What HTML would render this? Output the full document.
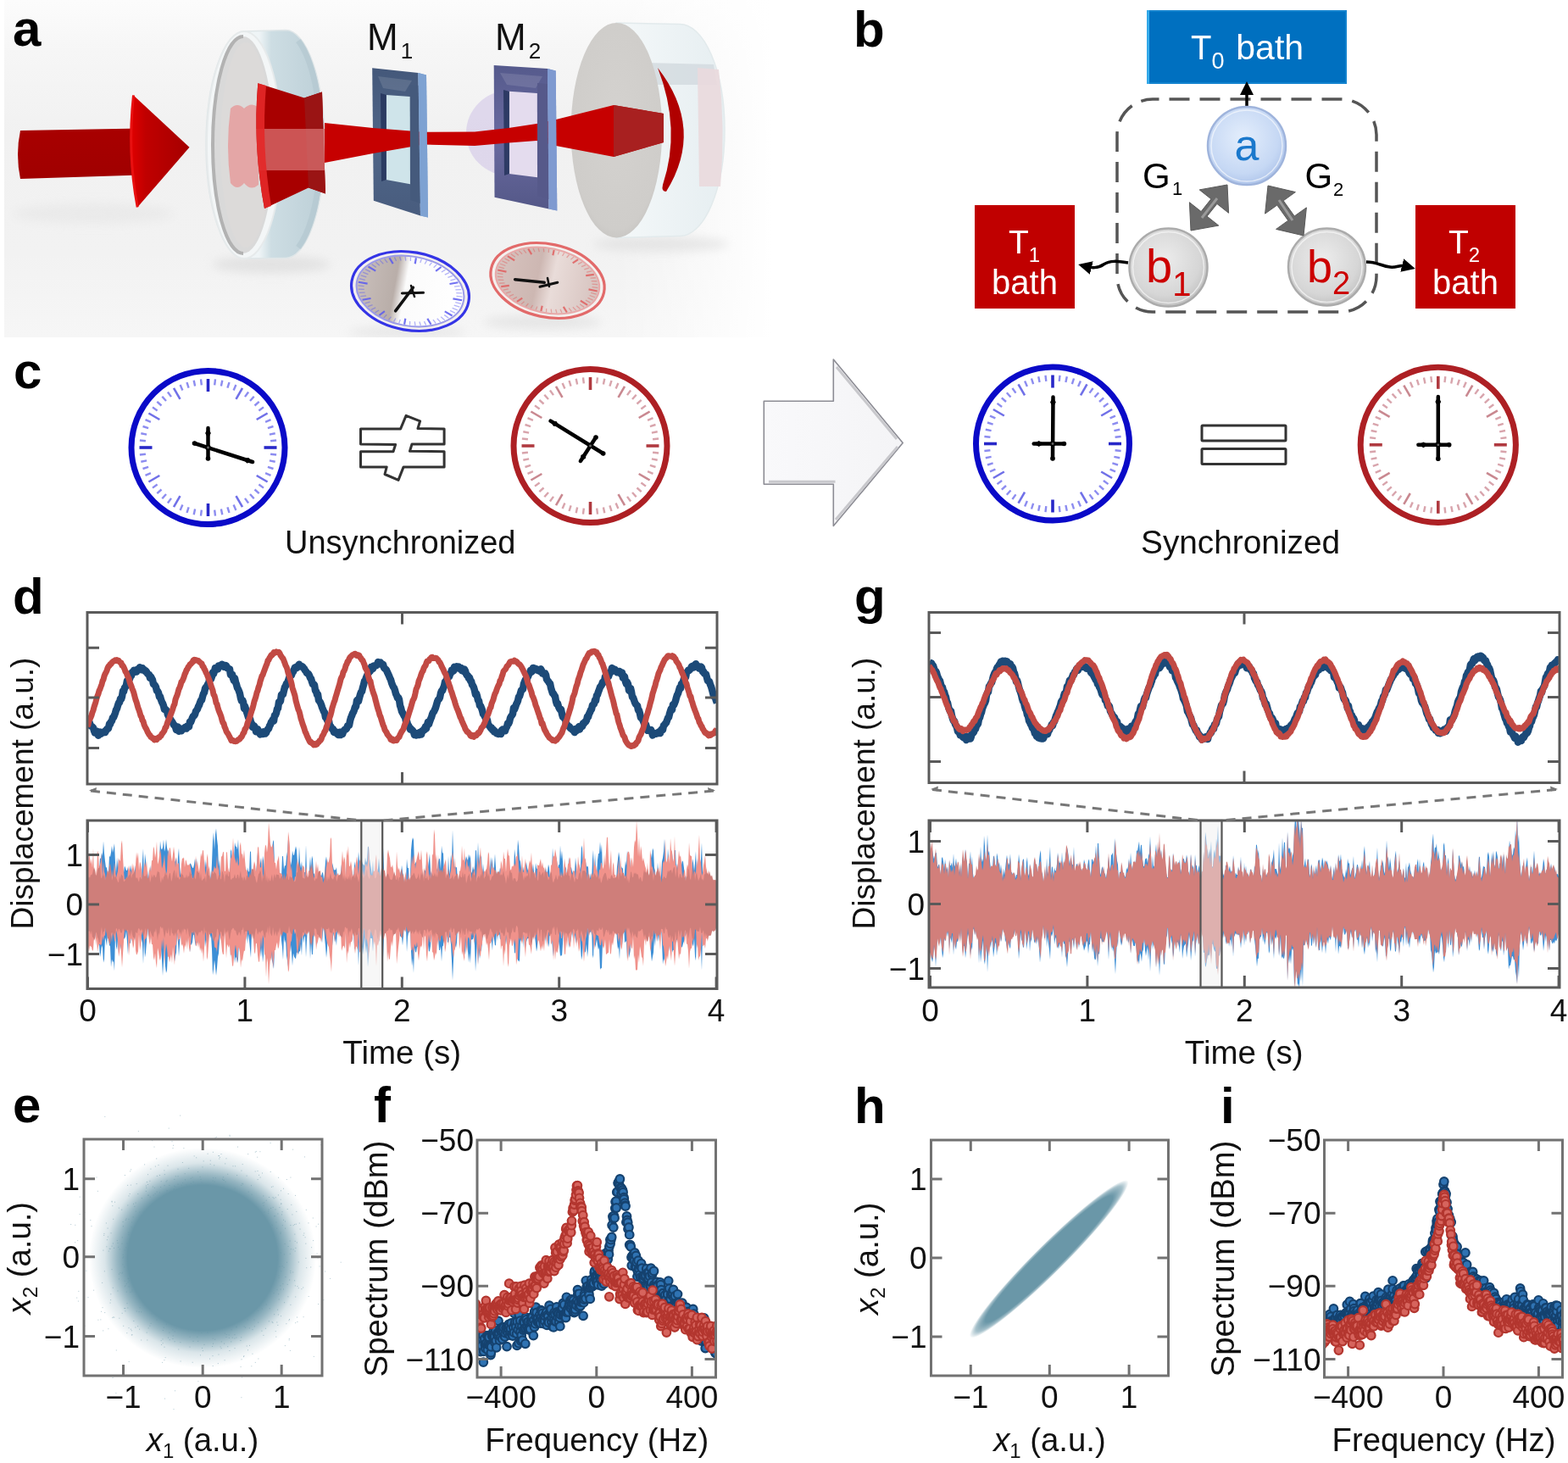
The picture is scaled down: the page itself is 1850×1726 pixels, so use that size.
<!DOCTYPE html>
<html><head><meta charset="utf-8"><title>Synchronization figure</title>
<style>
html,body{margin:0;padding:0;background:#fff;}
svg{display:block;}
</style></head><body>
<svg width="1850" height="1726" viewBox="0 0 1850 1726" font-family="'Liberation Sans', Arial, Helvetica, sans-serif">
<defs>
<linearGradient id="bgA" x1="0" y1="0" x2="0" y2="1">
<stop offset="0" stop-color="#fcfcfc"/><stop offset="0.15" stop-color="#f6f6f6"/><stop offset="0.4" stop-color="#f1f1f1"/><stop offset="0.75" stop-color="#f2f2f2"/><stop offset="1" stop-color="#f6f6f6"/></linearGradient>
<linearGradient id="bgAfade" x1="0" y1="0" x2="1" y2="0">
<stop offset="0" stop-color="#fff" stop-opacity="0"/><stop offset="0.8" stop-color="#fff" stop-opacity="0"/><stop offset="1" stop-color="#fff" stop-opacity="1"/></linearGradient>
<filter id="blur6" x="-50%" y="-50%" width="200%" height="200%"><feGaussianBlur stdDeviation="6"/></filter>
<filter id="blur2" x="-20%" y="-20%" width="140%" height="140%"><feGaussianBlur stdDeviation="1.2"/></filter>
<linearGradient id="arrHead" x1="0" y1="0" x2="1" y2="0">
<stop offset="0" stop-color="#e00000"/><stop offset="0.25" stop-color="#c00000"/><stop offset="1" stop-color="#a50000"/></linearGradient>
<linearGradient id="shaftG" x1="0" y1="0" x2="0" y2="1">
<stop offset="0" stop-color="#a80000"/><stop offset="1" stop-color="#a00000"/></linearGradient>
<linearGradient id="discBody" x1="0" y1="0" x2="1" y2="0">
<stop offset="0" stop-color="#f7fafb"/><stop offset="0.45" stop-color="#eef4f6"/><stop offset="0.55" stop-color="#cddde3"/><stop offset="1" stop-color="#bccfd7"/></linearGradient>
<linearGradient id="m1face" x1="0" y1="0" x2="0" y2="1">
<stop offset="0" stop-color="#44587a"/><stop offset="0.5" stop-color="#506688"/><stop offset="1" stop-color="#485c7e"/></linearGradient>
<linearGradient id="m2face" x1="0" y1="0" x2="0" y2="1">
<stop offset="0" stop-color="#555a8c"/><stop offset="0.5" stop-color="#6a6aa0"/><stop offset="1" stop-color="#545888"/></linearGradient>
<linearGradient id="mirBody" x1="0" y1="0" x2="1" y2="0">
<stop offset="0" stop-color="#f4f8f9"/><stop offset="1" stop-color="#e6eef1"/></linearGradient>
<radialGradient id="mirFace" cx="0.5" cy="0.45" r="0.6">
<stop offset="0" stop-color="#d4d2cf"/><stop offset="0.85" stop-color="#cfcdca"/><stop offset="1" stop-color="#c4c2bf"/></radialGradient>
<linearGradient id="clkB" x1="0" y1="0" x2="1" y2="0">
<stop offset="0" stop-color="#c9bfbb"/><stop offset="0.35" stop-color="#b9aea9"/><stop offset="0.45" stop-color="#fbfbfb"/><stop offset="1" stop-color="#ffffff"/></linearGradient>
<linearGradient id="clkR" x1="0" y1="0" x2="1" y2="0">
<stop offset="0" stop-color="#d7c3bf"/><stop offset="0.4" stop-color="#cdb7b2"/><stop offset="0.55" stop-color="#e9dcd9"/><stop offset="1" stop-color="#d6c2be"/></linearGradient>
<clipPath id="clipA"><rect x="5" y="0" width="905" height="398"/></clipPath><clipPath id="beamL"><rect x="380" y="0" width="105" height="400"/></clipPath><clipPath id="beamM"><rect x="485" y="0" width="150" height="400"/></clipPath><clipPath id="beamR"><rect x="635" y="0" width="160" height="400"/></clipPath><radialGradient id="gA" cx="0.45" cy="0.4" r="0.65">
<stop offset="0" stop-color="#e4eefc"/><stop offset="0.7" stop-color="#c6d8f4"/><stop offset="1" stop-color="#a9c0e8"/></radialGradient>
<radialGradient id="gB" cx="0.45" cy="0.4" r="0.65">
<stop offset="0" stop-color="#ececec"/><stop offset="0.7" stop-color="#d6d6d6"/><stop offset="1" stop-color="#bcbcbc"/></radialGradient>
<linearGradient id="gArr" x1="0" y1="0" x2="0" y2="1">
<stop offset="0" stop-color="#8a8a8a"/><stop offset="0.5" stop-color="#6e6e6e"/><stop offset="1" stop-color="#555"/></linearGradient>
<marker id="mk" viewBox="0 0 10 10" refX="5" refY="5" markerWidth="4.6" markerHeight="4.6" orient="auto-start-reverse"><path d="M0,0 L10,5 L0,10 z" fill="#000"/></marker><linearGradient id="gBig" x1="0" y1="0" x2="1" y2="0"><stop offset="0" stop-color="#f9f9fb"/><stop offset="1" stop-color="#f4f4f6"/></linearGradient><clipPath id="cu11"><rect x="103" y="722.5" width="743" height="202.5"/></clipPath><clipPath id="cl11"><rect x="103" y="968" width="743" height="198.5"/></clipPath><clipPath id="cu23"><rect x="1096" y="722.5" width="744" height="201.0"/></clipPath><clipPath id="cl23"><rect x="1096" y="968" width="744" height="197"/></clipPath><radialGradient id="gSc" cx="0.5" cy="0.5" r="0.5">
<stop offset="0" stop-color="#6a97a8"/><stop offset="0.66" stop-color="#6a97a8"/><stop offset="0.75" stop-color="#6a97a8" stop-opacity="0.7"/>
<stop offset="0.86" stop-color="#6a97a8" stop-opacity="0.25"/><stop offset="1" stop-color="#6a97a8" stop-opacity="0"/></radialGradient><radialGradient id="gSc2" cx="0.5" cy="0.5" r="0.5">
<stop offset="0" stop-color="#6a97a8"/><stop offset="0.8" stop-color="#6a97a8"/><stop offset="0.92" stop-color="#6a97a8" stop-opacity="0.6"/><stop offset="1" stop-color="#6a97a8" stop-opacity="0"/></radialGradient><circle id="mR" r="4.8" fill="#d6645d" stroke="#b3362f" stroke-width="2.2"/><circle id="mB" r="4.8" fill="#2f73b3" stroke="#15426f" stroke-width="2.2"/><clipPath id="cs31"><rect x="563" y="1345" width="281.5" height="280"/></clipPath><clipPath id="cs32"><rect x="1562.5" y="1345" width="281.0" height="280"/></clipPath></defs>
<rect width="1850" height="1726" fill="#fff"/>
<rect x="5" y="0" width="905" height="398" fill="url(#bgA)"/><rect x="5" y="0" width="905" height="398" fill="url(#bgAfade)"/><g clip-path="url(#clipA)"><g filter="url(#blur6)" opacity="0.55"><ellipse cx="110" cy="252" rx="95" ry="12" fill="#e4e4e4"/><ellipse cx="320" cy="312" rx="70" ry="10" fill="#d4d4d4"/><ellipse cx="480" cy="392" rx="70" ry="6" fill="#d8d8d8"/><ellipse cx="640" cy="380" rx="70" ry="8" fill="#d8d8d8"/><ellipse cx="780" cy="288" rx="80" ry="9" fill="#d8d8d8"/></g></g><path d="M24,154 L165,151.5 L165,206.5 L24,211 Q18,182 24,154 Z" fill="url(#shaftG)"/><path d="M157.5,112.4 L223.5,173.7 L162.2,244.4 Q150,180 157.5,112.4 Z" fill="url(#arrHead)"/><path d="M157.5,112.4 Q150,180 162.2,244.4" fill="none" stroke="#e81010" stroke-width="3"/><path d="M289,37 L337,35.5 A46,134.5 0 0 1 337,304.5 L289,305 A46,134 0 0 1 289,37 Z" fill="url(#discBody)" stroke="#dfe6e8" stroke-width="1.5"/><path d="M352,48 A46,134 0 0 1 352,292" fill="none" stroke="#b4c8d0" stroke-width="7" opacity="0.7"/><ellipse cx="288" cy="171" rx="44" ry="134" fill="#f3f6f7" stroke="#e6eaeb" stroke-width="2"/><ellipse cx="287" cy="171" rx="36" ry="128" fill="#d9d9d9"/><path d="M287,43 A36,128 0 0 0 287,299" fill="none" stroke="#b2b2b2" stroke-width="4"/><ellipse cx="290" cy="171" rx="30" ry="121" fill="#dcdad9"/><path d="M272,128 Q280,120 288,128 Q296,120 304,126 L305,218 Q296,226 288,216 Q280,226 272,216 Q266,172 272,128 Z" fill="#e4a0a0" opacity="0.9"/><path d="M304.3,98.2 L359,115.6 L380,108.6 L384,228.5 L364,221.6 L312,246 Q298,172 304.3,98.2 Z" fill="#a80000"/><path d="M359,115.6 L380,108.6 L384,228.5 L364,221.6 Z" fill="#9a1414"/><path d="M302,152 L383,152 L383,201 L305,201 Z" fill="#d87070" opacity="0.75"/><path d="M304.3,98.2 Q298,172 312,246 L320,243 Q308,172 314,101 Z" fill="#e42828" opacity="0.9"/><path d="M439.2,80.3 L493.5,86 L496,254.6 L440.8,236.8Z" fill="url(#m1face)"/><path d="M446,90 L486,95 L478,108 L452,104Z" fill="#ffffff" opacity="0.12"/><path d="M493.5,86 L503,88.5 L505,256.5 L496,254.6Z" fill="#7ea2d2"/><path d="M455.4,112 L483.8,114 L484,217.3 L455.4,212Z" fill="#cfe4ea"/><path d="M449,110 L456,112 L456,212 L450,214Z" fill="#24345c" opacity="0.85"/><path d="M600,107 A50,50 0 0 0 600,207 Z" fill="#c8b8e4" opacity="0.45"/><path d="M582.7,77 L646,81 L647.6,246.5 L583.5,232.7Z" fill="url(#m2face)"/><path d="M590,86 L640,90 L632,104 L598,100Z" fill="#ffffff" opacity="0.12"/><path d="M646,81 L655.7,83.5 L657.3,248.5 L647.6,246.5Z" fill="#7f9ad0"/><path d="M600.5,107.8 L633.8,110 L634,209.2 L600.5,205Z" fill="#e4dcee"/><path d="M594,106 L601,108 L601,205 L595,207Z" fill="#24345c" opacity="0.85"/><path d="M727,27 L802,28.5 A53,125 0 0 1 802,278.5 L727,280.5 Z" fill="url(#mirBody)" stroke="#e2eaec" stroke-width="1.5"/><path d="M760,74 L842,76 L846,100 L760,100 Z" fill="#d2dade" opacity="0.8"/><path d="M823,80 L848,82 Q856,150 850,220 L825,220 Z" fill="#ead9dd" opacity="0.9"/><ellipse cx="727.4" cy="153.7" rx="53.8" ry="126.8" fill="url(#mirFace)"/><path d="M383,145 L440,151 L500,155.7 L560,155.5 L600,151 L633,146 L656,141 L724,124 L783,134 L783,168 L724,185 L656,172 L633,166 L600,168.5 L560,172 L500,170.5 L440,181 L383,192Z" fill="#c60000"/><path d="M483.8,100 L493.5,101 L496,240 L484,236 Z" fill="#455a7c"/><path d="M493.5,86 L503,88.5 L505,256.5 L496,254.6 Z" fill="#7ea2d2"/><path d="M634,98 L646,99 L647.6,235 L634,231 Z" fill="#56598a"/><path d="M646,81 L655.7,83.5 L657.3,248.5 L647.6,246.5 Z" fill="#7f9ad0"/><path d="M724,124 L783,134 L783,168 L724,185 Z" fill="#a82020"/><path d="M776,80 Q832,152 786,226 Q780,226 782,218 Q804,152 776,80 Z" fill="#b00000"/><g transform="rotate(10 484 343.5)"><ellipse cx="484" cy="343.5" rx="70" ry="46" fill="#f4f0ee" stroke="#3434e6" stroke-width="3.2"/><ellipse cx="484" cy="343.5" rx="64" ry="41" fill="url(#clkB)" stroke="#9a9ae8" stroke-width="2"/><line x1="484" y1="310.7" x2="484" y2="303.7" stroke="#5a5af0" stroke-width="2.2" opacity="0.85"/><line x1="489.8" y1="308.4" x2="490.5" y2="303.9" stroke="#5a5af0" stroke-width="1.3" opacity="0.45"/><line x1="495.4" y1="309" x2="496.9" y2="304.6" stroke="#5a5af0" stroke-width="1.3" opacity="0.45"/><line x1="501" y1="310" x2="503.2" y2="305.7" stroke="#5a5af0" stroke-width="1.3" opacity="0.45"/><line x1="506.4" y1="311.3" x2="509.3" y2="307.2" stroke="#5a5af0" stroke-width="1.3" opacity="0.45"/><line x1="509.6" y1="315.1" x2="515" y2="309.1" stroke="#5a5af0" stroke-width="2.2" opacity="0.85"/><line x1="516.4" y1="315" x2="520.5" y2="311.3" stroke="#5a5af0" stroke-width="1.3" opacity="0.45"/><line x1="520.8" y1="317.3" x2="525.5" y2="313.9" stroke="#5a5af0" stroke-width="1.3" opacity="0.45"/><line x1="524.9" y1="319.9" x2="530.1" y2="316.9" stroke="#5a5af0" stroke-width="1.3" opacity="0.45"/><line x1="528.5" y1="322.8" x2="534.2" y2="320.1" stroke="#5a5af0" stroke-width="1.3" opacity="0.45"/><line x1="528.3" y1="327.1" x2="537.8" y2="323.6" stroke="#5a5af0" stroke-width="2.2" opacity="0.85"/><line x1="534.3" y1="329.2" x2="540.7" y2="327.3" stroke="#5a5af0" stroke-width="1.3" opacity="0.45"/><line x1="536.3" y1="332.6" x2="543" y2="331.2" stroke="#5a5af0" stroke-width="1.3" opacity="0.45"/><line x1="537.8" y1="336.2" x2="544.7" y2="335.2" stroke="#5a5af0" stroke-width="1.3" opacity="0.45"/><line x1="538.7" y1="339.8" x2="545.7" y2="339.3" stroke="#5a5af0" stroke-width="1.3" opacity="0.45"/><line x1="535.2" y1="343.5" x2="546.1" y2="343.5" stroke="#5a5af0" stroke-width="2.2" opacity="0.85"/><line x1="538.7" y1="347.2" x2="545.7" y2="347.7" stroke="#5a5af0" stroke-width="1.3" opacity="0.45"/><line x1="537.8" y1="350.8" x2="544.7" y2="351.8" stroke="#5a5af0" stroke-width="1.3" opacity="0.45"/><line x1="536.3" y1="354.4" x2="543" y2="355.8" stroke="#5a5af0" stroke-width="1.3" opacity="0.45"/><line x1="534.3" y1="357.8" x2="540.7" y2="359.7" stroke="#5a5af0" stroke-width="1.3" opacity="0.45"/><line x1="528.3" y1="359.9" x2="537.8" y2="363.4" stroke="#5a5af0" stroke-width="2.2" opacity="0.85"/><line x1="528.5" y1="364.2" x2="534.2" y2="366.9" stroke="#5a5af0" stroke-width="1.3" opacity="0.45"/><line x1="524.9" y1="367.1" x2="530.1" y2="370.1" stroke="#5a5af0" stroke-width="1.3" opacity="0.45"/><line x1="520.8" y1="369.7" x2="525.5" y2="373.1" stroke="#5a5af0" stroke-width="1.3" opacity="0.45"/><line x1="516.4" y1="372" x2="520.5" y2="375.7" stroke="#5a5af0" stroke-width="1.3" opacity="0.45"/><line x1="509.6" y1="371.9" x2="515" y2="377.9" stroke="#5a5af0" stroke-width="2.2" opacity="0.85"/><line x1="506.4" y1="375.7" x2="509.3" y2="379.8" stroke="#5a5af0" stroke-width="1.3" opacity="0.45"/><line x1="501" y1="377" x2="503.2" y2="381.3" stroke="#5a5af0" stroke-width="1.3" opacity="0.45"/><line x1="495.4" y1="378" x2="496.9" y2="382.4" stroke="#5a5af0" stroke-width="1.3" opacity="0.45"/><line x1="489.8" y1="378.6" x2="490.5" y2="383.1" stroke="#5a5af0" stroke-width="1.3" opacity="0.45"/><line x1="484" y1="376.3" x2="484" y2="383.3" stroke="#5a5af0" stroke-width="2.2" opacity="0.85"/><line x1="478.2" y1="378.6" x2="477.5" y2="383.1" stroke="#5a5af0" stroke-width="1.3" opacity="0.45"/><line x1="472.6" y1="378" x2="471.1" y2="382.4" stroke="#5a5af0" stroke-width="1.3" opacity="0.45"/><line x1="467" y1="377" x2="464.8" y2="381.3" stroke="#5a5af0" stroke-width="1.3" opacity="0.45"/><line x1="461.6" y1="375.7" x2="458.7" y2="379.8" stroke="#5a5af0" stroke-width="1.3" opacity="0.45"/><line x1="458.4" y1="371.9" x2="453" y2="377.9" stroke="#5a5af0" stroke-width="2.2" opacity="0.85"/><line x1="451.6" y1="372" x2="447.5" y2="375.7" stroke="#5a5af0" stroke-width="1.3" opacity="0.45"/><line x1="447.2" y1="369.7" x2="442.5" y2="373.1" stroke="#5a5af0" stroke-width="1.3" opacity="0.45"/><line x1="443.1" y1="367.1" x2="437.9" y2="370.1" stroke="#5a5af0" stroke-width="1.3" opacity="0.45"/><line x1="439.5" y1="364.2" x2="433.8" y2="366.9" stroke="#5a5af0" stroke-width="1.3" opacity="0.45"/><line x1="439.7" y1="359.9" x2="430.2" y2="363.4" stroke="#5a5af0" stroke-width="2.2" opacity="0.85"/><line x1="433.7" y1="357.8" x2="427.3" y2="359.7" stroke="#5a5af0" stroke-width="1.3" opacity="0.45"/><line x1="431.7" y1="354.4" x2="425" y2="355.8" stroke="#5a5af0" stroke-width="1.3" opacity="0.45"/><line x1="430.2" y1="350.8" x2="423.3" y2="351.8" stroke="#5a5af0" stroke-width="1.3" opacity="0.45"/><line x1="429.3" y1="347.2" x2="422.3" y2="347.7" stroke="#5a5af0" stroke-width="1.3" opacity="0.45"/><line x1="432.8" y1="343.5" x2="421.9" y2="343.5" stroke="#5a5af0" stroke-width="2.2" opacity="0.85"/><line x1="429.3" y1="339.8" x2="422.3" y2="339.3" stroke="#5a5af0" stroke-width="1.3" opacity="0.45"/><line x1="430.2" y1="336.2" x2="423.3" y2="335.2" stroke="#5a5af0" stroke-width="1.3" opacity="0.45"/><line x1="431.7" y1="332.6" x2="425" y2="331.2" stroke="#5a5af0" stroke-width="1.3" opacity="0.45"/><line x1="433.7" y1="329.2" x2="427.3" y2="327.3" stroke="#5a5af0" stroke-width="1.3" opacity="0.45"/><line x1="439.7" y1="327.1" x2="430.2" y2="323.6" stroke="#5a5af0" stroke-width="2.2" opacity="0.85"/><line x1="439.5" y1="322.8" x2="433.8" y2="320.1" stroke="#5a5af0" stroke-width="1.3" opacity="0.45"/><line x1="443.1" y1="319.9" x2="437.9" y2="316.9" stroke="#5a5af0" stroke-width="1.3" opacity="0.45"/><line x1="447.2" y1="317.3" x2="442.5" y2="313.9" stroke="#5a5af0" stroke-width="1.3" opacity="0.45"/><line x1="451.6" y1="315" x2="447.5" y2="311.3" stroke="#5a5af0" stroke-width="1.3" opacity="0.45"/><line x1="458.4" y1="315.1" x2="453" y2="309.1" stroke="#5a5af0" stroke-width="2.2" opacity="0.85"/><line x1="461.6" y1="311.3" x2="458.7" y2="307.2" stroke="#5a5af0" stroke-width="1.3" opacity="0.45"/><line x1="467" y1="310" x2="464.8" y2="305.7" stroke="#5a5af0" stroke-width="1.3" opacity="0.45"/><line x1="472.6" y1="309" x2="471.1" y2="304.6" stroke="#5a5af0" stroke-width="1.3" opacity="0.45"/><line x1="478.2" y1="308.4" x2="477.5" y2="303.9" stroke="#5a5af0" stroke-width="1.3" opacity="0.45"/></g><line x1="487.4" y1="339.2" x2="466.6" y2="366.9" stroke="#111" stroke-width="3.5" stroke-linecap="round"/><line x1="474.4" y1="346" x2="499.5" y2="345.3" stroke="#111" stroke-width="3" stroke-linecap="round"/><line x1="485" y1="337" x2="489" y2="350" stroke="#111" stroke-width="2.5" stroke-linecap="round"/><g transform="rotate(12 646 331)"><ellipse cx="646" cy="331" rx="68" ry="43" fill="#f4f0ee" stroke="#e26a6a" stroke-width="3.2"/><ellipse cx="646" cy="331" rx="62" ry="38" fill="url(#clkR)" stroke="#e8a8a8" stroke-width="2"/><line x1="646" y1="300.6" x2="646" y2="294.1" stroke="#e06060" stroke-width="2.2" opacity="0.85"/><line x1="651.6" y1="298.5" x2="652.3" y2="294.3" stroke="#e06060" stroke-width="1.3" opacity="0.45"/><line x1="657.1" y1="299" x2="658.5" y2="294.9" stroke="#e06060" stroke-width="1.3" opacity="0.45"/><line x1="662.5" y1="299.9" x2="664.6" y2="295.9" stroke="#e06060" stroke-width="1.3" opacity="0.45"/><line x1="667.7" y1="301.1" x2="670.5" y2="297.3" stroke="#e06060" stroke-width="1.3" opacity="0.45"/><line x1="670.8" y1="304.7" x2="676.1" y2="299.1" stroke="#e06060" stroke-width="2.2" opacity="0.85"/><line x1="677.3" y1="304.6" x2="681.3" y2="301.2" stroke="#e06060" stroke-width="1.3" opacity="0.45"/><line x1="681.7" y1="306.7" x2="686.2" y2="303.6" stroke="#e06060" stroke-width="1.3" opacity="0.45"/><line x1="685.6" y1="309.1" x2="690.7" y2="306.3" stroke="#e06060" stroke-width="1.3" opacity="0.45"/><line x1="689.1" y1="311.8" x2="694.7" y2="309.3" stroke="#e06060" stroke-width="1.3" opacity="0.45"/><line x1="689" y1="315.8" x2="698.1" y2="312.6" stroke="#e06060" stroke-width="2.2" opacity="0.85"/><line x1="694.7" y1="317.7" x2="700.9" y2="316" stroke="#e06060" stroke-width="1.3" opacity="0.45"/><line x1="696.7" y1="320.9" x2="703.2" y2="319.6" stroke="#e06060" stroke-width="1.3" opacity="0.45"/><line x1="698.2" y1="324.2" x2="704.8" y2="323.3" stroke="#e06060" stroke-width="1.3" opacity="0.45"/><line x1="699" y1="327.6" x2="705.8" y2="327.1" stroke="#e06060" stroke-width="1.3" opacity="0.45"/><line x1="695.6" y1="331" x2="706.1" y2="331" stroke="#e06060" stroke-width="2.2" opacity="0.85"/><line x1="699" y1="334.4" x2="705.8" y2="334.9" stroke="#e06060" stroke-width="1.3" opacity="0.45"/><line x1="698.2" y1="337.8" x2="704.8" y2="338.7" stroke="#e06060" stroke-width="1.3" opacity="0.45"/><line x1="696.7" y1="341.1" x2="703.2" y2="342.4" stroke="#e06060" stroke-width="1.3" opacity="0.45"/><line x1="694.7" y1="344.3" x2="700.9" y2="346" stroke="#e06060" stroke-width="1.3" opacity="0.45"/><line x1="689" y1="346.2" x2="698.1" y2="349.4" stroke="#e06060" stroke-width="2.2" opacity="0.85"/><line x1="689.1" y1="350.2" x2="694.7" y2="352.7" stroke="#e06060" stroke-width="1.3" opacity="0.45"/><line x1="685.6" y1="352.9" x2="690.7" y2="355.7" stroke="#e06060" stroke-width="1.3" opacity="0.45"/><line x1="681.7" y1="355.3" x2="686.2" y2="358.4" stroke="#e06060" stroke-width="1.3" opacity="0.45"/><line x1="677.3" y1="357.4" x2="681.3" y2="360.8" stroke="#e06060" stroke-width="1.3" opacity="0.45"/><line x1="670.8" y1="357.3" x2="676.1" y2="362.9" stroke="#e06060" stroke-width="2.2" opacity="0.85"/><line x1="667.7" y1="360.9" x2="670.5" y2="364.7" stroke="#e06060" stroke-width="1.3" opacity="0.45"/><line x1="662.5" y1="362.1" x2="664.6" y2="366.1" stroke="#e06060" stroke-width="1.3" opacity="0.45"/><line x1="657.1" y1="363" x2="658.5" y2="367.1" stroke="#e06060" stroke-width="1.3" opacity="0.45"/><line x1="651.6" y1="363.5" x2="652.3" y2="367.7" stroke="#e06060" stroke-width="1.3" opacity="0.45"/><line x1="646" y1="361.4" x2="646" y2="367.9" stroke="#e06060" stroke-width="2.2" opacity="0.85"/><line x1="640.4" y1="363.5" x2="639.7" y2="367.7" stroke="#e06060" stroke-width="1.3" opacity="0.45"/><line x1="634.9" y1="363" x2="633.5" y2="367.1" stroke="#e06060" stroke-width="1.3" opacity="0.45"/><line x1="629.5" y1="362.1" x2="627.4" y2="366.1" stroke="#e06060" stroke-width="1.3" opacity="0.45"/><line x1="624.3" y1="360.9" x2="621.5" y2="364.7" stroke="#e06060" stroke-width="1.3" opacity="0.45"/><line x1="621.2" y1="357.3" x2="615.9" y2="362.9" stroke="#e06060" stroke-width="2.2" opacity="0.85"/><line x1="614.7" y1="357.4" x2="610.7" y2="360.8" stroke="#e06060" stroke-width="1.3" opacity="0.45"/><line x1="610.3" y1="355.3" x2="605.8" y2="358.4" stroke="#e06060" stroke-width="1.3" opacity="0.45"/><line x1="606.4" y1="352.9" x2="601.3" y2="355.7" stroke="#e06060" stroke-width="1.3" opacity="0.45"/><line x1="602.9" y1="350.2" x2="597.3" y2="352.7" stroke="#e06060" stroke-width="1.3" opacity="0.45"/><line x1="603" y1="346.2" x2="593.9" y2="349.4" stroke="#e06060" stroke-width="2.2" opacity="0.85"/><line x1="597.3" y1="344.3" x2="591.1" y2="346" stroke="#e06060" stroke-width="1.3" opacity="0.45"/><line x1="595.3" y1="341.1" x2="588.8" y2="342.4" stroke="#e06060" stroke-width="1.3" opacity="0.45"/><line x1="593.8" y1="337.8" x2="587.2" y2="338.7" stroke="#e06060" stroke-width="1.3" opacity="0.45"/><line x1="593" y1="334.4" x2="586.2" y2="334.9" stroke="#e06060" stroke-width="1.3" opacity="0.45"/><line x1="596.4" y1="331" x2="585.9" y2="331" stroke="#e06060" stroke-width="2.2" opacity="0.85"/><line x1="593" y1="327.6" x2="586.2" y2="327.1" stroke="#e06060" stroke-width="1.3" opacity="0.45"/><line x1="593.8" y1="324.2" x2="587.2" y2="323.3" stroke="#e06060" stroke-width="1.3" opacity="0.45"/><line x1="595.3" y1="320.9" x2="588.8" y2="319.6" stroke="#e06060" stroke-width="1.3" opacity="0.45"/><line x1="597.3" y1="317.7" x2="591.1" y2="316" stroke="#e06060" stroke-width="1.3" opacity="0.45"/><line x1="603" y1="315.8" x2="593.9" y2="312.6" stroke="#e06060" stroke-width="2.2" opacity="0.85"/><line x1="602.9" y1="311.8" x2="597.3" y2="309.3" stroke="#e06060" stroke-width="1.3" opacity="0.45"/><line x1="606.4" y1="309.1" x2="601.3" y2="306.3" stroke="#e06060" stroke-width="1.3" opacity="0.45"/><line x1="610.3" y1="306.7" x2="605.8" y2="303.6" stroke="#e06060" stroke-width="1.3" opacity="0.45"/><line x1="614.7" y1="304.6" x2="610.7" y2="301.2" stroke="#e06060" stroke-width="1.3" opacity="0.45"/><line x1="621.2" y1="304.7" x2="615.9" y2="299.1" stroke="#e06060" stroke-width="2.2" opacity="0.85"/><line x1="624.3" y1="301.1" x2="621.5" y2="297.3" stroke="#e06060" stroke-width="1.3" opacity="0.45"/><line x1="629.5" y1="299.9" x2="627.4" y2="295.9" stroke="#e06060" stroke-width="1.3" opacity="0.45"/><line x1="634.9" y1="299" x2="633.5" y2="294.9" stroke="#e06060" stroke-width="1.3" opacity="0.45"/><line x1="640.4" y1="298.5" x2="639.7" y2="294.3" stroke="#e06060" stroke-width="1.3" opacity="0.45"/></g><line x1="607.6" y1="329.7" x2="642.2" y2="333.2" stroke="#111" stroke-width="3.5" stroke-linecap="round"/><line x1="637" y1="338.3" x2="657.8" y2="333.2" stroke="#111" stroke-width="3" stroke-linecap="round"/><line x1="646" y1="328" x2="648" y2="338" stroke="#111" stroke-width="2.5" stroke-linecap="round"/><text x="433" y="58.7" font-size="44" fill="#111">M<tspan font-size="26" dy="10" dx="3">1</tspan></text><text x="584" y="58.7" font-size="44" fill="#111">M<tspan font-size="26" dy="10" dx="3">2</tspan></text><rect x="1353" y="12" width="236" height="87" fill="#0070c0"/><rect x="1353" y="12" width="3" height="87" fill="#3cb4f0"/><rect x="1354" y="13" width="234" height="85" fill="none" stroke="#2a9ae0" stroke-width="1.5" opacity="0.6"/><text x="1405" y="70" font-size="40" fill="#fff">T<tspan x="1429.5" font-size="27" dy="10.5">0</tspan><tspan x="1458.3" dy="-10.5" font-size="41">bath</tspan></text><rect x="1318" y="117" width="306" height="251" rx="42" ry="42" fill="none" stroke="#555" stroke-width="3.5" stroke-dasharray="24 12" stroke-dashoffset="16.5"/><line x1="1471" y1="127" x2="1471" y2="104" stroke="#000" stroke-width="3.5" marker-end="url(#mk)"/><circle cx="1471" cy="172" r="46" fill="url(#gA)" stroke="#9fb4dc" stroke-width="2.5"/><circle cx="1471" cy="172" r="42" fill="none" stroke="#fff" stroke-width="1.5" opacity="0.6"/><text x="1471" y="189" font-size="52" fill="#1a78cc" text-anchor="middle">a</text><circle cx="1378.5" cy="315.5" r="46" fill="url(#gB)" stroke="#ababab" stroke-width="2.5"/><circle cx="1378.5" cy="315.5" r="42" fill="none" stroke="#fff" stroke-width="1.5" opacity="0.6"/><text x="1352" y="333" font-size="56" fill="#cc0000">b<tspan font-size="40" dy="16">1</tspan></text><circle cx="1565.5" cy="315" r="45.5" fill="url(#gB)" stroke="#ababab" stroke-width="2.5"/><circle cx="1565.5" cy="315" r="41.5" fill="none" stroke="#fff" stroke-width="1.5" opacity="0.6"/><text x="1542" y="333" font-size="54" fill="#cc0000">b<tspan font-size="38" dy="14">2</tspan></text><text x="1348" y="222" font-size="42" fill="#000">G<tspan x="1383" font-size="22" dy="8.4">1</tspan></text><text x="1539.5" y="222" font-size="42" fill="#000">G<tspan x="1573" font-size="22" dy="9">2</tspan></text><path d="M1405,272 L1437.8,266.1 L1424.1,255.2 L1435.9,240.4 L1449.6,251.3 L1448,218 L1415.2,223.9 L1428.9,234.8 L1417.1,249.6 L1403.4,238.7Z" fill="#6a6a6a" stroke="#5a5a5a" stroke-width="1"/><path d="M1496,219 L1492.6,252.1 L1506.8,242 L1519.8,260.2 L1505.6,270.4 L1538,278 L1541.4,244.9 L1527.2,255 L1514.2,236.8 L1528.4,226.6Z" fill="#6a6a6a" stroke="#5a5a5a" stroke-width="1"/><path d="M1418,257 L1436,234 M1509,236 L1525,260" stroke="#9a9a9a" stroke-width="3"/><rect x="1150" y="242" width="118" height="122" fill="#c00000"/><text x="1190" y="299" font-size="39" fill="#fff">T<tspan font-size="24" dy="10">1</tspan></text><text x="1209" y="347" font-size="40" fill="#fff" text-anchor="middle">bath</text><rect x="1670" y="242" width="118" height="122" fill="#c00000"/><text x="1709" y="299" font-size="39" fill="#fff">T<tspan font-size="24" dy="10">2</tspan></text><text x="1729" y="347" font-size="40" fill="#fff" text-anchor="middle">bath</text><path d="M1331,310 C1318,308 1310,307 1302,312 C1295,317 1288,316 1280,314" fill="none" stroke="#000" stroke-width="3.5" marker-end="url(#mk)"/><path d="M1612,309 C1625,309 1630,314 1640,315 C1648,316 1652,312 1658,314 L1662,315" fill="none" stroke="#000" stroke-width="3.5" marker-end="url(#mk)"/><circle cx="245.5" cy="528" r="90.5" fill="#fff" stroke="#0a0ac8" stroke-width="7"/><line x1="245.5" y1="462" x2="245.5" y2="447" stroke="#2828c8" stroke-width="3.6"/><line x1="253.2" y1="454.4" x2="254" y2="447.4" stroke="#8c8cf0" stroke-width="2.4"/><line x1="260.9" y1="455.6" x2="262.3" y2="448.8" stroke="#8c8cf0" stroke-width="2.4"/><line x1="268.4" y1="457.6" x2="270.5" y2="451" stroke="#8c8cf0" stroke-width="2.4"/><line x1="275.6" y1="460.4" x2="278.4" y2="454" stroke="#8c8cf0" stroke-width="2.4"/><line x1="278.5" y1="470.8" x2="286" y2="457.9" stroke="#7070e8" stroke-width="2.6"/><line x1="289" y1="468.1" x2="293.1" y2="462.5" stroke="#8c8cf0" stroke-width="2.4"/><line x1="295" y1="473" x2="299.7" y2="467.8" stroke="#8c8cf0" stroke-width="2.4"/><line x1="300.5" y1="478.5" x2="305.7" y2="473.8" stroke="#8c8cf0" stroke-width="2.4"/><line x1="305.4" y1="484.5" x2="311" y2="480.4" stroke="#8c8cf0" stroke-width="2.4"/><line x1="302.7" y1="495" x2="315.6" y2="487.5" stroke="#7070e8" stroke-width="2.6"/><line x1="313.1" y1="497.9" x2="319.5" y2="495.1" stroke="#8c8cf0" stroke-width="2.4"/><line x1="315.9" y1="505.1" x2="322.5" y2="503" stroke="#8c8cf0" stroke-width="2.4"/><line x1="317.9" y1="512.6" x2="324.7" y2="511.2" stroke="#8c8cf0" stroke-width="2.4"/><line x1="319.1" y1="520.3" x2="326.1" y2="519.5" stroke="#8c8cf0" stroke-width="2.4"/><line x1="311.5" y1="528" x2="326.5" y2="528" stroke="#2828c8" stroke-width="3.6"/><line x1="319.1" y1="535.7" x2="326.1" y2="536.5" stroke="#8c8cf0" stroke-width="2.4"/><line x1="317.9" y1="543.4" x2="324.7" y2="544.8" stroke="#8c8cf0" stroke-width="2.4"/><line x1="315.9" y1="550.9" x2="322.5" y2="553" stroke="#8c8cf0" stroke-width="2.4"/><line x1="313.1" y1="558.1" x2="319.5" y2="560.9" stroke="#8c8cf0" stroke-width="2.4"/><line x1="302.7" y1="561" x2="315.6" y2="568.5" stroke="#7070e8" stroke-width="2.6"/><line x1="305.4" y1="571.5" x2="311" y2="575.6" stroke="#8c8cf0" stroke-width="2.4"/><line x1="300.5" y1="577.5" x2="305.7" y2="582.2" stroke="#8c8cf0" stroke-width="2.4"/><line x1="295" y1="583" x2="299.7" y2="588.2" stroke="#8c8cf0" stroke-width="2.4"/><line x1="289" y1="587.9" x2="293.1" y2="593.5" stroke="#8c8cf0" stroke-width="2.4"/><line x1="278.5" y1="585.2" x2="286" y2="598.1" stroke="#7070e8" stroke-width="2.6"/><line x1="275.6" y1="595.6" x2="278.4" y2="602" stroke="#8c8cf0" stroke-width="2.4"/><line x1="268.4" y1="598.4" x2="270.5" y2="605" stroke="#8c8cf0" stroke-width="2.4"/><line x1="260.9" y1="600.4" x2="262.3" y2="607.2" stroke="#8c8cf0" stroke-width="2.4"/><line x1="253.2" y1="601.6" x2="254" y2="608.6" stroke="#8c8cf0" stroke-width="2.4"/><line x1="245.5" y1="594" x2="245.5" y2="609" stroke="#2828c8" stroke-width="3.6"/><line x1="237.8" y1="601.6" x2="237" y2="608.6" stroke="#8c8cf0" stroke-width="2.4"/><line x1="230.1" y1="600.4" x2="228.7" y2="607.2" stroke="#8c8cf0" stroke-width="2.4"/><line x1="222.6" y1="598.4" x2="220.5" y2="605" stroke="#8c8cf0" stroke-width="2.4"/><line x1="215.4" y1="595.6" x2="212.6" y2="602" stroke="#8c8cf0" stroke-width="2.4"/><line x1="212.5" y1="585.2" x2="205" y2="598.1" stroke="#7070e8" stroke-width="2.6"/><line x1="202" y1="587.9" x2="197.9" y2="593.5" stroke="#8c8cf0" stroke-width="2.4"/><line x1="196" y1="583" x2="191.3" y2="588.2" stroke="#8c8cf0" stroke-width="2.4"/><line x1="190.5" y1="577.5" x2="185.3" y2="582.2" stroke="#8c8cf0" stroke-width="2.4"/><line x1="185.6" y1="571.5" x2="180" y2="575.6" stroke="#8c8cf0" stroke-width="2.4"/><line x1="188.3" y1="561" x2="175.4" y2="568.5" stroke="#7070e8" stroke-width="2.6"/><line x1="177.9" y1="558.1" x2="171.5" y2="560.9" stroke="#8c8cf0" stroke-width="2.4"/><line x1="175.1" y1="550.9" x2="168.5" y2="553" stroke="#8c8cf0" stroke-width="2.4"/><line x1="173.1" y1="543.4" x2="166.3" y2="544.8" stroke="#8c8cf0" stroke-width="2.4"/><line x1="171.9" y1="535.7" x2="164.9" y2="536.5" stroke="#8c8cf0" stroke-width="2.4"/><line x1="179.5" y1="528" x2="164.5" y2="528" stroke="#2828c8" stroke-width="3.6"/><line x1="171.9" y1="520.3" x2="164.9" y2="519.5" stroke="#8c8cf0" stroke-width="2.4"/><line x1="173.1" y1="512.6" x2="166.3" y2="511.2" stroke="#8c8cf0" stroke-width="2.4"/><line x1="175.1" y1="505.1" x2="168.5" y2="503" stroke="#8c8cf0" stroke-width="2.4"/><line x1="177.9" y1="497.9" x2="171.5" y2="495.1" stroke="#8c8cf0" stroke-width="2.4"/><line x1="188.3" y1="495" x2="175.4" y2="487.5" stroke="#7070e8" stroke-width="2.6"/><line x1="185.6" y1="484.5" x2="180" y2="480.4" stroke="#8c8cf0" stroke-width="2.4"/><line x1="190.5" y1="478.5" x2="185.3" y2="473.8" stroke="#8c8cf0" stroke-width="2.4"/><line x1="196" y1="473" x2="191.3" y2="467.8" stroke="#8c8cf0" stroke-width="2.4"/><line x1="202" y1="468.1" x2="197.9" y2="462.5" stroke="#8c8cf0" stroke-width="2.4"/><line x1="212.5" y1="470.8" x2="205" y2="457.9" stroke="#7070e8" stroke-width="2.6"/><line x1="215.4" y1="460.4" x2="212.6" y2="454" stroke="#8c8cf0" stroke-width="2.4"/><line x1="222.6" y1="457.6" x2="220.5" y2="451" stroke="#8c8cf0" stroke-width="2.4"/><line x1="230.1" y1="455.6" x2="228.7" y2="448.8" stroke="#8c8cf0" stroke-width="2.4"/><line x1="237.8" y1="454.4" x2="237" y2="447.4" stroke="#8c8cf0" stroke-width="2.4"/><line x1="229.5" y1="523" x2="298" y2="545" stroke="#000" stroke-width="4.5" stroke-linecap="round"/><path d="M298,545 L291.2,546.4 L286.6,541.3 L293.3,539.9Z" fill="#000"/><circle cx="229.5" cy="523" r="2.8" fill="#000"/><line x1="245.5" y1="541" x2="245.5" y2="505" stroke="#000" stroke-width="4.5" stroke-linecap="round"/><path d="M245.5,505 L248.9,511 L245.5,517 L242.1,511Z" fill="#000"/><circle cx="245.5" cy="541" r="2.8" fill="#000"/><circle cx="245.5" cy="528" r="3.2" fill="#000"/><circle cx="245.5" cy="528" r="1.4" fill="#666"/><circle cx="696.5" cy="526" r="90.5" fill="#fff" stroke="#ad2024" stroke-width="7"/><line x1="696.5" y1="460" x2="696.5" y2="445" stroke="#b03a40" stroke-width="3.6"/><line x1="704.2" y1="452.4" x2="705" y2="445.4" stroke="#d8a4ac" stroke-width="2.4"/><line x1="711.9" y1="453.6" x2="713.3" y2="446.8" stroke="#d8a4ac" stroke-width="2.4"/><line x1="719.4" y1="455.6" x2="721.5" y2="449" stroke="#d8a4ac" stroke-width="2.4"/><line x1="726.6" y1="458.4" x2="729.4" y2="452" stroke="#d8a4ac" stroke-width="2.4"/><line x1="729.5" y1="468.8" x2="737" y2="455.9" stroke="#c98890" stroke-width="2.6"/><line x1="740" y1="466.1" x2="744.1" y2="460.5" stroke="#d8a4ac" stroke-width="2.4"/><line x1="746" y1="471" x2="750.7" y2="465.8" stroke="#d8a4ac" stroke-width="2.4"/><line x1="751.5" y1="476.5" x2="756.7" y2="471.8" stroke="#d8a4ac" stroke-width="2.4"/><line x1="756.4" y1="482.5" x2="762" y2="478.4" stroke="#d8a4ac" stroke-width="2.4"/><line x1="753.7" y1="493" x2="766.6" y2="485.5" stroke="#c98890" stroke-width="2.6"/><line x1="764.1" y1="495.9" x2="770.5" y2="493.1" stroke="#d8a4ac" stroke-width="2.4"/><line x1="766.9" y1="503.1" x2="773.5" y2="501" stroke="#d8a4ac" stroke-width="2.4"/><line x1="768.9" y1="510.6" x2="775.7" y2="509.2" stroke="#d8a4ac" stroke-width="2.4"/><line x1="770.1" y1="518.3" x2="777.1" y2="517.5" stroke="#d8a4ac" stroke-width="2.4"/><line x1="762.5" y1="526" x2="777.5" y2="526" stroke="#b03a40" stroke-width="3.6"/><line x1="770.1" y1="533.7" x2="777.1" y2="534.5" stroke="#d8a4ac" stroke-width="2.4"/><line x1="768.9" y1="541.4" x2="775.7" y2="542.8" stroke="#d8a4ac" stroke-width="2.4"/><line x1="766.9" y1="548.9" x2="773.5" y2="551" stroke="#d8a4ac" stroke-width="2.4"/><line x1="764.1" y1="556.1" x2="770.5" y2="558.9" stroke="#d8a4ac" stroke-width="2.4"/><line x1="753.7" y1="559" x2="766.6" y2="566.5" stroke="#c98890" stroke-width="2.6"/><line x1="756.4" y1="569.5" x2="762" y2="573.6" stroke="#d8a4ac" stroke-width="2.4"/><line x1="751.5" y1="575.5" x2="756.7" y2="580.2" stroke="#d8a4ac" stroke-width="2.4"/><line x1="746" y1="581" x2="750.7" y2="586.2" stroke="#d8a4ac" stroke-width="2.4"/><line x1="740" y1="585.9" x2="744.1" y2="591.5" stroke="#d8a4ac" stroke-width="2.4"/><line x1="729.5" y1="583.2" x2="737" y2="596.1" stroke="#c98890" stroke-width="2.6"/><line x1="726.6" y1="593.6" x2="729.4" y2="600" stroke="#d8a4ac" stroke-width="2.4"/><line x1="719.4" y1="596.4" x2="721.5" y2="603" stroke="#d8a4ac" stroke-width="2.4"/><line x1="711.9" y1="598.4" x2="713.3" y2="605.2" stroke="#d8a4ac" stroke-width="2.4"/><line x1="704.2" y1="599.6" x2="705" y2="606.6" stroke="#d8a4ac" stroke-width="2.4"/><line x1="696.5" y1="592" x2="696.5" y2="607" stroke="#b03a40" stroke-width="3.6"/><line x1="688.8" y1="599.6" x2="688" y2="606.6" stroke="#d8a4ac" stroke-width="2.4"/><line x1="681.1" y1="598.4" x2="679.7" y2="605.2" stroke="#d8a4ac" stroke-width="2.4"/><line x1="673.6" y1="596.4" x2="671.5" y2="603" stroke="#d8a4ac" stroke-width="2.4"/><line x1="666.4" y1="593.6" x2="663.6" y2="600" stroke="#d8a4ac" stroke-width="2.4"/><line x1="663.5" y1="583.2" x2="656" y2="596.1" stroke="#c98890" stroke-width="2.6"/><line x1="653" y1="585.9" x2="648.9" y2="591.5" stroke="#d8a4ac" stroke-width="2.4"/><line x1="647" y1="581" x2="642.3" y2="586.2" stroke="#d8a4ac" stroke-width="2.4"/><line x1="641.5" y1="575.5" x2="636.3" y2="580.2" stroke="#d8a4ac" stroke-width="2.4"/><line x1="636.6" y1="569.5" x2="631" y2="573.6" stroke="#d8a4ac" stroke-width="2.4"/><line x1="639.3" y1="559" x2="626.4" y2="566.5" stroke="#c98890" stroke-width="2.6"/><line x1="628.9" y1="556.1" x2="622.5" y2="558.9" stroke="#d8a4ac" stroke-width="2.4"/><line x1="626.1" y1="548.9" x2="619.5" y2="551" stroke="#d8a4ac" stroke-width="2.4"/><line x1="624.1" y1="541.4" x2="617.3" y2="542.8" stroke="#d8a4ac" stroke-width="2.4"/><line x1="622.9" y1="533.7" x2="615.9" y2="534.5" stroke="#d8a4ac" stroke-width="2.4"/><line x1="630.5" y1="526" x2="615.5" y2="526" stroke="#b03a40" stroke-width="3.6"/><line x1="622.9" y1="518.3" x2="615.9" y2="517.5" stroke="#d8a4ac" stroke-width="2.4"/><line x1="624.1" y1="510.6" x2="617.3" y2="509.2" stroke="#d8a4ac" stroke-width="2.4"/><line x1="626.1" y1="503.1" x2="619.5" y2="501" stroke="#d8a4ac" stroke-width="2.4"/><line x1="628.9" y1="495.9" x2="622.5" y2="493.1" stroke="#d8a4ac" stroke-width="2.4"/><line x1="639.3" y1="493" x2="626.4" y2="485.5" stroke="#c98890" stroke-width="2.6"/><line x1="636.6" y1="482.5" x2="631" y2="478.4" stroke="#d8a4ac" stroke-width="2.4"/><line x1="641.5" y1="476.5" x2="636.3" y2="471.8" stroke="#d8a4ac" stroke-width="2.4"/><line x1="647" y1="471" x2="642.3" y2="465.8" stroke="#d8a4ac" stroke-width="2.4"/><line x1="653" y1="466.1" x2="648.9" y2="460.5" stroke="#d8a4ac" stroke-width="2.4"/><line x1="663.5" y1="468.8" x2="656" y2="455.9" stroke="#c98890" stroke-width="2.6"/><line x1="666.4" y1="458.4" x2="663.6" y2="452" stroke="#d8a4ac" stroke-width="2.4"/><line x1="673.6" y1="455.6" x2="671.5" y2="449" stroke="#d8a4ac" stroke-width="2.4"/><line x1="681.1" y1="453.6" x2="679.7" y2="446.8" stroke="#d8a4ac" stroke-width="2.4"/><line x1="688.8" y1="452.4" x2="688" y2="445.4" stroke="#d8a4ac" stroke-width="2.4"/><line x1="711.7" y1="535" x2="649.6" y2="496.7" stroke="#000" stroke-width="4.5" stroke-linecap="round"/><path d="M649.6,496.7 L656.5,497 L659.8,503.1 L652.9,502.8Z" fill="#000"/><circle cx="711.7" cy="535" r="2.8" fill="#000"/><line x1="703" y1="516" x2="684.9" y2="544" stroke="#000" stroke-width="4.5" stroke-linecap="round"/><path d="M684.9,544 L685.3,537.1 L691.4,533.9 L691,540.8Z" fill="#000"/><circle cx="703" cy="516" r="2.8" fill="#000"/><circle cx="696.5" cy="526" r="3.2" fill="#000"/><circle cx="696.5" cy="526" r="1.4" fill="#666"/><circle cx="1242" cy="523.5" r="90.5" fill="#fff" stroke="#0a0ac8" stroke-width="7"/><line x1="1242" y1="457.5" x2="1242" y2="442.5" stroke="#2828c8" stroke-width="3.6"/><line x1="1249.7" y1="449.9" x2="1250.5" y2="442.9" stroke="#8c8cf0" stroke-width="2.4"/><line x1="1257.4" y1="451.1" x2="1258.8" y2="444.3" stroke="#8c8cf0" stroke-width="2.4"/><line x1="1264.9" y1="453.1" x2="1267" y2="446.5" stroke="#8c8cf0" stroke-width="2.4"/><line x1="1272.1" y1="455.9" x2="1274.9" y2="449.5" stroke="#8c8cf0" stroke-width="2.4"/><line x1="1275" y1="466.3" x2="1282.5" y2="453.4" stroke="#7070e8" stroke-width="2.6"/><line x1="1285.5" y1="463.6" x2="1289.6" y2="458" stroke="#8c8cf0" stroke-width="2.4"/><line x1="1291.5" y1="468.5" x2="1296.2" y2="463.3" stroke="#8c8cf0" stroke-width="2.4"/><line x1="1297" y1="474" x2="1302.2" y2="469.3" stroke="#8c8cf0" stroke-width="2.4"/><line x1="1301.9" y1="480" x2="1307.5" y2="475.9" stroke="#8c8cf0" stroke-width="2.4"/><line x1="1299.2" y1="490.5" x2="1312.1" y2="483" stroke="#7070e8" stroke-width="2.6"/><line x1="1309.6" y1="493.4" x2="1316" y2="490.6" stroke="#8c8cf0" stroke-width="2.4"/><line x1="1312.4" y1="500.6" x2="1319" y2="498.5" stroke="#8c8cf0" stroke-width="2.4"/><line x1="1314.4" y1="508.1" x2="1321.2" y2="506.7" stroke="#8c8cf0" stroke-width="2.4"/><line x1="1315.6" y1="515.8" x2="1322.6" y2="515" stroke="#8c8cf0" stroke-width="2.4"/><line x1="1308" y1="523.5" x2="1323" y2="523.5" stroke="#2828c8" stroke-width="3.6"/><line x1="1315.6" y1="531.2" x2="1322.6" y2="532" stroke="#8c8cf0" stroke-width="2.4"/><line x1="1314.4" y1="538.9" x2="1321.2" y2="540.3" stroke="#8c8cf0" stroke-width="2.4"/><line x1="1312.4" y1="546.4" x2="1319" y2="548.5" stroke="#8c8cf0" stroke-width="2.4"/><line x1="1309.6" y1="553.6" x2="1316" y2="556.4" stroke="#8c8cf0" stroke-width="2.4"/><line x1="1299.2" y1="556.5" x2="1312.1" y2="564" stroke="#7070e8" stroke-width="2.6"/><line x1="1301.9" y1="567" x2="1307.5" y2="571.1" stroke="#8c8cf0" stroke-width="2.4"/><line x1="1297" y1="573" x2="1302.2" y2="577.7" stroke="#8c8cf0" stroke-width="2.4"/><line x1="1291.5" y1="578.5" x2="1296.2" y2="583.7" stroke="#8c8cf0" stroke-width="2.4"/><line x1="1285.5" y1="583.4" x2="1289.6" y2="589" stroke="#8c8cf0" stroke-width="2.4"/><line x1="1275" y1="580.7" x2="1282.5" y2="593.6" stroke="#7070e8" stroke-width="2.6"/><line x1="1272.1" y1="591.1" x2="1274.9" y2="597.5" stroke="#8c8cf0" stroke-width="2.4"/><line x1="1264.9" y1="593.9" x2="1267" y2="600.5" stroke="#8c8cf0" stroke-width="2.4"/><line x1="1257.4" y1="595.9" x2="1258.8" y2="602.7" stroke="#8c8cf0" stroke-width="2.4"/><line x1="1249.7" y1="597.1" x2="1250.5" y2="604.1" stroke="#8c8cf0" stroke-width="2.4"/><line x1="1242" y1="589.5" x2="1242" y2="604.5" stroke="#2828c8" stroke-width="3.6"/><line x1="1234.3" y1="597.1" x2="1233.5" y2="604.1" stroke="#8c8cf0" stroke-width="2.4"/><line x1="1226.6" y1="595.9" x2="1225.2" y2="602.7" stroke="#8c8cf0" stroke-width="2.4"/><line x1="1219.1" y1="593.9" x2="1217" y2="600.5" stroke="#8c8cf0" stroke-width="2.4"/><line x1="1211.9" y1="591.1" x2="1209.1" y2="597.5" stroke="#8c8cf0" stroke-width="2.4"/><line x1="1209" y1="580.7" x2="1201.5" y2="593.6" stroke="#7070e8" stroke-width="2.6"/><line x1="1198.5" y1="583.4" x2="1194.4" y2="589" stroke="#8c8cf0" stroke-width="2.4"/><line x1="1192.5" y1="578.5" x2="1187.8" y2="583.7" stroke="#8c8cf0" stroke-width="2.4"/><line x1="1187" y1="573" x2="1181.8" y2="577.7" stroke="#8c8cf0" stroke-width="2.4"/><line x1="1182.1" y1="567" x2="1176.5" y2="571.1" stroke="#8c8cf0" stroke-width="2.4"/><line x1="1184.8" y1="556.5" x2="1171.9" y2="564" stroke="#7070e8" stroke-width="2.6"/><line x1="1174.4" y1="553.6" x2="1168" y2="556.4" stroke="#8c8cf0" stroke-width="2.4"/><line x1="1171.6" y1="546.4" x2="1165" y2="548.5" stroke="#8c8cf0" stroke-width="2.4"/><line x1="1169.6" y1="538.9" x2="1162.8" y2="540.3" stroke="#8c8cf0" stroke-width="2.4"/><line x1="1168.4" y1="531.2" x2="1161.4" y2="532" stroke="#8c8cf0" stroke-width="2.4"/><line x1="1176" y1="523.5" x2="1161" y2="523.5" stroke="#2828c8" stroke-width="3.6"/><line x1="1168.4" y1="515.8" x2="1161.4" y2="515" stroke="#8c8cf0" stroke-width="2.4"/><line x1="1169.6" y1="508.1" x2="1162.8" y2="506.7" stroke="#8c8cf0" stroke-width="2.4"/><line x1="1171.6" y1="500.6" x2="1165" y2="498.5" stroke="#8c8cf0" stroke-width="2.4"/><line x1="1174.4" y1="493.4" x2="1168" y2="490.6" stroke="#8c8cf0" stroke-width="2.4"/><line x1="1184.8" y1="490.5" x2="1171.9" y2="483" stroke="#7070e8" stroke-width="2.6"/><line x1="1182.1" y1="480" x2="1176.5" y2="475.9" stroke="#8c8cf0" stroke-width="2.4"/><line x1="1187" y1="474" x2="1181.8" y2="469.3" stroke="#8c8cf0" stroke-width="2.4"/><line x1="1192.5" y1="468.5" x2="1187.8" y2="463.3" stroke="#8c8cf0" stroke-width="2.4"/><line x1="1198.5" y1="463.6" x2="1194.4" y2="458" stroke="#8c8cf0" stroke-width="2.4"/><line x1="1209" y1="466.3" x2="1201.5" y2="453.4" stroke="#7070e8" stroke-width="2.6"/><line x1="1211.9" y1="455.9" x2="1209.1" y2="449.5" stroke="#8c8cf0" stroke-width="2.4"/><line x1="1219.1" y1="453.1" x2="1217" y2="446.5" stroke="#8c8cf0" stroke-width="2.4"/><line x1="1226.6" y1="451.1" x2="1225.2" y2="444.3" stroke="#8c8cf0" stroke-width="2.4"/><line x1="1234.3" y1="449.9" x2="1233.5" y2="442.9" stroke="#8c8cf0" stroke-width="2.4"/><line x1="1242" y1="541" x2="1242.5" y2="468.6" stroke="#000" stroke-width="4.5" stroke-linecap="round"/><path d="M1242.5,468.6 L1245.8,474.6 L1242.4,480.6 L1239,474.6Z" fill="#000"/><circle cx="1242" cy="541" r="2.8" fill="#000"/><line x1="1255.4" y1="523.5" x2="1219.7" y2="523.5" stroke="#000" stroke-width="4.5" stroke-linecap="round"/><path d="M1219.7,523.5 L1225.7,520.1 L1231.7,523.5 L1225.7,526.9Z" fill="#000"/><circle cx="1255.4" cy="523.5" r="2.8" fill="#000"/><circle cx="1242" cy="523.5" r="3.2" fill="#000"/><circle cx="1242" cy="523.5" r="1.4" fill="#666"/><circle cx="1696.8" cy="524.8" r="91.6" fill="#fff" stroke="#ad2024" stroke-width="7"/><line x1="1696.8" y1="458.8" x2="1696.8" y2="443.8" stroke="#b03a40" stroke-width="3.6"/><line x1="1704.5" y1="451.2" x2="1705.3" y2="444.2" stroke="#d8a4ac" stroke-width="2.4"/><line x1="1712.2" y1="452.4" x2="1713.6" y2="445.6" stroke="#d8a4ac" stroke-width="2.4"/><line x1="1719.7" y1="454.4" x2="1721.8" y2="447.8" stroke="#d8a4ac" stroke-width="2.4"/><line x1="1726.9" y1="457.2" x2="1729.7" y2="450.8" stroke="#d8a4ac" stroke-width="2.4"/><line x1="1729.8" y1="467.6" x2="1737.3" y2="454.7" stroke="#c98890" stroke-width="2.6"/><line x1="1740.3" y1="464.9" x2="1744.4" y2="459.3" stroke="#d8a4ac" stroke-width="2.4"/><line x1="1746.3" y1="469.8" x2="1751" y2="464.6" stroke="#d8a4ac" stroke-width="2.4"/><line x1="1751.8" y1="475.3" x2="1757" y2="470.6" stroke="#d8a4ac" stroke-width="2.4"/><line x1="1756.7" y1="481.3" x2="1762.3" y2="477.2" stroke="#d8a4ac" stroke-width="2.4"/><line x1="1754" y1="491.8" x2="1766.9" y2="484.3" stroke="#c98890" stroke-width="2.6"/><line x1="1764.4" y1="494.7" x2="1770.8" y2="491.9" stroke="#d8a4ac" stroke-width="2.4"/><line x1="1767.2" y1="501.9" x2="1773.8" y2="499.8" stroke="#d8a4ac" stroke-width="2.4"/><line x1="1769.2" y1="509.4" x2="1776" y2="508" stroke="#d8a4ac" stroke-width="2.4"/><line x1="1770.4" y1="517.1" x2="1777.4" y2="516.3" stroke="#d8a4ac" stroke-width="2.4"/><line x1="1762.8" y1="524.8" x2="1777.8" y2="524.8" stroke="#b03a40" stroke-width="3.6"/><line x1="1770.4" y1="532.5" x2="1777.4" y2="533.3" stroke="#d8a4ac" stroke-width="2.4"/><line x1="1769.2" y1="540.2" x2="1776" y2="541.6" stroke="#d8a4ac" stroke-width="2.4"/><line x1="1767.2" y1="547.7" x2="1773.8" y2="549.8" stroke="#d8a4ac" stroke-width="2.4"/><line x1="1764.4" y1="554.9" x2="1770.8" y2="557.7" stroke="#d8a4ac" stroke-width="2.4"/><line x1="1754" y1="557.8" x2="1766.9" y2="565.3" stroke="#c98890" stroke-width="2.6"/><line x1="1756.7" y1="568.3" x2="1762.3" y2="572.4" stroke="#d8a4ac" stroke-width="2.4"/><line x1="1751.8" y1="574.3" x2="1757" y2="579" stroke="#d8a4ac" stroke-width="2.4"/><line x1="1746.3" y1="579.8" x2="1751" y2="585" stroke="#d8a4ac" stroke-width="2.4"/><line x1="1740.3" y1="584.7" x2="1744.4" y2="590.3" stroke="#d8a4ac" stroke-width="2.4"/><line x1="1729.8" y1="582" x2="1737.3" y2="594.9" stroke="#c98890" stroke-width="2.6"/><line x1="1726.9" y1="592.4" x2="1729.7" y2="598.8" stroke="#d8a4ac" stroke-width="2.4"/><line x1="1719.7" y1="595.2" x2="1721.8" y2="601.8" stroke="#d8a4ac" stroke-width="2.4"/><line x1="1712.2" y1="597.2" x2="1713.6" y2="604" stroke="#d8a4ac" stroke-width="2.4"/><line x1="1704.5" y1="598.4" x2="1705.3" y2="605.4" stroke="#d8a4ac" stroke-width="2.4"/><line x1="1696.8" y1="590.8" x2="1696.8" y2="605.8" stroke="#b03a40" stroke-width="3.6"/><line x1="1689.1" y1="598.4" x2="1688.3" y2="605.4" stroke="#d8a4ac" stroke-width="2.4"/><line x1="1681.4" y1="597.2" x2="1680" y2="604" stroke="#d8a4ac" stroke-width="2.4"/><line x1="1673.9" y1="595.2" x2="1671.8" y2="601.8" stroke="#d8a4ac" stroke-width="2.4"/><line x1="1666.7" y1="592.4" x2="1663.9" y2="598.8" stroke="#d8a4ac" stroke-width="2.4"/><line x1="1663.8" y1="582" x2="1656.3" y2="594.9" stroke="#c98890" stroke-width="2.6"/><line x1="1653.3" y1="584.7" x2="1649.2" y2="590.3" stroke="#d8a4ac" stroke-width="2.4"/><line x1="1647.3" y1="579.8" x2="1642.6" y2="585" stroke="#d8a4ac" stroke-width="2.4"/><line x1="1641.8" y1="574.3" x2="1636.6" y2="579" stroke="#d8a4ac" stroke-width="2.4"/><line x1="1636.9" y1="568.3" x2="1631.3" y2="572.4" stroke="#d8a4ac" stroke-width="2.4"/><line x1="1639.6" y1="557.8" x2="1626.7" y2="565.3" stroke="#c98890" stroke-width="2.6"/><line x1="1629.2" y1="554.9" x2="1622.8" y2="557.7" stroke="#d8a4ac" stroke-width="2.4"/><line x1="1626.4" y1="547.7" x2="1619.8" y2="549.8" stroke="#d8a4ac" stroke-width="2.4"/><line x1="1624.4" y1="540.2" x2="1617.6" y2="541.6" stroke="#d8a4ac" stroke-width="2.4"/><line x1="1623.2" y1="532.5" x2="1616.2" y2="533.3" stroke="#d8a4ac" stroke-width="2.4"/><line x1="1630.8" y1="524.8" x2="1615.8" y2="524.8" stroke="#b03a40" stroke-width="3.6"/><line x1="1623.2" y1="517.1" x2="1616.2" y2="516.3" stroke="#d8a4ac" stroke-width="2.4"/><line x1="1624.4" y1="509.4" x2="1617.6" y2="508" stroke="#d8a4ac" stroke-width="2.4"/><line x1="1626.4" y1="501.9" x2="1619.8" y2="499.8" stroke="#d8a4ac" stroke-width="2.4"/><line x1="1629.2" y1="494.7" x2="1622.8" y2="491.9" stroke="#d8a4ac" stroke-width="2.4"/><line x1="1639.6" y1="491.8" x2="1626.7" y2="484.3" stroke="#c98890" stroke-width="2.6"/><line x1="1636.9" y1="481.3" x2="1631.3" y2="477.2" stroke="#d8a4ac" stroke-width="2.4"/><line x1="1641.8" y1="475.3" x2="1636.6" y2="470.6" stroke="#d8a4ac" stroke-width="2.4"/><line x1="1647.3" y1="469.8" x2="1642.6" y2="464.6" stroke="#d8a4ac" stroke-width="2.4"/><line x1="1653.3" y1="464.9" x2="1649.2" y2="459.3" stroke="#d8a4ac" stroke-width="2.4"/><line x1="1663.8" y1="467.6" x2="1656.3" y2="454.7" stroke="#c98890" stroke-width="2.6"/><line x1="1666.7" y1="457.2" x2="1663.9" y2="450.8" stroke="#d8a4ac" stroke-width="2.4"/><line x1="1673.9" y1="454.4" x2="1671.8" y2="447.8" stroke="#d8a4ac" stroke-width="2.4"/><line x1="1681.4" y1="452.4" x2="1680" y2="445.6" stroke="#d8a4ac" stroke-width="2.4"/><line x1="1689.1" y1="451.2" x2="1688.3" y2="444.2" stroke="#d8a4ac" stroke-width="2.4"/><line x1="1696.8" y1="541.3" x2="1696.8" y2="468" stroke="#000" stroke-width="4.5" stroke-linecap="round"/><path d="M1696.8,468 L1700.2,474 L1696.8,480 L1693.4,474Z" fill="#000"/><circle cx="1696.8" cy="541.3" r="2.8" fill="#000"/><line x1="1709.7" y1="524.8" x2="1673.4" y2="524.8" stroke="#000" stroke-width="4.5" stroke-linecap="round"/><path d="M1673.4,524.8 L1679.4,521.4 L1685.4,524.8 L1679.4,528.2Z" fill="#000"/><circle cx="1709.7" cy="524.8" r="2.8" fill="#000"/><circle cx="1696.8" cy="524.8" r="3.2" fill="#000"/><circle cx="1696.8" cy="524.8" r="1.4" fill="#666"/><path d="M425.5,505.9 L472.6,505.9 L479.1,490.3 L495.6,496.8 L493,505.5 L524.1,505.9 L524.1,524 L486,524 L483.5,532.3 L524.1,532.7 L524.1,550.9 L476.1,550.9 L470,566.4 L454,559.5 L456.2,550.9 L425.5,550.9 L425.5,532.7 L464,532.7 L466.6,524.5 L425.5,524Z" fill="#fff" stroke="#333" stroke-width="3" stroke-linejoin="round"/><rect x="1418" y="502" width="99" height="18" fill="#fff" stroke="#333" stroke-width="3" rx="1"/><rect x="1418" y="529.5" width="99" height="18" fill="#fff" stroke="#333" stroke-width="3" rx="1"/><path d="M901.3,473.3 L983.3,473.3 L983.3,424 L1065.2,522.6 L983.3,620.5 L983.3,571.2 L901.3,571.2 Z" fill="url(#gBig)" stroke="#8c8c94" stroke-width="1.6" stroke-linejoin="round"/><path d="M907,568.3 L985.5,568.3 M1059,527 L986,613 M987,433 L1058,518" fill="none" stroke="#c8c8cc" stroke-width="3"/><text x="336" y="653" font-size="38" fill="#111">Unsynchronized</text><text x="1346" y="653" font-size="38.8" fill="#111">Synchronized</text><g clip-path="url(#cu11)"><path d="M103,845.4 L104,846.9 L105,850.5 L106,853.5 L107,856.4 L108,856.7 L109,857.5 L110,858.6 L111,862.1 L112,864.6 L113,863.7 L114,862.5 L115,863.6 L116,867.7 L117,866.1 L118,863.6 L119,865.9 L120,864.2 L121,864.6 L122,864.2 L123,863.2 L124,864.1 L125,862.2 L126,860.2 L127,860.2 L128,859.3 L129,854.2 L130,854.3 L131,851.4 L132,850.4 L133,846.7 L134,846.3 L135,843.9 L136,841.1 L137,837.5 L138,835.9 L139,832.3 L140,829.3 L141,828.9 L142,824.4 L143,824.9 L144,821.7 L145,815.3 L146,815.9 L147,811.5 L148,810.6 L149,808.3 L150,803.1 L151,803.4 L152,801.3 L153,801.1 L154,796.2 L155,797.2 L156,793.1 L157,792.8 L158,790.8 L159,792.9 L160,790.8 L161,792.6 L162,789.6 L163,789.4 L164,789.2 L165,787.2 L166,788 L167,790.3 L168,788.2 L169,789.6 L170,790 L171,791.8 L172,791.4 L173,792.8 L174,794.6 L175,795.7 L176,795.9 L177,799.9 L178,798.5 L179,800.5 L180,802.2 L181,807.3 L182,807.5 L183,808.8 L184,810.7 L185,815.1 L186,815.3 L187,817.3 L188,822.2 L189,822 L190,825.6 L191,828.3 L192,830 L193,832.8 L194,837 L195,836.6 L196,837.7 L197,839 L198,843.3 L199,845.1 L200,847.8 L201,848.5 L202,850.2 L203,851.4 L204,853.1 L205,855.4 L206,855.8 L207,857.6 L208,861 L209,859.8 L210,857.6 L211,862.8 L212,861.2 L213,859.6 L214,862.3 L215,860.9 L216,859.8 L217,859.4 L218,858.3 L219,859.1 L220,859.6 L221,856.7 L222,856.6 L223,857.3 L224,851.5 L225,852 L226,849.6 L227,846.7 L228,844.9 L229,844.3 L230,842.8 L231,839.3 L232,837.9 L233,836.5 L234,833.5 L235,831.9 L236,828.9 L237,826.5 L238,825.9 L239,821.8 L240,818.6 L241,817 L242,812.3 L243,810.7 L244,810 L245,807.5 L246,806.6 L247,802.3 L248,798.2 L249,801.1 L250,798.1 L251,793.3 L252,795.1 L253,791.8 L254,787.9 L255,788.6 L256,787.4 L257,789.5 L258,785.4 L259,785.5 L260,785 L261,784.6 L262,783.7 L263,785.4 L264,786.8 L265,786.5 L266,785 L267,785.4 L268,788.1 L269,788.1 L270,789.5 L271,789.4 L272,796.1 L273,796.4 L274,795.6 L275,800.3 L276,803 L277,800 L278,804.9 L279,807.6 L280,811.5 L281,813 L282,815.5 L283,818.4 L284,823.8 L285,826.9 L286,825.9 L287,828 L288,835.8 L289,833.3 L290,836.5 L291,839.9 L292,843 L293,846.2 L294,847.6 L295,848.1 L296,852.1 L297,853.7 L298,857.9 L299,856.9 L300,856.6 L301,858.4 L302,863.2 L303,861.5 L304,860.2 L305,863.1 L306,864.4 L307,866.5 L308,863.6 L309,865.9 L310,865.9 L311,863.4 L312,863.6 L313,865.6 L314,864.6 L315,862.2 L316,860.2 L317,859.9 L318,856.5 L319,854.8 L320,851.8 L321,851 L322,848.7 L323,850.5 L324,843.9 L325,843.5 L326,841.1 L327,836.3 L328,835.6 L329,828.2 L330,828.6 L331,827 L332,819.7 L333,818.7 L334,819.1 L335,814.6 L336,810.8 L337,809.2 L338,806.5 L339,805.9 L340,803.2 L341,800 L342,797.4 L343,796.4 L344,796.5 L345,793.5 L346,792.4 L347,790 L348,787.3 L349,787.1 L350,788.2 L351,786.8 L352,785 L353,783.8 L354,786.2 L355,785.7 L356,786 L357,786.5 L358,788.1 L359,789 L360,790.9 L361,792.1 L362,794 L363,794.8 L364,794.9 L365,797.1 L366,799.8 L367,800.8 L368,804.2 L369,807.3 L370,806.9 L371,808.1 L372,814.7 L373,815.7 L374,819.3 L375,819.1 L376,826.1 L377,827.4 L378,828.9 L379,831.3 L380,834.6 L381,836.9 L382,839.3 L383,840.6 L384,846.4 L385,847 L386,849.4 L387,851.6 L388,850.2 L389,856.1 L390,856.7 L391,858.4 L392,860.3 L393,860.2 L394,863.9 L395,862.7 L396,863.3 L397,864 L398,865.9 L399,867 L400,865.2 L401,863.8 L402,867.1 L403,863.6 L404,866.1 L405,863.5 L406,861.6 L407,860.4 L408,860.6 L409,859.6 L410,856.4 L411,856.1 L412,855.7 L413,850.4 L414,846.8 L415,844.6 L416,841.6 L417,840.1 L418,837.4 L419,833.8 L420,833.6 L421,826.5 L422,825.4 L423,827.3 L424,823.1 L425,819.5 L426,816.6 L427,815.7 L428,811.3 L429,808 L430,803.6 L431,802.8 L432,799.5 L433,797.2 L434,795.1 L435,794 L436,791.8 L437,791.7 L438,787.1 L439,787.3 L440,788.9 L441,785.4 L442,786.1 L443,785.4 L444,785.1 L445,784 L446,781 L447,782.6 L448,782.7 L449,781.6 L450,783.8 L451,783.5 L452,783.9 L453,787.7 L454,788.7 L455,789.4 L456,790.7 L457,793.1 L458,795.2 L459,797.3 L460,800 L461,801.8 L462,805.4 L463,808.1 L464,810.4 L465,811.6 L466,814.4 L467,818.6 L468,820.5 L469,823.5 L470,822.9 L471,825.4 L472,832.4 L473,835.2 L474,839.3 L475,841 L476,842.9 L477,845.1 L478,845.4 L479,851 L480,851 L481,854.6 L482,856.1 L483,858 L484,860.5 L485,860 L486,861.4 L487,861.9 L488,863.5 L489,867.1 L490,864.9 L491,867.4 L492,867.1 L493,867 L494,867 L495,864.1 L496,865.6 L497,866.6 L498,862.6 L499,862.6 L500,860.5 L501,860.7 L502,857.3 L503,859.6 L504,855.1 L505,851.7 L506,854.4 L507,851.3 L508,848.5 L509,846.3 L510,842.8 L511,840.6 L512,839.5 L513,837.3 L514,834.8 L515,831.3 L516,827.8 L517,825.6 L518,824.8 L519,822.8 L520,817.7 L521,815.1 L522,815 L523,811.9 L524,809.5 L525,804.5 L526,803.6 L527,801.4 L528,800.4 L529,795.9 L530,798.3 L531,795.3 L532,794 L533,790.4 L534,790.9 L535,791.7 L536,786.8 L537,788.7 L538,788.7 L539,786.3 L540,788.2 L541,786.5 L542,788.8 L543,788.1 L544,788.1 L545,791.3 L546,790.4 L547,792 L548,789.6 L549,791.6 L550,795.1 L551,796.8 L552,797.1 L553,800.1 L554,799.4 L555,803.2 L556,803.5 L557,807.8 L558,809 L559,811.1 L560,814.6 L561,819.5 L562,818.1 L563,821.3 L564,826.2 L565,826.7 L566,832.4 L567,832.8 L568,835.1 L569,838 L570,842.4 L571,843.3 L572,845.4 L573,847.3 L574,846.9 L575,849.9 L576,855.1 L577,856 L578,857.2 L579,859 L580,858.7 L581,861.2 L582,860.6 L583,863.3 L584,862.6 L585,863.9 L586,865.3 L587,864.4 L588,865.9 L589,865.6 L590,865.2 L591,866.1 L592,861.5 L593,860.6 L594,862.7 L595,862 L596,862.2 L597,859 L598,857.5 L599,853.4 L600,853.8 L601,851.7 L602,847.1 L603,845.1 L604,843.9 L605,842.1 L606,835.1 L607,836.8 L608,834.4 L609,831.2 L610,829.2 L611,826.8 L612,822.2 L613,821.5 L614,818 L615,814.5 L616,813.6 L617,813 L618,806.5 L619,804 L620,801.8 L621,804.8 L622,799.8 L623,798.2 L624,795.6 L625,793.8 L626,790.9 L627,792.8 L628,791.9 L629,787.9 L630,788.5 L631,788.4 L632,789.1 L633,789.4 L634,790.6 L635,791.2 L636,791.1 L637,792.1 L638,789.3 L639,791.1 L640,794.5 L641,794.5 L642,795.5 L643,794.2 L644,796 L645,801.4 L646,802.8 L647,803.9 L648,805.9 L649,806.2 L650,811.5 L651,814.8 L652,818 L653,818.3 L654,820.4 L655,821.7 L656,827.5 L657,830.7 L658,830 L659,833.7 L660,835.9 L661,837.4 L662,837 L663,842.3 L664,845.8 L665,845.1 L666,847.9 L667,846.4 L668,854.5 L669,855 L670,855.9 L671,856.8 L672,857.4 L673,859.3 L674,859.8 L675,860.6 L676,861.4 L677,862 L678,864.1 L679,860 L680,862.2 L681,860.6 L682,859.4 L683,857.1 L684,860.5 L685,857.3 L686,856.5 L687,857 L688,853.5 L689,853.6 L690,851.8 L691,851.4 L692,849.8 L693,845.3 L694,845.8 L695,842.2 L696,840.4 L697,837.7 L698,836.8 L699,831.7 L700,831.4 L701,830.3 L702,825.8 L703,826.7 L704,820.4 L705,819.4 L706,816.1 L707,813.6 L708,810.6 L709,809.3 L710,807.8 L711,804.8 L712,805.2 L713,804.2 L714,798.2 L715,799.9 L716,797.5 L717,796.2 L718,798.1 L719,795.2 L720,793 L721,792 L722,788.1 L723,791.7 L724,789.2 L725,790.3 L726,790.1 L727,791.5 L728,793.3 L729,792.3 L730,793.3 L731,792 L732,793.9 L733,795.5 L734,793.6 L735,799.9 L736,797.5 L737,798.4 L738,804.3 L739,806.9 L740,804.9 L741,807.1 L742,814.5 L743,812.6 L744,812 L745,816.3 L746,822.4 L747,823 L748,825.7 L749,828.8 L750,830.6 L751,831.7 L752,832.4 L753,837.7 L754,838 L755,841.8 L756,846.7 L757,847.2 L758,848.7 L759,850.8 L760,853.7 L761,855.8 L762,854.5 L763,858.2 L764,861.8 L765,861.8 L766,860.9 L767,862.1 L768,861 L769,863.6 L770,867.5 L771,865.6 L772,864.7 L773,865.2 L774,865.8 L775,865.5 L776,864.7 L777,863.6 L778,864.8 L779,865.1 L780,861.1 L781,859.9 L782,860.9 L783,855.7 L784,855.2 L785,853.7 L786,852.6 L787,850 L788,847 L789,846.4 L790,842 L791,838.8 L792,836 L793,837.3 L794,831.3 L795,831.8 L796,829.5 L797,827 L798,823 L799,819.9 L800,818.2 L801,814.6 L802,811.1 L803,812.2 L804,806.8 L805,808.2 L806,804.2 L807,800.7 L808,799.8 L809,799 L810,793.5 L811,792.5 L812,790.7 L813,791 L814,790 L815,788.4 L816,786.4 L817,785.8 L818,787.6 L819,787 L820,785.3 L821,783.2 L822,785.9 L823,785.7 L824,786 L825,788.7 L826,788.2 L827,786.6 L828,787.7 L829,792.2 L830,792 L831,794.6 L832,794.9 L833,795.6 L834,799.4 L835,803.3 L836,803.8 L837,804.1 L838,807.6 L839,809.9 L840,813.4 L841,817.2 L842,821.2 L843,821.5 L844,823.3 L845,826.7 L846,829.3" fill="none" stroke="#1c4a78" stroke-width="8.5" stroke-linejoin="round"/><path d="M103,857 L104,855 L105,849.8 L106,848.6 L107,846.5 L108,843.9 L109,840.5 L110,838 L111,834.2 L112,831.2 L113,827.9 L114,824 L115,821 L116,818.6 L117,814.9 L118,813 L119,810 L120,807.4 L121,803.5 L122,801.6 L123,797.6 L124,795.2 L125,793.3 L126,791.3 L127,788.1 L128,786.1 L129,785.7 L130,783.4 L131,783.3 L132,781.7 L133,780.7 L134,779.9 L135,779.8 L136,778.8 L137,779.5 L138,778.6 L139,779.1 L140,779.4 L141,780.9 L142,781.5 L143,782.1 L144,785.2 L145,785.3 L146,787.2 L147,789.4 L148,792.3 L149,793.4 L150,796.3 L151,798.5 L152,800.2 L153,804.3 L154,807.3 L155,809.5 L156,812.6 L157,814.8 L158,817.9 L159,821.8 L160,825.6 L161,828.1 L162,831.7 L163,835.2 L164,837.8 L165,841.1 L166,844.6 L167,845.9 L168,849.8 L169,850.9 L170,854.9 L171,857.2 L172,859 L173,860.8 L174,863.3 L175,864.9 L176,866.8 L177,867.6 L178,869.6 L179,869.7 L180,870.9 L181,871.4 L182,872.8 L183,871.3 L184,871.9 L185,872.6 L186,871 L187,870 L188,870.1 L189,868.7 L190,868.2 L191,865.8 L192,864.9 L193,863.4 L194,861.8 L195,858.4 L196,857.8 L197,854.1 L198,851.3 L199,849.1 L200,847.1 L201,844.1 L202,841.7 L203,838.8 L204,835.8 L205,832.5 L206,830.7 L207,825.2 L208,822.5 L209,820.2 L210,816.7 L211,813 L212,811.1 L213,808.3 L214,804.5 L215,803.7 L216,801.4 L217,798.8 L218,795.4 L219,793.5 L220,790.6 L221,789.4 L222,787 L223,786 L224,784 L225,783.5 L226,782.3 L227,781.5 L228,779 L229,778.3 L230,779.3 L231,778.5 L232,779.1 L233,779.2 L234,779.6 L235,780.7 L236,781.4 L237,782.4 L238,782.9 L239,785.9 L240,786.6 L241,789.1 L242,790.7 L243,793.4 L244,795.1 L245,797.7 L246,800.3 L247,802.5 L248,805.5 L249,808.7 L250,811.8 L251,814.4 L252,819.6 L253,820.8 L254,824.4 L255,829.3 L256,830.7 L257,834.8 L258,837.9 L259,840.5 L260,842.8 L261,845.7 L262,849.6 L263,852.6 L264,853.7 L265,857.7 L266,859.6 L267,862.7 L268,864.4 L269,865.7 L270,867.6 L271,869.5 L272,871.6 L273,873.7 L274,873 L275,873.6 L276,874.4 L277,874.3 L278,874.7 L279,874.4 L280,873.8 L281,872.7 L282,872.4 L283,871.8 L284,870.1 L285,869.5 L286,867.5 L287,865 L288,864.1 L289,860.2 L290,859.2 L291,857.1 L292,853.1 L293,850.4 L294,848.1 L295,845.4 L296,841.7 L297,838.4 L298,835.5 L299,831.8 L300,827.5 L301,824.8 L302,821.5 L303,817.2 L304,814.9 L305,810.9 L306,808.4 L307,803.9 L308,801 L309,797.6 L310,796.2 L311,793.4 L312,790.7 L313,788.1 L314,785.3 L315,783 L316,779.3 L317,778.5 L318,776.2 L319,774.7 L320,772.8 L321,773.1 L322,771.4 L323,769.7 L324,770.3 L325,769.6 L326,768.9 L327,769.5 L328,769.6 L329,769.3 L330,770.7 L331,773.1 L332,774.4 L333,776 L334,777 L335,779.5 L336,782.2 L337,785.1 L338,786.9 L339,789.6 L340,794 L341,796.5 L342,799.6 L343,802.8 L344,806.4 L345,811.4 L346,814.7 L347,817.7 L348,820.9 L349,826.5 L350,830.2 L351,833.7 L352,837.2 L353,839.2 L354,843.1 L355,847.7 L356,850.6 L357,854.1 L358,856.7 L359,859.6 L360,863.1 L361,865 L362,867.6 L363,869.9 L364,871.9 L365,874.1 L366,875.7 L367,875.3 L368,876.9 L369,877.4 L370,878.7 L371,877.8 L372,878.8 L373,878.5 L374,877.9 L375,876.2 L376,875.7 L377,874 L378,873.5 L379,872.2 L380,868.9 L381,867.4 L382,865.6 L383,863 L384,861.8 L385,858.1 L386,855.6 L387,851.8 L388,850.4 L389,846.4 L390,843.5 L391,839.8 L392,835.1 L393,832 L394,828.7 L395,826.3 L396,822.3 L397,819.4 L398,815.8 L399,812.4 L400,809.4 L401,805.7 L402,801.4 L403,798.9 L404,797.3 L405,792.8 L406,791.5 L407,789.1 L408,785.3 L409,783.6 L410,780.5 L411,779.9 L412,777.2 L413,775.4 L414,774.6 L415,773.5 L416,772.6 L417,772.4 L418,771.7 L419,771.2 L420,772.2 L421,773.4 L422,772.5 L423,772.8 L424,773.6 L425,775.8 L426,776.7 L427,778.5 L428,779.2 L429,781.8 L430,784.1 L431,787.8 L432,789.7 L433,791.2 L434,795.9 L435,799.4 L436,802.6 L437,803.5 L438,808.6 L439,812.4 L440,815.8 L441,818.8 L442,821.4 L443,825.7 L444,829.3 L445,833.3 L446,836.8 L447,839.6 L448,843.6 L449,845.6 L450,848.9 L451,852.2 L452,855.4 L453,857.5 L454,860.9 L455,862.6 L456,863.9 L457,866.4 L458,867.5 L459,868.9 L460,869.9 L461,872.6 L462,873 L463,872 L464,873.9 L465,873.9 L466,872.9 L467,873 L468,873.4 L469,871.3 L470,870.3 L471,869.5 L472,866.7 L473,864.9 L474,862.9 L475,861.6 L476,860 L477,856.6 L478,853.7 L479,852 L480,848.9 L481,846.6 L482,843.1 L483,840 L484,836.9 L485,833.7 L486,829.9 L487,826.5 L488,824.8 L489,822.4 L490,818 L491,813.1 L492,810.9 L493,808.4 L494,803.7 L495,801.4 L496,798.6 L497,795.5 L498,792.9 L499,791.6 L500,788.4 L501,786.4 L502,785.5 L503,782.2 L504,780 L505,780.1 L506,779.7 L507,777.6 L508,776.9 L509,775.4 L510,775.3 L511,776.6 L512,776.6 L513,776.5 L514,776.3 L515,776.6 L516,777.6 L517,778.6 L518,781 L519,781.6 L520,783.4 L521,786 L522,787.9 L523,789.7 L524,792.2 L525,794.3 L526,795.6 L527,799.4 L528,801.9 L529,804.8 L530,808 L531,810.5 L532,814.5 L533,816.7 L534,820 L535,823.2 L536,825.9 L537,829.5 L538,832.6 L539,835.4 L540,837.5 L541,840.3 L542,843.2 L543,846.2 L544,847.6 L545,850.7 L546,852.8 L547,855.3 L548,857.1 L549,860 L550,861.5 L551,863.3 L552,863.5 L553,864.8 L554,866 L555,868 L556,868.6 L557,867.5 L558,868.5 L559,869.3 L560,867.2 L561,867.3 L562,867.6 L563,866.5 L564,864.5 L565,864.9 L566,863.3 L567,861.6 L568,858.9 L569,857.7 L570,856.7 L571,854.2 L572,852.2 L573,849.2 L574,847.9 L575,844.4 L576,842.5 L577,839.5 L578,836 L579,834.7 L580,830.2 L581,827.7 L582,825.3 L583,821.5 L584,818.4 L585,816.6 L586,813.6 L587,810.9 L588,808.7 L589,807.1 L590,802.9 L591,802.1 L592,798.4 L593,795.9 L594,792.2 L595,790.9 L596,790 L597,788.5 L598,786 L599,785.3 L600,784.3 L601,782.3 L602,780.8 L603,780.4 L604,780.2 L605,780.2 L606,780.3 L607,779.2 L608,780 L609,780.2 L610,781 L611,782.4 L612,783.5 L613,783.7 L614,784.9 L615,786.5 L616,788.3 L617,790.2 L618,792.4 L619,794.5 L620,796.5 L621,798.9 L622,802.2 L623,806.3 L624,808 L625,810.9 L626,813.7 L627,816.4 L628,820.8 L629,822.5 L630,825.2 L631,828.1 L632,832.1 L633,834.4 L634,837.5 L635,840.5 L636,843.2 L637,846.9 L638,848.5 L639,853.6 L640,853.1 L641,856.3 L642,859.5 L643,861.8 L644,863.3 L645,865.5 L646,867.1 L647,868.5 L648,870.1 L649,871 L650,871.7 L651,872.3 L652,873.5 L653,873.1 L654,873.6 L655,874.1 L656,873 L657,872.9 L658,871 L659,870.3 L660,869.1 L661,867.4 L662,865.8 L663,864.4 L664,861.2 L665,858.6 L666,856.7 L667,852.9 L668,850.9 L669,848.6 L670,844.8 L671,841.9 L672,838.5 L673,835.6 L674,831.7 L675,828 L676,822.3 L677,820.4 L678,817.6 L679,813.5 L680,809.6 L681,807.2 L682,802.7 L683,799.7 L684,797.1 L685,793.2 L686,790.7 L687,787.7 L688,784.3 L689,782.2 L690,780 L691,777.6 L692,776.7 L693,774.3 L694,772.4 L695,770.6 L696,770.2 L697,770.3 L698,768.8 L699,769 L700,768.7 L701,768.3 L702,768.4 L703,770 L704,769.6 L705,772.1 L706,772.5 L707,775.4 L708,776.6 L709,779 L710,782 L711,783.4 L712,786.8 L713,789.5 L714,793.1 L715,796.5 L716,799.7 L717,803.2 L718,806.4 L719,810.8 L720,814.1 L721,818.1 L722,822 L723,825 L724,829 L725,833.6 L726,837.3 L727,841.8 L728,843.3 L729,848.4 L730,852.4 L731,855.1 L732,858.7 L733,861.2 L734,864 L735,867.2 L736,868.4 L737,870 L738,873.6 L739,875.2 L740,876.7 L741,878.1 L742,879.3 L743,879.4 L744,880.4 L745,880.6 L746,879.6 L747,879.9 L748,879.6 L749,878.2 L750,878.2 L751,876.1 L752,875.2 L753,873.8 L754,870 L755,867.9 L756,866.6 L757,863.6 L758,861.2 L759,859 L760,854.6 L761,852.1 L762,848.1 L763,844.4 L764,841.6 L765,837.8 L766,834.7 L767,830.5 L768,827.1 L769,823.2 L770,818.2 L771,815.4 L772,811.8 L773,809 L774,804.4 L775,801.8 L776,798.3 L777,794.3 L778,792.4 L779,790.2 L780,787 L781,785.4 L782,782.9 L783,780.9 L784,778.7 L785,777.4 L786,776.5 L787,775.2 L788,773.7 L789,773.8 L790,773.9 L791,774.3 L792,774.3 L793,773.7 L794,775.3 L795,774.7 L796,776.3 L797,777.4 L798,780.2 L799,781.3 L800,782.8 L801,784.2 L802,787.4 L803,788.7 L804,791.5 L805,794.4 L806,796.2 L807,799.4 L808,800.7 L809,805.1 L810,806.7 L811,811 L812,814 L813,817.2 L814,821.4 L815,821.7 L816,826.5 L817,829.1 L818,832.8 L819,835.5 L820,838.3 L821,840.8 L822,843.4 L823,846.7 L824,848.1 L825,852 L826,853.3 L827,856 L828,857 L829,859.8 L830,861 L831,863 L832,864.5 L833,864.5 L834,865.8 L835,866.5 L836,867.7 L837,866.3 L838,867.5 L839,866.9 L840,865.8 L841,865.7 L842,864.7 L843,864.8 L844,862.3 L845,862.1 L846,859.6" fill="none" stroke="#c24a44" stroke-width="7" stroke-linejoin="round"/></g><rect x="103" y="722.5" width="743" height="202.5" fill="none" stroke="#5a5a5a" stroke-width="3"/><path d="M103,764.2h14M846,764.2h-14" stroke="#5a5a5a" stroke-width="3"/><path d="M103,823.1h14M846,823.1h-14" stroke="#5a5a5a" stroke-width="3"/><path d="M103,882.5h14M846,882.5h-14" stroke="#5a5a5a" stroke-width="3"/><path d="M474.5,925v-14M474.5,722.5v14" stroke="#5a5a5a" stroke-width="3"/><g clip-path="url(#cl11)"><path d="M104,1032.4 L105,1043.5 L106,1033.3 L107,1035.1 L108,1044.4 L109,1029.2 L110,1036.5 L111,1031.7 L112,1033.4 L113,1032.5 L114,1044.9 L115,1034.7 L116,1039.9 L117,1028.5 L118,1012.3 L119,1013.1 L120,1005.8 L121,1010.1 L122,992.2 L123,1006.4 L124,1016.1 L125,1023.7 L126,1023 L127,1031.3 L128,1032 L129,1009.2 L130,1011.2 L131,1005.7 L132,997.8 L133,1005.9 L134,1001 L135,995.1 L136,1017.9 L137,1030.6 L138,1011.3 L139,1023.9 L140,1014.8 L141,1014.1 L142,1025.1 L143,1020.2 L144,1037.8 L145,1031.8 L146,1029.7 L147,1021.6 L148,1023.7 L149,1026.9 L150,1026.7 L151,1023 L152,1041.5 L153,1027.4 L154,1020.6 L155,1027.9 L156,1024.5 L157,1043.4 L158,1044.1 L159,1026.8 L160,1020.4 L161,1021.2 L162,1014.7 L163,1028.4 L164,1038.6 L165,1027.5 L166,1027.9 L167,1035.8 L168,1014.9 L169,1001.1 L170,1036 L171,1006.9 L172,1015.3 L173,1032.1 L174,1037.5 L175,1026.4 L176,1041.6 L177,1030.1 L178,1020.3 L179,1043.5 L180,1034.7 L181,1034 L182,1036.9 L183,1035.1 L184,1010.1 L185,1043.7 L186,1040.1 L187,1031.7 L188,1013.9 L189,992 L190,1001 L191,1002.6 L192,999.6 L193,990.6 L194,1004.8 L195,1000.8 L196,989.9 L197,1000 L198,1005 L199,1002.2 L200,1028 L201,1021.8 L202,1026.8 L203,1035.4 L204,1044.6 L205,1019.3 L206,1017.1 L207,1015.4 L208,1011.7 L209,1030.7 L210,1011.2 L211,1000.6 L212,1021 L213,1032.6 L214,1032.3 L215,1032 L216,1029.6 L217,1034.4 L218,1025.2 L219,1027.2 L220,1029.9 L221,1026.6 L222,1037.3 L223,1033.1 L224,1018.8 L225,1018.8 L226,1020.9 L227,1023.6 L228,1024.2 L229,1020.2 L230,1012.9 L231,1021.3 L232,1012.3 L233,1030.9 L234,1033.1 L235,1039.6 L236,1036.3 L237,1021.3 L238,1018 L239,1034.7 L240,1037 L241,1031 L242,1013.4 L243,1023.6 L244,1016.8 L245,1031.7 L246,1034.9 L247,1044.4 L248,1026.8 L249,1039.8 L250,1017.6 L251,992.2 L252,982.1 L253,1002.3 L254,984.6 L255,977.2 L256,989.5 L257,997.9 L258,1022.7 L259,1013.7 L260,1034.1 L261,1038.7 L262,1027.2 L263,1041.5 L264,1027.5 L265,1042.5 L266,1036.2 L267,1031.9 L268,1033.9 L269,1029.4 L270,1033.5 L271,1037.1 L272,1004.4 L273,1001.7 L274,1018.6 L275,1023.7 L276,1013.7 L277,993.8 L278,998.7 L279,998.5 L280,1002.6 L281,990.1 L282,1011.5 L283,1029.3 L284,1028.5 L285,1025.8 L286,1038.9 L287,1036.7 L288,1021.2 L289,1032.3 L290,1021.5 L291,1042 L292,1023.3 L293,1027.5 L294,1029 L295,1005.3 L296,1003.9 L297,1037.9 L298,1032.3 L299,1033.4 L300,1034.8 L301,1026.4 L302,1031.8 L303,1017.6 L304,1005.5 L305,1019.9 L306,1023.3 L307,1018.6 L308,1011.7 L309,1029.1 L310,1009.5 L311,1015.6 L312,1026.1 L313,1002.5 L314,1027.3 L315,1027 L316,1043 L317,1029.4 L318,1025.5 L319,1025.3 L320,1002.3 L321,1003.3 L322,992.9 L323,991.1 L324,1020.3 L325,1032.3 L326,1039.1 L327,1033.9 L328,1045.6 L329,1024 L330,1033.9 L331,1037.3 L332,1035.7 L333,1010 L334,1010.3 L335,1026 L336,1020.7 L337,1021.7 L338,1010.7 L339,1004.4 L340,990 L341,991.2 L342,1013.8 L343,1021.1 L344,1016.3 L345,1003.5 L346,1008.7 L347,1008.7 L348,1003.2 L349,998.3 L350,1002.8 L351,1018.2 L352,1023.1 L353,998.7 L354,1017.4 L355,1024.4 L356,1015.7 L357,1030 L358,1024.9 L359,1028.9 L360,1029.3 L361,996.7 L362,1028.9 L363,1047.1 L364,1038.2 L365,1025.5 L366,1010.6 L367,1025.5 L368,1009.4 L369,1013.6 L370,1029.7 L371,1031.4 L372,1045.3 L373,1045.5 L374,1022.8 L375,1029.1 L376,1030.8 L377,1027.6 L378,1031.7 L379,1034 L380,1029.9 L381,1028.7 L382,1037.9 L383,1030.7 L384,1015.8 L385,1010.3 L386,1019 L387,1042.1 L388,1031.8 L389,1045.3 L390,1045.4 L391,1025.1 L392,1017.9 L393,1021.9 L394,1026.8 L395,1026 L396,1026.4 L397,1023.1 L398,1037.5 L399,1036.5 L400,1042.5 L401,1038.6 L402,1028.2 L403,1019.3 L404,1027.1 L405,1029.1 L406,1028.4 L407,1042 L408,1040.7 L409,1011.8 L410,1030.9 L411,1041.9 L412,1043.5 L413,1031.1 L414,1036.5 L415,1025.3 L416,1033.8 L417,1035.6 L418,1021.4 L419,1016.1 L420,1038.1 L421,1017.5 L422,1023.9 L423,1004.7 L424,1015.6 L425,1020.4 L426,1009.7 L427,1016.1 L428,1019.3 L429,1020 L430,1021.6 L431,1011.5 L432,1018.2 L433,1014.9 L434,998.4 L435,999.5 L436,1013.1 L437,1020.1 L438,1026.1 L439,1032.5 L440,1015.3 L441,1035.8 L442,1038.1 L443,1037.7 L444,1031.8 L445,1030.2 L446,1024.5 L447,1012.2 L448,1025.6 L449,1035.3 L450,1037.1 L451,1024.5 L452,999.9 L453,1024.2 L454,1036.9 L455,1034.9 L456,1039.6 L457,1035 L458,1030.4 L459,1039.3 L460,1025.8 L461,1032.2 L462,1035.3 L463,1039.9 L464,1036.5 L465,1030.1 L466,1037.4 L467,1037.5 L468,1030.9 L469,1034.5 L470,1028.4 L471,1038.3 L472,1027 L473,1033.1 L474,1020.6 L475,1028.7 L476,1033.8 L477,1043.6 L478,1036.9 L479,1037.9 L480,1013 L481,1024.3 L482,1023.8 L483,1042.5 L484,1034.8 L485,1002.7 L486,992.3 L487,988 L488,991 L489,1019.5 L490,1018.6 L491,1016.6 L492,1021.3 L493,1021.2 L494,1019.1 L495,1029.5 L496,1028.9 L497,1037.5 L498,1041.2 L499,1040.9 L500,1040.1 L501,1026 L502,1027.9 L503,1019.4 L504,1019.7 L505,1023 L506,1015.4 L507,1007 L508,1027.6 L509,1030.8 L510,1040 L511,1034 L512,1023 L513,1037.6 L514,1031.5 L515,1024.1 L516,1026.2 L517,1017.5 L518,1012.6 L519,1013.7 L520,1025.7 L521,997.6 L522,1006.9 L523,1005.4 L524,1033.6 L525,1027.6 L526,1046.6 L527,1040.2 L528,1033.8 L529,1009.8 L530,1031.6 L531,1024.8 L532,1008 L533,1016 L534,979 L535,1007.9 L536,1023.3 L537,1022 L538,1023.7 L539,1022.8 L540,1041.7 L541,1040 L542,1041.9 L543,1034 L544,1032.9 L545,1038.8 L546,1018.1 L547,1032.9 L548,1018.2 L549,1014.8 L550,1010.1 L551,1013.2 L552,1015 L553,1007.5 L554,1012.8 L555,1008.6 L556,1030.2 L557,1027.9 L558,1021.7 L559,1026.8 L560,1024.8 L561,1003 L562,1003.4 L563,1021.7 L564,993.4 L565,1017.3 L566,1007.5 L567,1011.8 L568,1008.9 L569,1033.4 L570,1018.8 L571,1030 L572,1045.6 L573,1034.2 L574,1041.2 L575,1034.2 L576,1047.5 L577,1019.9 L578,1027.6 L579,1010.7 L580,1020.5 L581,1011.4 L582,1032 L583,1021.4 L584,1007.2 L585,1023.7 L586,1037.2 L587,1027.8 L588,1030.7 L589,1030.8 L590,1023.4 L591,1026.2 L592,1024.4 L593,1045.7 L594,1033.1 L595,1025.9 L596,1031.5 L597,1027.7 L598,1029.1 L599,1036.8 L600,1028.7 L601,1028.9 L602,1032.9 L603,1029.1 L604,1031.6 L605,1038.1 L606,1029.1 L607,1001.6 L608,1010.2 L609,1020.3 L610,1013.2 L611,990.5 L612,998.3 L613,1013.7 L614,1016.6 L615,1024.6 L616,1028.1 L617,1022.3 L618,1027.7 L619,1040.6 L620,1021.4 L621,1017.1 L622,1023.8 L623,1027.3 L624,1030.6 L625,1033.7 L626,1043.7 L627,1032.3 L628,1028 L629,1018.7 L630,1028.6 L631,1034.4 L632,1018 L633,1024.3 L634,1025.3 L635,1034.3 L636,1043 L637,1033.5 L638,1020.6 L639,1026.5 L640,1040.7 L641,1030.9 L642,1032.7 L643,1034.8 L644,1023.4 L645,1030.4 L646,1027.7 L647,1019.7 L648,1023.8 L649,1037.7 L650,1044.7 L651,1031.1 L652,1000 L653,1016.5 L654,1023.9 L655,1031.4 L656,1009.7 L657,1015.1 L658,1025.6 L659,1020 L660,1020.5 L661,997.2 L662,1013.8 L663,1003.4 L664,1016.4 L665,1043 L666,1030 L667,1022.3 L668,1024.8 L669,1037.3 L670,1040.4 L671,1011 L672,1021.9 L673,1023.4 L674,1023.3 L675,1027.8 L676,1030.3 L677,1044.8 L678,1028 L679,1011.7 L680,1022.6 L681,1039.4 L682,1040 L683,1018 L684,1026.6 L685,1021.9 L686,997.2 L687,1000.4 L688,1021 L689,1021.9 L690,1012.5 L691,1016.5 L692,1023.1 L693,1021.3 L694,1023.3 L695,1041.2 L696,1036.4 L697,1030 L698,1039.2 L699,1014.1 L700,1002.6 L701,1035.8 L702,1006.2 L703,1027.4 L704,1033 L705,1014.8 L706,1007 L707,1006.8 L708,993 L709,1006 L710,995.9 L711,1029.6 L712,1037.2 L713,1026.8 L714,1034.5 L715,1047.4 L716,1035.3 L717,1014.5 L718,1015.8 L719,1047.2 L720,1035 L721,1038.8 L722,1035.7 L723,1033.7 L724,1028.1 L725,1036.6 L726,1038 L727,1040.9 L728,1022.6 L729,1013.7 L730,1005 L731,1011.4 L732,1031.7 L733,1021.8 L734,1025 L735,1023.4 L736,1045.7 L737,1026.9 L738,1015.3 L739,1021.2 L740,1003.7 L741,1009.9 L742,1018.6 L743,1011.3 L744,1023.1 L745,1030.2 L746,1032.7 L747,1024.8 L748,1035.4 L749,1027.9 L750,1005.9 L751,1022.2 L752,1033.2 L753,1028.5 L754,1023.4 L755,1025.4 L756,1029.3 L757,1034.4 L758,1043.6 L759,1038.2 L760,1049.2 L761,1033.2 L762,1044.5 L763,1035.3 L764,1033.4 L765,1041.3 L766,1039.9 L767,1026.9 L768,1006.4 L769,1012.8 L770,1000.4 L771,1003.5 L772,1023.7 L773,1027.5 L774,1043.3 L775,1033.9 L776,1017.4 L777,1032.3 L778,1026.9 L779,1036.8 L780,1032.9 L781,1016.3 L782,1012 L783,1004.6 L784,989.4 L785,1011.5 L786,1016.3 L787,1024.5 L788,1001.1 L789,1013.3 L790,1023.5 L791,1024 L792,1037.9 L793,1006.5 L794,1016.9 L795,1016.6 L796,1002.9 L797,1002.9 L798,1026.3 L799,1018.6 L800,1024.6 L801,1037.2 L802,1027.9 L803,1036.4 L804,1020.2 L805,1015.2 L806,1016.8 L807,1024 L808,1035.5 L809,1032.7 L810,1038.4 L811,1045.6 L812,1029 L813,1012.9 L814,1031.5 L815,1041.9 L816,1030.9 L817,1013.1 L818,1017.9 L819,1028.2 L820,1017.8 L821,1003.9 L822,1031.5 L823,1012.1 L824,1027.7 L825,1026.4 L826,1034.6 L827,1012.9 L828,994 L829,1028.8 L830,1040.4 L831,1040.9 L832,1048 L833,1041.4 L834,1033.6 L835,1034.3 L836,1039.8 L837,1042.8 L838,1037.9 L839,1045.1 L840,1045.9 L841,1044.5 L842,1047.7 L843,1046.6 L844,1044 L845,1047.8 L845,1087.6 L844,1085.7 L843,1092.6 L842,1086.2 L841,1087.5 L840,1093.8 L839,1091 L838,1089.4 L837,1092.1 L836,1095.3 L835,1101.7 L834,1103.5 L833,1096.2 L832,1089.7 L831,1098.1 L830,1098 L829,1102 L828,1144.9 L827,1117.7 L826,1098.4 L825,1108.7 L824,1117.9 L823,1114.5 L822,1105.5 L821,1133.4 L820,1128.6 L819,1106.1 L818,1116.8 L817,1113.7 L816,1105.3 L815,1092.1 L814,1102.7 L813,1115.9 L812,1107.9 L811,1092.8 L810,1099.6 L809,1102.9 L808,1105.3 L807,1110.6 L806,1113 L805,1117 L804,1117.8 L803,1099.9 L802,1104.2 L801,1101 L800,1103.6 L799,1108.3 L798,1109.1 L797,1114.8 L796,1121.6 L795,1121 L794,1120.7 L793,1124 L792,1098.5 L791,1100.1 L790,1113 L789,1122.4 L788,1118.9 L787,1118.4 L786,1120.7 L785,1114.8 L784,1133.9 L783,1131 L782,1137.7 L781,1111.6 L780,1093.3 L779,1106.2 L778,1110.2 L777,1102 L776,1111.2 L775,1101.8 L774,1094.2 L773,1116.6 L772,1105.9 L771,1123.8 L770,1128.8 L769,1134.4 L768,1124.7 L767,1106.1 L766,1093.6 L765,1092.4 L764,1105.6 L763,1096.7 L762,1085.3 L761,1100.4 L760,1087.5 L759,1099.1 L758,1089.8 L757,1101.2 L756,1099.7 L755,1115.2 L754,1099.5 L753,1120.3 L752,1098.8 L751,1099.7 L750,1125 L749,1104.6 L748,1100.8 L747,1110.3 L746,1093.3 L745,1104.7 L744,1120.3 L743,1125.2 L742,1130.3 L741,1113.7 L740,1131.7 L739,1109.7 L738,1111.4 L737,1111.8 L736,1089.4 L735,1105.5 L734,1114.9 L733,1115.5 L732,1107 L731,1132.1 L730,1116.7 L729,1120.3 L728,1111.1 L727,1088 L726,1097.7 L725,1098.4 L724,1105.4 L723,1105.8 L722,1102.8 L721,1107.1 L720,1108.2 L719,1085.2 L718,1106.7 L717,1120.5 L716,1100.9 L715,1087.1 L714,1096.9 L713,1100 L712,1094.4 L711,1110.7 L710,1142.4 L709,1141.9 L708,1144 L707,1117.5 L706,1120.8 L705,1115.1 L704,1107.9 L703,1114.1 L702,1117.9 L701,1099.8 L700,1130.6 L699,1126.5 L698,1091.6 L697,1100.4 L696,1098.9 L695,1095.7 L694,1119.4 L693,1129.2 L692,1113.8 L691,1122.6 L690,1123.9 L689,1114.1 L688,1111.7 L687,1127.5 L686,1132.6 L685,1118.4 L684,1104.3 L683,1103.3 L682,1090.8 L681,1096.1 L680,1113.2 L679,1108.5 L678,1102.7 L677,1090.6 L676,1107.7 L675,1095.6 L674,1106.6 L673,1112.2 L672,1112 L671,1118.4 L670,1091 L669,1096.5 L668,1102.4 L667,1108.5 L666,1101.5 L665,1090.7 L664,1113 L663,1127.9 L662,1126.4 L661,1128.5 L660,1116.4 L659,1110.3 L658,1107.5 L657,1118.5 L656,1119.4 L655,1102.4 L654,1105.2 L653,1128.5 L652,1120.5 L651,1106.5 L650,1089.8 L649,1091 L648,1112.4 L647,1117.8 L646,1104.5 L645,1094.4 L644,1114.2 L643,1098.2 L642,1108.9 L641,1105.2 L640,1089.6 L639,1098.5 L638,1104.7 L637,1103.5 L636,1092.3 L635,1096.4 L634,1117 L633,1122.8 L632,1113.6 L631,1104.7 L630,1100.2 L629,1105.7 L628,1104.2 L627,1091.8 L626,1094.3 L625,1092.5 L624,1101.1 L623,1107.2 L622,1107.4 L621,1111.7 L620,1117.8 L619,1091.7 L618,1118.9 L617,1102.7 L616,1104.1 L615,1111.3 L614,1108 L613,1135 L612,1132.7 L611,1134 L610,1121.4 L609,1111.1 L608,1124.2 L607,1124.5 L606,1108.7 L605,1102 L604,1098.4 L603,1095.4 L602,1101.2 L601,1104.3 L600,1101.2 L599,1098.8 L598,1105.2 L597,1114.7 L596,1108.9 L595,1098.4 L594,1098.7 L593,1087.2 L592,1106.2 L591,1107.4 L590,1108.5 L589,1100.9 L588,1096.8 L587,1110.2 L586,1097.5 L585,1114.8 L584,1115.8 L583,1107.5 L582,1099 L581,1121.4 L580,1111.5 L579,1107.8 L578,1110.7 L577,1109.4 L576,1090.3 L575,1102.3 L574,1086.7 L573,1098.8 L572,1087 L571,1096.4 L570,1101.6 L569,1110.7 L568,1120.8 L567,1122.7 L566,1131.3 L565,1121.2 L564,1137.6 L563,1112.3 L562,1127.6 L561,1146.2 L560,1115.7 L559,1104.9 L558,1108.4 L557,1108 L556,1109 L555,1136.7 L554,1124.2 L553,1135.6 L552,1122.3 L551,1111.5 L550,1109.1 L549,1126.4 L548,1121.3 L547,1096.5 L546,1106.3 L545,1094.2 L544,1100.1 L543,1099.7 L542,1091.1 L541,1099.9 L540,1094.4 L539,1112.1 L538,1118.3 L537,1115 L536,1109.3 L535,1133.4 L534,1156.7 L533,1134 L532,1114.2 L531,1105.6 L530,1106.4 L529,1111.5 L528,1111.9 L527,1095 L526,1089.3 L525,1111.9 L524,1101 L523,1115.6 L522,1116.8 L521,1134.6 L520,1116.2 L519,1121 L518,1121 L517,1105.5 L516,1104.9 L515,1113.5 L514,1101.7 L513,1107.9 L512,1107.7 L511,1100.8 L510,1098.2 L509,1102.1 L508,1116.1 L507,1122.1 L506,1122.8 L505,1114.6 L504,1112.1 L503,1119.5 L502,1097.1 L501,1098.4 L500,1092.9 L499,1093.3 L498,1091.2 L497,1091.5 L496,1101.4 L495,1102.4 L494,1114.7 L493,1117 L492,1117.4 L491,1123.7 L490,1123.1 L489,1117.7 L488,1148 L487,1130.4 L486,1139.7 L485,1122 L484,1094.4 L483,1101 L482,1099.2 L481,1106.1 L480,1123.3 L479,1093.7 L478,1099.2 L477,1090.1 L476,1104 L475,1115.6 L474,1105.4 L473,1105.6 L472,1103.9 L471,1093.6 L470,1105.7 L469,1098.1 L468,1095.6 L467,1092.5 L466,1096.4 L465,1101.6 L464,1096.2 L463,1091 L462,1092.5 L461,1101.6 L460,1116.1 L459,1101.7 L458,1099.9 L457,1103.8 L456,1092.7 L455,1099.3 L454,1101.1 L453,1103.4 L452,1130.5 L451,1112.3 L450,1095.7 L449,1092.7 L448,1107 L447,1111.2 L446,1109.7 L445,1105.1 L444,1096.8 L443,1101.8 L442,1096.3 L441,1102.1 L440,1123 L439,1106.9 L438,1107.2 L437,1106.4 L436,1118.7 L435,1124.7 L434,1141.2 L433,1114.9 L432,1125.1 L431,1115.2 L430,1105.6 L429,1126.6 L428,1116.7 L427,1126.2 L426,1112.8 L425,1122.8 L424,1110.8 L423,1139.5 L422,1111.3 L421,1109.6 L420,1103.1 L419,1120.4 L418,1117.5 L417,1096.5 L416,1105.1 L415,1110.9 L414,1096.4 L413,1108.2 L412,1093.8 L411,1088.4 L410,1103.1 L409,1123.9 L408,1088.4 L407,1092.6 L406,1097 L405,1099.1 L404,1114.2 L403,1104.6 L402,1105.7 L401,1090.4 L400,1093.2 L399,1100.3 L398,1094.7 L397,1115.9 L396,1107.1 L395,1111.9 L394,1100.8 L393,1105.1 L392,1115.8 L391,1115.1 L390,1092.7 L389,1092.5 L388,1106.4 L387,1092.9 L386,1120 L385,1129.9 L384,1116.4 L383,1106.4 L382,1093.3 L381,1098.8 L380,1113 L379,1101.6 L378,1101.6 L377,1102.1 L376,1104 L375,1105.2 L374,1114.8 L373,1087.5 L372,1088.8 L371,1101.9 L370,1105.7 L369,1125.4 L368,1126.5 L367,1110 L366,1131.6 L365,1105 L364,1090.6 L363,1093 L362,1109.1 L361,1129.4 L360,1103.6 L359,1106.3 L358,1113 L357,1099.5 L356,1127.5 L355,1113.6 L354,1122.2 L353,1122.5 L352,1126 L351,1123.8 L350,1123.4 L349,1131.3 L348,1130.2 L347,1128.4 L346,1124.4 L345,1139.6 L344,1123.4 L343,1114.7 L342,1124.3 L341,1132.5 L340,1140.7 L339,1133.5 L338,1127.3 L337,1108.5 L336,1112.7 L335,1103.4 L334,1132.5 L333,1118.1 L332,1109.3 L331,1092.4 L330,1106 L329,1103 L328,1091.2 L327,1095.8 L326,1104.8 L325,1100.3 L324,1120.8 L323,1143.3 L322,1137.3 L321,1133.2 L320,1125.4 L319,1120 L318,1098.8 L317,1105.6 L316,1096.4 L315,1105.9 L314,1109.7 L313,1120.6 L312,1105.2 L311,1126.1 L310,1135.5 L309,1117.2 L308,1129.2 L307,1118.6 L306,1122.7 L305,1116.8 L304,1119.5 L303,1109.3 L302,1108.2 L301,1109.7 L300,1108.1 L299,1100.6 L298,1097.9 L297,1097.5 L296,1130 L295,1119.5 L294,1108.7 L293,1101.6 L292,1113.8 L291,1097.6 L290,1110.4 L289,1101.8 L288,1119.9 L287,1099.1 L286,1096.4 L285,1115.6 L284,1108.3 L283,1107.7 L282,1108.8 L281,1131.7 L280,1136.1 L279,1130.6 L278,1128.7 L277,1136.2 L276,1115.8 L275,1109.2 L274,1121.9 L273,1117.2 L272,1129.9 L271,1100.8 L270,1093.2 L269,1106.3 L268,1104.2 L267,1096.7 L266,1104.5 L265,1088.7 L264,1109.1 L263,1088.9 L262,1106.6 L261,1103.1 L260,1101.2 L259,1110 L258,1124.7 L257,1129.3 L256,1141.9 L255,1150.9 L254,1140.2 L253,1132.6 L252,1143.4 L251,1150.4 L250,1119.5 L249,1103.4 L248,1107.2 L247,1090 L246,1110.6 L245,1105.4 L244,1113.6 L243,1108.7 L242,1117.5 L241,1101.2 L240,1100.3 L239,1106 L238,1113.4 L237,1107.7 L236,1102.4 L235,1090 L234,1095.3 L233,1112.7 L232,1112.1 L231,1116.6 L230,1111.6 L229,1103 L228,1102.4 L227,1111.8 L226,1114.2 L225,1114.8 L224,1123.6 L223,1099.1 L222,1099.9 L221,1112.3 L220,1108 L219,1096.1 L218,1111.6 L217,1096.3 L216,1096.9 L215,1101.8 L214,1107.8 L213,1095 L212,1113.3 L211,1128.6 L210,1110.9 L209,1101 L208,1123.7 L207,1128.1 L206,1134.3 L205,1111.5 L204,1087.2 L203,1103.6 L202,1099 L201,1115.7 L200,1109.6 L199,1116.4 L198,1124.8 L197,1144.8 L196,1148.1 L195,1139.6 L194,1117.6 L193,1133.9 L192,1151.3 L191,1131.7 L190,1119.8 L189,1122.1 L188,1118.7 L187,1097.6 L186,1100.3 L185,1094.7 L184,1118.6 L183,1100.3 L182,1095.7 L181,1106.7 L180,1099.2 L179,1096.4 L178,1109.6 L177,1096.1 L176,1099.7 L175,1105.4 L174,1090.3 L173,1111.3 L172,1123.7 L171,1129.4 L170,1106.9 L169,1137.5 L168,1113.1 L167,1108.3 L166,1100 L165,1101.5 L164,1094.6 L163,1103.3 L162,1110.3 L161,1110.5 L160,1108.8 L159,1101.9 L158,1093 L157,1092.9 L156,1110.9 L155,1101.6 L154,1112.5 L153,1112.8 L152,1094.5 L151,1126.3 L150,1111.2 L149,1098.1 L148,1105.1 L147,1107.2 L146,1107.4 L145,1100.4 L144,1099.4 L143,1115.4 L142,1119.9 L141,1105.6 L140,1124.2 L139,1107.9 L138,1120.7 L137,1116.4 L136,1101.9 L135,1145.7 L134,1133.6 L133,1135.4 L132,1131.4 L131,1141.1 L130,1116.6 L129,1115 L128,1108.1 L127,1101 L126,1116.1 L125,1109.8 L124,1105.9 L123,1131.5 L122,1135.7 L121,1118.3 L120,1115.1 L119,1124.1 L118,1128.9 L117,1113.6 L116,1091.4 L115,1103.7 L114,1088 L113,1100.6 L112,1107.2 L111,1105.9 L110,1105.7 L109,1105.3 L108,1088.6 L107,1095.4 L106,1094.4 L105,1091.6 L104,1096.5Z" fill="#3d8fd6"/><path d="M104,1018.9 L105,1005.6 L106,1011.9 L107,1019.6 L108,1012.7 L109,1023.8 L110,1000.4 L111,1032.5 L112,1041 L113,1024 L114,1034 L115,1003.8 L116,1006.3 L117,1026.4 L118,1019.9 L119,1016.5 L120,1006.6 L121,1035.4 L122,1016.3 L123,1028.4 L124,1031.8 L125,1039 L126,1039.5 L127,1027.2 L128,1029.1 L129,1028.9 L130,1044.7 L131,1038.7 L132,1025.2 L133,1035.5 L134,1031.3 L135,1017.3 L136,1026.2 L137,1036.1 L138,1031.5 L139,1027.7 L140,1011.6 L141,1016.3 L142,1014.8 L143,995.8 L144,991.3 L145,1010 L146,1027.7 L147,1037.9 L148,1036.7 L149,1036.4 L150,1039.4 L151,1026.7 L152,1021 L153,1028.4 L154,1026.6 L155,1032.1 L156,1017.9 L157,1025.6 L158,1019.7 L159,1040.1 L160,1020.1 L161,1005.3 L162,1013.2 L163,1005.5 L164,1027.3 L165,1016.6 L166,1019.3 L167,1025.9 L168,1039.5 L169,1028.5 L170,1021.2 L171,1017.2 L172,1023.4 L173,1015.1 L174,1030 L175,1046.1 L176,1027.5 L177,1022.5 L178,1028.5 L179,1015.2 L180,1015 L181,998.5 L182,1001.6 L183,1012.2 L184,1006.3 L185,992.5 L186,1019.7 L187,1016.3 L188,1008.8 L189,1001.8 L190,1007.8 L191,1024.7 L192,1021.2 L193,1016.6 L194,1007.5 L195,1022.4 L196,1031.8 L197,1027.3 L198,1000.9 L199,1010.8 L200,999.5 L201,1001.2 L202,1010.7 L203,1016.6 L204,1007.4 L205,998.8 L206,1007.4 L207,1023.4 L208,1010.6 L209,1020.2 L210,1018.3 L211,1018.6 L212,1034.9 L213,1034.5 L214,1019.4 L215,1012.2 L216,1012.9 L217,1011.2 L218,1023.3 L219,1014 L220,1016.3 L221,1021 L222,1019.9 L223,1020.8 L224,1019.1 L225,1023.8 L226,1030.5 L227,1035.3 L228,1036.7 L229,1035.4 L230,1025.6 L231,1009.5 L232,1022 L233,1015.5 L234,1023.2 L235,1029.2 L236,1018.9 L237,1006.3 L238,1010.9 L239,1003.2 L240,1003.3 L241,1017.1 L242,1027.3 L243,1032.4 L244,1012.1 L245,1007 L246,1025.6 L247,1021.3 L248,1036.4 L249,1039.2 L250,1026.3 L251,1029.7 L252,1025.9 L253,1021.4 L254,1025 L255,1023.6 L256,1008.7 L257,1026.9 L258,1020 L259,1037.9 L260,1030.5 L261,1010.6 L262,1010.3 L263,1005.6 L264,1004.7 L265,1028.2 L266,1027.2 L267,1005.3 L268,1005.6 L269,1022.9 L270,1028.5 L271,1028.8 L272,1013.3 L273,1011 L274,1007.3 L275,988.2 L276,1006.8 L277,1011.9 L278,1015.6 L279,1019.1 L280,1010.9 L281,1022.1 L282,1019 L283,997.8 L284,993.3 L285,1008.5 L286,1006.6 L287,1013.8 L288,1002.2 L289,1014.6 L290,1025.8 L291,1026.5 L292,1028.8 L293,1040.7 L294,1038.6 L295,1040.3 L296,1038.1 L297,1026.8 L298,1029 L299,1022.1 L300,1016 L301,1019.7 L302,1028.7 L303,1020.4 L304,1000.2 L305,998.5 L306,1011.1 L307,1023.3 L308,1023.4 L309,1011.7 L310,1030.4 L311,1035.4 L312,1006.9 L313,996.5 L314,998.1 L315,1005.8 L316,995.8 L317,970.1 L318,982 L319,995.8 L320,999.7 L321,998.3 L322,995.1 L323,1009 L324,1017.5 L325,1017.9 L326,1025.7 L327,1016.8 L328,1013.3 L329,1009.2 L330,1030 L331,1029.8 L332,1031 L333,1031.8 L334,1040.6 L335,1038.2 L336,1044.3 L337,1034.7 L338,1033.6 L339,1011 L340,981 L341,988 L342,1000.1 L343,1027.6 L344,1020.8 L345,1036.6 L346,1045.9 L347,1040 L348,1034 L349,1034.5 L350,1019.3 L351,1013.2 L352,1026.7 L353,1033.2 L354,1029.1 L355,1028.3 L356,1030.2 L357,1020.9 L358,1021.8 L359,1023.6 L360,1038.4 L361,1021 L362,1026.5 L363,1035.8 L364,1027.4 L365,1027.3 L366,1034.6 L367,1034.2 L368,1035.5 L369,1034.9 L370,1036.7 L371,1034.2 L372,1027.6 L373,1015.6 L374,1028.2 L375,1018.9 L376,1030.3 L377,1029.6 L378,1032.2 L379,1035 L380,1034.4 L381,1044 L382,1039.4 L383,1040.6 L384,1040.9 L385,1023.6 L386,1013.1 L387,1018.1 L388,1015.9 L389,1010.3 L390,987.8 L391,990.1 L392,1020 L393,1026.4 L394,1030.6 L395,1033.4 L396,1034.5 L397,1032.2 L398,1031.5 L399,1029.7 L400,1034.2 L401,1035.6 L402,1034.5 L403,1017.1 L404,1003.8 L405,1017.9 L406,1010.5 L407,1014.3 L408,1033.4 L409,1001.8 L410,1009.9 L411,997.7 L412,1022.6 L413,1021.2 L414,1015.6 L415,1022.3 L416,1034.2 L417,1046.3 L418,1021.5 L419,1024.9 L420,1017.6 L421,1010.3 L422,1018.4 L423,1032.6 L424,1016.2 L425,1013.8 L426,1019.4 L427,1021.6 L428,1032.8 L429,1026.9 L430,1036 L431,1019.7 L432,1019.2 L433,1022.9 L434,1017.2 L435,997.1 L436,1022 L437,1034.9 L438,1031.5 L439,1042.1 L440,1029.4 L441,1027.9 L442,1027.6 L443,1015 L444,1007.9 L445,1024 L446,1029.5 L447,1028.6 L448,1034.7 L449,1029.8 L450,1023.6 L451,1027.4 L452,1027.2 L453,1026.4 L454,1027.6 L455,1035.4 L456,1032.6 L457,1008 L458,1002.2 L459,1008.3 L460,1012.5 L461,1022.2 L462,1023.5 L463,1020 L464,1025.4 L465,1036.9 L466,1032.1 L467,1033.9 L468,1004.2 L469,1021.2 L470,1026.8 L471,1023.7 L472,1030.8 L473,1037.4 L474,1036.1 L475,1035.9 L476,1038.5 L477,1041.9 L478,1033 L479,1028.2 L480,1041.7 L481,1037.2 L482,1028.5 L483,1043.1 L484,1036.4 L485,1024.3 L486,1009.7 L487,1019.6 L488,1007.8 L489,1011.4 L490,1024.9 L491,1016.6 L492,1012 L493,1007.6 L494,1004.1 L495,1014.2 L496,1014.3 L497,1002.4 L498,1016.9 L499,1037 L500,1027.4 L501,1023.6 L502,1035.5 L503,1008.2 L504,1004.1 L505,1018.1 L506,1031.1 L507,1035.8 L508,1023.1 L509,1039.8 L510,1007 L511,1009.2 L512,978.3 L513,984.9 L514,1014.8 L515,1007.3 L516,1032.2 L517,1007.8 L518,1030.3 L519,1023.2 L520,1035.8 L521,1040.4 L522,1032.3 L523,1022.7 L524,1020.7 L525,1017.3 L526,1013.6 L527,1029.8 L528,1041.7 L529,1024.8 L530,1038.2 L531,1031.3 L532,1027.3 L533,1012.7 L534,1004.9 L535,1012.6 L536,1026.5 L537,1011.7 L538,1033 L539,1037.7 L540,1046.1 L541,1044.3 L542,1027.8 L543,1027.2 L544,1020.7 L545,997.4 L546,1013.7 L547,1015.4 L548,1000.1 L549,1027.3 L550,1018.3 L551,1011.8 L552,1023.2 L553,1020.4 L554,1029.4 L555,1015.2 L556,1034.9 L557,1037.6 L558,1037.9 L559,1030.1 L560,1020.9 L561,1039.9 L562,1033.4 L563,1018.1 L564,1011.1 L565,1025.8 L566,1010.3 L567,999.3 L568,1020.5 L569,1026.1 L570,1035.9 L571,1026.9 L572,1028.7 L573,1026.7 L574,1024.9 L575,1017.9 L576,1005 L577,1007.7 L578,1031.6 L579,1031.5 L580,1013.8 L581,1026.2 L582,1023.1 L583,1024.3 L584,1037.3 L585,1028.7 L586,1035.2 L587,1028.9 L588,1038.4 L589,1027.7 L590,1031.9 L591,1015.1 L592,1018.9 L593,1025.9 L594,1004.6 L595,1012.9 L596,1012.9 L597,1029 L598,1011.4 L599,1000.9 L600,1009.2 L601,1009.6 L602,1025.3 L603,1026.7 L604,1021.2 L605,1022.8 L606,1020.4 L607,1018.3 L608,1022.4 L609,1010.5 L610,1009.9 L611,1006 L612,1023.9 L613,1032.6 L614,1034.4 L615,1027.8 L616,1009 L617,1029.4 L618,1028.1 L619,1020.4 L620,1012.7 L621,1026.2 L622,1031.4 L623,1027 L624,1019.9 L625,1014.8 L626,1018.4 L627,1005.6 L628,1026.6 L629,1033.5 L630,1032.3 L631,1029.5 L632,1026.4 L633,1044.4 L634,1019.8 L635,1021.1 L636,1021.2 L637,1016.8 L638,1012.9 L639,1023.1 L640,1017.1 L641,1023 L642,1024.6 L643,1029.8 L644,1037.6 L645,1028.4 L646,1029 L647,1034.6 L648,1034.7 L649,1036.2 L650,1019.7 L651,1021.3 L652,1013 L653,1009.3 L654,1010.7 L655,1001.6 L656,1007.2 L657,1014.4 L658,1022 L659,1023.8 L660,1024.3 L661,1036.9 L662,1027.7 L663,1034.3 L664,1039.5 L665,1028 L666,1012.6 L667,1020.9 L668,1030.2 L669,1028.5 L670,1019.7 L671,1018.1 L672,1011.3 L673,1014 L674,1028.2 L675,1042.6 L676,1026.7 L677,1027.7 L678,1027.5 L679,1037.4 L680,1018.6 L681,1028.4 L682,1009.9 L683,1019.4 L684,1022.2 L685,1031.6 L686,1021.1 L687,1017.2 L688,1010.6 L689,987.7 L690,1015.2 L691,1011.7 L692,1028.4 L693,1040.3 L694,1023.1 L695,1043.5 L696,1040.3 L697,1042.2 L698,1043.2 L699,1034 L700,1029.8 L701,1013 L702,1021.6 L703,1021.1 L704,1026.9 L705,1027.9 L706,1037.9 L707,1025.3 L708,1026.7 L709,1017.6 L710,1018.6 L711,1022.5 L712,1025.4 L713,1008 L714,1021.4 L715,1004.4 L716,987.2 L717,988.4 L718,1011.9 L719,1027.1 L720,1016.8 L721,1002.4 L722,1035.3 L723,1020.6 L724,1016.9 L725,1032.3 L726,1031.6 L727,1037.3 L728,1040.7 L729,1024.9 L730,1012.5 L731,1036.6 L732,1009.4 L733,1024.6 L734,1025.7 L735,1039.9 L736,1032 L737,1034.4 L738,1032.5 L739,1040 L740,1007.3 L741,1005 L742,1004.4 L743,1009.3 L744,1023.9 L745,1011.3 L746,1015.8 L747,1023.1 L748,999.8 L749,990.8 L750,994 L751,968.1 L752,984.2 L753,1010.5 L754,987.2 L755,1011.4 L756,998.1 L757,1003.8 L758,1016.4 L759,1011.7 L760,1016.2 L761,1021.2 L762,1024.5 L763,1030.4 L764,1017.5 L765,1034.4 L766,1037.9 L767,1002.8 L768,1009.3 L769,1023.9 L770,1021.5 L771,1033 L772,1025 L773,1033.5 L774,1030.7 L775,1027.2 L776,1024.2 L777,1027.6 L778,1032.8 L779,1015 L780,1043.4 L781,1040.5 L782,1018.7 L783,1015.3 L784,1018.1 L785,989.4 L786,1017.8 L787,1015.1 L788,1012.3 L789,1007.2 L790,1020.2 L791,988.8 L792,1002.3 L793,1004.7 L794,1016.9 L795,1012.5 L796,986.3 L797,1021.1 L798,1021.1 L799,1028.2 L800,1015.3 L801,1003 L802,1011.3 L803,1009 L804,1017.7 L805,1035.3 L806,1038 L807,1028 L808,1025.6 L809,1040.2 L810,1025.7 L811,1019.2 L812,1022.9 L813,993.7 L814,1008.7 L815,1009.7 L816,1010.3 L817,1027.1 L818,1037.5 L819,1028.4 L820,1028 L821,1031.6 L822,1014.4 L823,1022.8 L824,1002.2 L825,984.4 L826,1013.2 L827,1017.6 L828,1033 L829,1029.9 L830,1021.1 L831,1015.3 L832,1008.5 L833,1022.2 L834,1027.9 L835,1031.4 L836,1026.3 L837,1037.1 L838,1032.3 L839,1042.9 L840,1036.8 L841,1040.1 L842,1044.1 L843,1043.3 L844,1039.2 L845,1046.6 L845,1094.9 L844,1091 L843,1087.6 L842,1095.1 L841,1096 L840,1091 L839,1094.7 L838,1097.5 L837,1098.6 L836,1097.4 L835,1111.1 L834,1107 L833,1107.6 L832,1119.3 L831,1114.3 L830,1115.6 L829,1116.6 L828,1099.8 L827,1120.3 L826,1127.9 L825,1129.1 L824,1133 L823,1114 L822,1118.8 L821,1094.6 L820,1095.4 L819,1101.7 L818,1106.6 L817,1111 L816,1118.7 L815,1119.1 L814,1122.8 L813,1143.1 L812,1122.2 L811,1113.7 L810,1113.7 L809,1097.9 L808,1114.9 L807,1106.1 L806,1096.4 L805,1094.2 L804,1114.7 L803,1126.7 L802,1124.4 L801,1131.9 L800,1119.3 L799,1106.4 L798,1106.1 L797,1125.8 L796,1139.7 L795,1125.3 L794,1109.9 L793,1111.6 L792,1133.7 L791,1125.2 L790,1115.7 L789,1121.3 L788,1132.6 L787,1127.1 L786,1134.9 L785,1140.3 L784,1126.5 L783,1117 L782,1114.6 L781,1101.1 L780,1098.7 L779,1120.9 L778,1107.3 L777,1096 L776,1103.8 L775,1110.7 L774,1103.8 L773,1094.6 L772,1097.3 L771,1098.1 L770,1113.1 L769,1106 L768,1122.8 L767,1118.6 L766,1106.1 L765,1104.2 L764,1111.1 L763,1100.3 L762,1116.3 L761,1107.5 L760,1110.7 L759,1140.1 L758,1130.3 L757,1129.1 L756,1121.5 L755,1116.3 L754,1135.8 L753,1126.1 L752,1144.7 L751,1144 L750,1144.9 L749,1126.9 L748,1131.9 L747,1104.6 L746,1119.8 L745,1118 L744,1113.1 L743,1125.4 L742,1114.5 L741,1134.2 L740,1127.9 L739,1092.8 L738,1091.7 L737,1097.3 L736,1099.4 L735,1102.8 L734,1117.5 L733,1120.7 L732,1113.8 L731,1101.8 L730,1112 L729,1106.9 L728,1094.3 L727,1095 L726,1100.7 L725,1103.1 L724,1109.1 L723,1115.8 L722,1111.6 L721,1124.5 L720,1126 L719,1107.9 L718,1123.7 L717,1124.4 L716,1125.2 L715,1126.2 L714,1108.1 L713,1116 L712,1119.3 L711,1115.8 L710,1107.2 L709,1114.7 L708,1115.6 L707,1111 L706,1104.3 L705,1103.8 L704,1103.1 L703,1102.4 L702,1113.9 L701,1120.9 L700,1107.2 L699,1099.7 L698,1096.4 L697,1100.4 L696,1089.6 L695,1092.1 L694,1105.8 L693,1091.5 L692,1103.7 L691,1107.4 L690,1119.8 L689,1135.1 L688,1122.3 L687,1111.2 L686,1109.2 L685,1101.3 L684,1118.2 L683,1123 L682,1113 L681,1107.8 L680,1117.5 L679,1097.7 L678,1102.9 L677,1119.4 L676,1100.3 L675,1096.5 L674,1103.5 L673,1118 L672,1115.5 L671,1112.1 L670,1101.2 L669,1118.5 L668,1108.5 L667,1126.3 L666,1125.3 L665,1108 L664,1092.8 L663,1107.1 L662,1107 L661,1096.3 L660,1102.5 L659,1116.7 L658,1122.5 L657,1124.5 L656,1120.9 L655,1132.8 L654,1114.9 L653,1133.6 L652,1109 L651,1112.4 L650,1114.6 L649,1099 L648,1099.6 L647,1100.1 L646,1116.9 L645,1109.3 L644,1100.8 L643,1104.6 L642,1122.5 L641,1112.8 L640,1120.5 L639,1115.2 L638,1122.6 L637,1116.8 L636,1111.1 L635,1108.8 L634,1115.7 L633,1092.3 L632,1105.4 L631,1106.9 L630,1100.9 L629,1097.8 L628,1105 L627,1126.1 L626,1119.4 L625,1114.7 L624,1114.8 L623,1104 L622,1106.5 L621,1108.5 L620,1129.6 L619,1117.6 L618,1102.2 L617,1108 L616,1114.3 L615,1109 L614,1101 L613,1109.9 L612,1101.9 L611,1130.9 L610,1132.3 L609,1138.5 L608,1107.3 L607,1114.2 L606,1108.5 L605,1114.9 L604,1116.4 L603,1107.5 L602,1110.7 L601,1115.4 L600,1141.1 L599,1136 L598,1113.1 L597,1102.2 L596,1126.4 L595,1119.7 L594,1140.3 L593,1116.5 L592,1115.2 L591,1121 L590,1101.2 L589,1099.1 L588,1096 L587,1105.9 L586,1103.4 L585,1096.4 L584,1097.3 L583,1102.7 L582,1110.8 L581,1104.2 L580,1109.3 L579,1112.8 L578,1113.3 L577,1133 L576,1120.3 L575,1111.8 L574,1115.2 L573,1108.2 L572,1101.4 L571,1106.9 L570,1095.7 L569,1113.3 L568,1116.5 L567,1128.6 L566,1126.8 L565,1113.3 L564,1139.3 L563,1121 L562,1104.1 L561,1100.1 L560,1112.5 L559,1107.5 L558,1095 L557,1103.9 L556,1100.1 L555,1117.8 L554,1108.6 L553,1105.6 L552,1106.9 L551,1124.5 L550,1117.1 L549,1103.9 L548,1134 L547,1129.6 L546,1122.1 L545,1126.7 L544,1104.8 L543,1113.9 L542,1120.1 L541,1089.2 L540,1092.2 L539,1098.3 L538,1107.6 L537,1119.5 L536,1121.7 L535,1130.3 L534,1122.3 L533,1109.8 L532,1114.2 L531,1097.4 L530,1105.9 L529,1115.4 L528,1097.1 L527,1108 L526,1117.9 L525,1123.5 L524,1108.8 L523,1108.7 L522,1100.7 L521,1097 L520,1107.6 L519,1111.8 L518,1097.7 L517,1116.3 L516,1109 L515,1126.7 L514,1123.5 L513,1129.1 L512,1133.2 L511,1123.5 L510,1123.5 L509,1101.7 L508,1111.9 L507,1110.9 L506,1102.6 L505,1118.4 L504,1134.5 L503,1126.6 L502,1105.7 L501,1103.5 L500,1121.7 L499,1099.1 L498,1114.4 L497,1118 L496,1115.5 L495,1124.1 L494,1133.6 L493,1124.8 L492,1111.2 L491,1117.2 L490,1116.2 L489,1113.4 L488,1131.9 L487,1116.5 L486,1121.6 L485,1120.4 L484,1097.9 L483,1093.4 L482,1103 L481,1089.8 L480,1089 L479,1097.2 L478,1100.3 L477,1094.9 L476,1097.5 L475,1100.9 L474,1105.6 L473,1097.9 L472,1097.4 L471,1109.3 L470,1117.6 L469,1127.2 L468,1137.5 L467,1096.3 L466,1101.7 L465,1093.7 L464,1104.4 L463,1117 L462,1110 L461,1117.7 L460,1130.8 L459,1132.4 L458,1122.5 L457,1135.1 L456,1108.1 L455,1100.8 L454,1101.1 L453,1104.6 L452,1101.5 L451,1103.4 L450,1106.1 L449,1101.3 L448,1107.3 L447,1110.9 L446,1116 L445,1113.8 L444,1140.3 L443,1117.1 L442,1110.2 L441,1114.7 L440,1103.7 L439,1098.7 L438,1096.2 L437,1102.1 L436,1111.8 L435,1131.5 L434,1115.2 L433,1109.3 L432,1105 L431,1111.4 L430,1093.4 L429,1098.7 L428,1108.6 L427,1116.3 L426,1114.3 L425,1122.6 L424,1124 L423,1097.1 L422,1121 L421,1117.4 L420,1116.2 L419,1125.2 L418,1116.8 L417,1089.4 L416,1104.9 L415,1111.3 L414,1111.3 L413,1118.6 L412,1111.6 L411,1125.7 L410,1121.3 L409,1136.5 L408,1100.6 L407,1119.5 L406,1116.4 L405,1115.4 L404,1118.5 L403,1122 L402,1098.1 L401,1100.1 L400,1106.2 L399,1098.2 L398,1093 L397,1099.5 L396,1100.3 L395,1111.8 L394,1102.2 L393,1099.6 L392,1121.8 L391,1147.1 L390,1134.6 L389,1126.9 L388,1117.5 L387,1115.3 L386,1112.6 L385,1106.4 L384,1090.9 L383,1087.1 L382,1100.1 L381,1089.8 L380,1105.7 L379,1111.4 L378,1106.5 L377,1104.6 L376,1105.4 L375,1110.8 L374,1113 L373,1120.7 L372,1103.3 L371,1106.4 L370,1097.2 L369,1098.6 L368,1094.2 L367,1094.6 L366,1102 L365,1098.3 L364,1098.5 L363,1101.7 L362,1101.3 L361,1104 L360,1099.6 L359,1103 L358,1103.7 L357,1104.9 L356,1108.4 L355,1097.2 L354,1120.2 L353,1102.9 L352,1117.7 L351,1127.9 L350,1118.6 L349,1099.5 L348,1102.4 L347,1098.5 L346,1090.2 L345,1098.7 L344,1109.6 L343,1111.7 L342,1124.9 L341,1143.9 L340,1147.1 L339,1130.2 L338,1099.2 L337,1098.9 L336,1088.2 L335,1099.5 L334,1097.6 L333,1095.5 L332,1103.1 L331,1100.9 L330,1108.9 L329,1116.9 L328,1119.8 L327,1111.6 L326,1115.1 L325,1120.7 L324,1121.2 L323,1131.9 L322,1142.8 L321,1121.5 L320,1133.9 L319,1129.7 L318,1142.2 L317,1161.5 L316,1135.7 L315,1129.9 L314,1153.3 L313,1128 L312,1125.3 L311,1107.6 L310,1102.9 L309,1122.1 L308,1106.1 L307,1121.9 L306,1135 L305,1134.2 L304,1126.6 L303,1113.4 L302,1112.4 L301,1125.7 L300,1123 L299,1110 L298,1098.9 L297,1099.3 L296,1098.1 L295,1099 L294,1101.9 L293,1090 L292,1098.8 L291,1104.4 L290,1108.4 L289,1122.2 L288,1121.2 L287,1127.1 L286,1134.5 L285,1131.2 L284,1142 L283,1123.3 L282,1118.2 L281,1118.2 L280,1136.9 L279,1123 L278,1114.5 L277,1120.6 L276,1129.8 L275,1140.4 L274,1138.8 L273,1126.1 L272,1127.3 L271,1114.2 L270,1118.2 L269,1116 L268,1113.9 L267,1130.8 L266,1113.1 L265,1098.7 L264,1125.6 L263,1126.2 L262,1121.9 L261,1111.2 L260,1106.2 L259,1093.2 L258,1113.1 L257,1107.2 L256,1123.6 L255,1118.3 L254,1118.3 L253,1117 L252,1104 L251,1110.7 L250,1099.9 L249,1094.6 L248,1100.9 L247,1102.6 L246,1115.7 L245,1129.1 L244,1132.4 L243,1100.4 L242,1100.1 L241,1118.8 L240,1134.7 L239,1118.7 L238,1125.5 L237,1117.7 L236,1121.9 L235,1111.6 L234,1118.3 L233,1109.7 L232,1116.7 L231,1114.7 L230,1107.4 L229,1095.9 L228,1099.2 L227,1100.5 L226,1099.5 L225,1116.3 L224,1123.4 L223,1117.6 L222,1106 L221,1120.8 L220,1108.3 L219,1118 L218,1114.6 L217,1125 L216,1116.8 L215,1113.6 L214,1115.9 L213,1103.3 L212,1108 L211,1108.1 L210,1111.2 L209,1100 L208,1116.3 L207,1114 L206,1138.8 L205,1128.4 L204,1117.1 L203,1136.6 L202,1125.7 L201,1130.2 L200,1135.4 L199,1128.2 L198,1129.3 L197,1119.2 L196,1113.3 L195,1124.1 L194,1139.1 L193,1106 L192,1120.6 L191,1108.7 L190,1127.1 L189,1133.4 L188,1130.2 L187,1123 L186,1118.2 L185,1142.3 L184,1135.9 L183,1124.2 L182,1133.1 L181,1129 L180,1113.7 L179,1114.4 L178,1104.5 L177,1114.8 L176,1110.9 L175,1092.1 L174,1099.9 L173,1105.1 L172,1107.5 L171,1108.2 L170,1114.6 L169,1097.8 L168,1098.9 L167,1103.4 L166,1115.3 L165,1121.2 L164,1102.2 L163,1122.2 L162,1125.3 L161,1126.7 L160,1120.9 L159,1098.2 L158,1115 L157,1119 L156,1110.6 L155,1106.9 L154,1108 L153,1115.5 L152,1128 L151,1105.8 L150,1097.3 L149,1093.4 L148,1091.9 L147,1096.5 L146,1110.9 L145,1125.4 L144,1141.6 L143,1124.6 L142,1113.6 L141,1123.3 L140,1129.1 L139,1110.4 L138,1102.1 L137,1097.4 L136,1111.2 L135,1109.6 L134,1100.6 L133,1098.8 L132,1112 L131,1102.8 L130,1091.3 L129,1103.3 L128,1110.5 L127,1104.6 L126,1101 L125,1092.1 L124,1103.6 L123,1103.9 L122,1109.7 L121,1104.2 L120,1113.6 L119,1115.4 L118,1114.1 L117,1113.5 L116,1116.6 L115,1123.6 L114,1106.5 L113,1115.7 L112,1093.3 L111,1105.8 L110,1120.4 L109,1122.1 L108,1117.3 L107,1116.4 L106,1115.5 L105,1122.8 L104,1116.2Z" fill="#f0928b"/><path d="M104,1036.1 L105,1034.3 L106,1035.8 L107,1031.9 L108,1032.5 L109,1030.7 L110,1026.3 L111,1023.1 L112,1026.5 L113,1032.5 L114,1032.8 L115,1026.3 L116,1024 L117,1024.2 L118,1020.2 L119,1035 L120,1036.4 L121,1031.2 L122,1034.3 L123,1030.6 L124,1038.5 L125,1035.4 L126,1031 L127,1025.9 L128,1031.5 L129,1021.5 L130,1018.6 L131,1027.5 L132,1038.8 L133,1035 L134,1026.1 L135,1035.8 L136,1033.4 L137,1035.1 L138,1037.4 L139,1040.2 L140,1041.2 L141,1032.8 L142,1037.8 L143,1031.1 L144,1032.7 L145,1033.6 L146,1040.3 L147,1039.5 L148,1037.8 L149,1033.5 L150,1036.2 L151,1035.1 L152,1032.8 L153,1031.9 L154,1026.9 L155,1036.4 L156,1032.1 L157,1030.9 L158,1029.5 L159,1025.8 L160,1034.6 L161,1036.7 L162,1034.8 L163,1038.6 L164,1040.8 L165,1034.6 L166,1035.4 L167,1037.8 L168,1034.7 L169,1027.8 L170,1034.3 L171,1033.1 L172,1034 L173,1030.4 L174,1036 L175,1036.3 L176,1032 L177,1041.3 L178,1037.5 L179,1030.9 L180,1035.7 L181,1033.1 L182,1031.7 L183,1034.3 L184,1035.5 L185,1031.5 L186,1027.3 L187,1028.9 L188,1028.8 L189,1038.3 L190,1041.9 L191,1034.6 L192,1039 L193,1034.9 L194,1033.3 L195,1028.5 L196,1033.1 L197,1030.7 L198,1037.9 L199,1034.1 L200,1030.4 L201,1030.1 L202,1040.3 L203,1037.5 L204,1031.1 L205,1027.8 L206,1025.9 L207,1037 L208,1027 L209,1036.2 L210,1033.9 L211,1036.6 L212,1038 L213,1033.5 L214,1029.8 L215,1031.8 L216,1032.2 L217,1036.5 L218,1034.2 L219,1036.6 L220,1031.2 L221,1036.2 L222,1032.7 L223,1034.8 L224,1027.8 L225,1030.6 L226,1031.2 L227,1037.6 L228,1035.7 L229,1031.3 L230,1035.8 L231,1037.6 L232,1028 L233,1027.4 L234,1029.7 L235,1029.9 L236,1037.8 L237,1029.8 L238,1039 L239,1038.2 L240,1036.4 L241,1036.7 L242,1033.1 L243,1041.3 L244,1029.3 L245,1024.8 L246,1032.4 L247,1033.3 L248,1037.8 L249,1033.6 L250,1027.4 L251,1030.5 L252,1030.6 L253,1027.8 L254,1030.1 L255,1030.7 L256,1038.5 L257,1036.4 L258,1032.4 L259,1032.2 L260,1036.6 L261,1037.8 L262,1027.2 L263,1029.2 L264,1032.9 L265,1041.5 L266,1030.6 L267,1033.2 L268,1028.7 L269,1033.5 L270,1034.3 L271,1023.1 L272,1037.1 L273,1038.2 L274,1035.8 L275,1036.6 L276,1034.8 L277,1031.1 L278,1035.8 L279,1036.6 L280,1031.7 L281,1032.1 L282,1037.2 L283,1031.4 L284,1027.2 L285,1036.2 L286,1034.2 L287,1039.4 L288,1033.7 L289,1036.3 L290,1039.3 L291,1032.9 L292,1033.1 L293,1035.5 L294,1034.3 L295,1028.9 L296,1033.5 L297,1024.5 L298,1026.1 L299,1025 L300,1033.6 L301,1034.1 L302,1039.3 L303,1042 L304,1036.4 L305,1031.2 L306,1030.1 L307,1026.5 L308,1029.3 L309,1041.1 L310,1032.6 L311,1037.1 L312,1025.3 L313,1030.2 L314,1040 L315,1033 L316,1041.6 L317,1035 L318,1038.4 L319,1039.7 L320,1035 L321,1031.2 L322,1040.2 L323,1034 L324,1030.8 L325,1036.5 L326,1031.5 L327,1031.7 L328,1032.3 L329,1032 L330,1037 L331,1035.5 L332,1032.7 L333,1034.8 L334,1038.6 L335,1029.9 L336,1034.6 L337,1038.2 L338,1030.5 L339,1030.6 L340,1037.6 L341,1038.3 L342,1033.3 L343,1034.9 L344,1035.5 L345,1034.4 L346,1037.6 L347,1040 L348,1040.3 L349,1038 L350,1028.9 L351,1029.7 L352,1016.2 L353,1020.5 L354,1024.4 L355,1028.5 L356,1023.6 L357,1035.6 L358,1035.8 L359,1036.8 L360,1035.9 L361,1032.5 L362,1033.5 L363,1035.7 L364,1033.9 L365,1031.9 L366,1020.7 L367,1025.4 L368,1018.5 L369,1027.1 L370,1033.6 L371,1039.8 L372,1037.7 L373,1035.8 L374,1037.4 L375,1030.8 L376,1028.3 L377,1027.4 L378,1027.2 L379,1041 L380,1033.1 L381,1042.7 L382,1038.9 L383,1035.4 L384,1021.6 L385,1033.4 L386,1040.2 L387,1033.8 L388,1038.4 L389,1034 L390,1029.7 L391,1035.6 L392,1036.7 L393,1037.7 L394,1035.1 L395,1033.2 L396,1027.1 L397,1040.3 L398,1037.3 L399,1033.2 L400,1031.9 L401,1032.4 L402,1030.5 L403,1026.6 L404,1031.1 L405,1037.9 L406,1031.5 L407,1040.1 L408,1033.6 L409,1036.4 L410,1037.8 L411,1033.2 L412,1038.6 L413,1029.7 L414,1039.2 L415,1034.3 L416,1034.4 L417,1031 L418,1033.1 L419,1036.4 L420,1028.8 L421,1033.2 L422,1035.8 L423,1041 L424,1036.2 L425,1026 L426,1026.5 L427,1032.1 L428,1033.8 L429,1036.4 L430,1033.4 L431,1033.6 L432,1028.2 L433,1025.1 L434,1033.2 L435,1035.6 L436,1037.2 L437,1032.7 L438,1031.7 L439,1033.4 L440,1031.4 L441,1026.4 L442,1036.2 L443,1036.1 L444,1035 L445,1026.7 L446,1032.5 L447,1027.5 L448,1033.2 L449,1032.9 L450,1025.1 L451,1026.7 L452,1023.8 L453,1027.3 L454,1027 L455,1038 L456,1032.9 L457,1031.2 L458,1030.4 L459,1032.9 L460,1037.1 L461,1037.7 L462,1038.2 L463,1037 L464,1032.7 L465,1027.7 L466,1031.5 L467,1037.2 L468,1038.2 L469,1032.7 L470,1040.3 L471,1034.7 L472,1035.2 L473,1027.4 L474,1024.7 L475,1033.5 L476,1030.4 L477,1041.4 L478,1033.6 L479,1040.9 L480,1037.3 L481,1037.6 L482,1036.3 L483,1038.8 L484,1035.2 L485,1035.3 L486,1031.9 L487,1032.9 L488,1029.5 L489,1031.1 L490,1034.8 L491,1037.2 L492,1036.2 L493,1034.2 L494,1030 L495,1038.9 L496,1034.4 L497,1029 L498,1033 L499,1024.7 L500,1040.8 L501,1030.5 L502,1035.9 L503,1036.4 L504,1033 L505,1038.7 L506,1037.7 L507,1031 L508,1037 L509,1034.1 L510,1029.2 L511,1033.8 L512,1032.8 L513,1029.3 L514,1034.9 L515,1031.1 L516,1035.5 L517,1029.5 L518,1025.9 L519,1029.3 L520,1026.6 L521,1026.2 L522,1029.7 L523,1025.8 L524,1023.6 L525,1029.4 L526,1036.7 L527,1033.3 L528,1030.3 L529,1025.8 L530,1037.2 L531,1036.7 L532,1036.4 L533,1035 L534,1031.6 L535,1038.2 L536,1034.9 L537,1033.6 L538,1032.6 L539,1030.2 L540,1031.5 L541,1037.9 L542,1030.4 L543,1033.2 L544,1035.3 L545,1034.9 L546,1027.9 L547,1035.9 L548,1030.5 L549,1031.7 L550,1042.3 L551,1038.7 L552,1033.7 L553,1032.7 L554,1030.3 L555,1040.5 L556,1037.8 L557,1032.1 L558,1027.1 L559,1031.6 L560,1032.9 L561,1028.7 L562,1040.9 L563,1036.2 L564,1034.6 L565,1033.1 L566,1036.8 L567,1030.8 L568,1034 L569,1024.2 L570,1029.5 L571,1036.9 L572,1034.8 L573,1033.8 L574,1024.3 L575,1029.4 L576,1034.4 L577,1030 L578,1038.4 L579,1038.5 L580,1035.6 L581,1033.1 L582,1033.8 L583,1026.9 L584,1026.2 L585,1027.3 L586,1031.4 L587,1028 L588,1029.2 L589,1027.2 L590,1033.4 L591,1030.7 L592,1033.1 L593,1031.2 L594,1026.9 L595,1032.4 L596,1035.9 L597,1042.7 L598,1035.9 L599,1031.3 L600,1037.8 L601,1028 L602,1026.6 L603,1030.4 L604,1029.1 L605,1039.8 L606,1035.8 L607,1036.8 L608,1035.7 L609,1040.3 L610,1039.9 L611,1037.8 L612,1027.9 L613,1030.5 L614,1022.8 L615,1030.7 L616,1026.3 L617,1033.7 L618,1038.9 L619,1033 L620,1036.3 L621,1032.5 L622,1034.4 L623,1031.7 L624,1026.1 L625,1037.8 L626,1027.5 L627,1018.8 L628,1024.5 L629,1029.3 L630,1028.5 L631,1033.9 L632,1036.4 L633,1031.2 L634,1037.4 L635,1039.5 L636,1028.8 L637,1028.3 L638,1033.1 L639,1031.5 L640,1030 L641,1028.4 L642,1035.9 L643,1021.9 L644,1028.5 L645,1029.8 L646,1035 L647,1038.6 L648,1035.8 L649,1031.2 L650,1027.9 L651,1030.5 L652,1039.3 L653,1041.6 L654,1038 L655,1035.9 L656,1031.4 L657,1036.3 L658,1038.3 L659,1032.3 L660,1034.6 L661,1031.5 L662,1035.5 L663,1034.4 L664,1029.2 L665,1034.2 L666,1032 L667,1028.5 L668,1033.2 L669,1030.9 L670,1024.7 L671,1033.3 L672,1033.1 L673,1039.3 L674,1031.9 L675,1029.9 L676,1033.4 L677,1037 L678,1041.2 L679,1035.4 L680,1036.3 L681,1037.9 L682,1036.8 L683,1031 L684,1029.3 L685,1029.2 L686,1037.9 L687,1028.1 L688,1027 L689,1027.5 L690,1027.1 L691,1028.7 L692,1030.4 L693,1039.2 L694,1032.9 L695,1030.4 L696,1037.2 L697,1036.7 L698,1029.7 L699,1032.4 L700,1035.5 L701,1029.7 L702,1031.5 L703,1033.4 L704,1035.7 L705,1032.1 L706,1035.3 L707,1037.8 L708,1034.4 L709,1042.1 L710,1040 L711,1035.5 L712,1033 L713,1030.7 L714,1029.6 L715,1030.8 L716,1036 L717,1039.5 L718,1035.2 L719,1036.8 L720,1037 L721,1033 L722,1032.3 L723,1035.5 L724,1036.2 L725,1035.7 L726,1035.7 L727,1035.1 L728,1031.4 L729,1031.4 L730,1038.4 L731,1029.5 L732,1030.5 L733,1034.6 L734,1029.4 L735,1029.6 L736,1030.2 L737,1036.4 L738,1036.1 L739,1030.6 L740,1040.3 L741,1035.2 L742,1042.2 L743,1036.8 L744,1028.9 L745,1028.2 L746,1034.4 L747,1035.2 L748,1029.2 L749,1031.3 L750,1029.3 L751,1031.8 L752,1030.7 L753,1032.6 L754,1037.9 L755,1035.6 L756,1034.4 L757,1038.9 L758,1040.3 L759,1031.2 L760,1025.9 L761,1029.8 L762,1028.1 L763,1030.8 L764,1024.2 L765,1029.9 L766,1033 L767,1029.1 L768,1024.3 L769,1028.1 L770,1031.6 L771,1039.6 L772,1028.8 L773,1032 L774,1033.2 L775,1027.5 L776,1027.4 L777,1023.1 L778,1034.6 L779,1031.5 L780,1041.5 L781,1035.5 L782,1037.5 L783,1034.6 L784,1034.2 L785,1036.1 L786,1036 L787,1031.8 L788,1026.6 L789,1029.2 L790,1026.8 L791,1027 L792,1025.8 L793,1030.7 L794,1026.2 L795,1022.8 L796,1023.4 L797,1035.6 L798,1029 L799,1019.8 L800,1033.2 L801,1037 L802,1030.7 L803,1031.5 L804,1035.8 L805,1034.8 L806,1028.1 L807,1034.9 L808,1035.6 L809,1039.8 L810,1034.5 L811,1033.9 L812,1024.1 L813,1026.5 L814,1036.2 L815,1038.4 L816,1030.6 L817,1023.3 L818,1034.6 L819,1023.5 L820,1038.9 L821,1032.1 L822,1029.3 L823,1034.7 L824,1039.3 L825,1036.8 L826,1034.5 L827,1029.9 L828,1038.1 L829,1036.6 L830,1039.2 L831,1031.1 L832,1031.7 L833,1024.7 L834,1030.7 L835,1030.3 L836,1032.8 L837,1027.8 L838,1031.7 L839,1034.2 L840,1032.2 L841,1036.9 L842,1038.6 L843,1037.7 L844,1038.2 L845,1038.4 L845,1094.9 L844,1097.7 L843,1097.7 L842,1099.7 L841,1097.8 L840,1099 L839,1103 L838,1104.3 L837,1103.6 L836,1104.5 L835,1109 L834,1101.5 L833,1106 L832,1100 L831,1106.6 L830,1096.9 L829,1099.9 L828,1101.2 L827,1100 L826,1093.1 L825,1098.7 L824,1099.1 L823,1098.4 L822,1098.6 L821,1097.1 L820,1096.4 L819,1109.6 L818,1106.5 L817,1108.4 L816,1102.8 L815,1094.3 L814,1095.7 L813,1102.4 L812,1108.6 L811,1098.5 L810,1103.8 L809,1097.3 L808,1098.1 L807,1103.7 L806,1105.8 L805,1105.8 L804,1097 L803,1100.6 L802,1106.5 L801,1096.6 L800,1099.9 L799,1112.3 L798,1107.2 L797,1098.8 L796,1108.3 L795,1112.9 L794,1108.6 L793,1103.6 L792,1112.6 L791,1102.4 L790,1106.1 L789,1106.3 L788,1103 L787,1095.8 L786,1096.9 L785,1093 L784,1101.4 L783,1100.7 L782,1096.3 L781,1096 L780,1095.7 L779,1103 L778,1102.2 L777,1104.1 L776,1102.8 L775,1105 L774,1101.8 L773,1100.6 L772,1103.7 L771,1096.4 L770,1105.2 L769,1104.2 L768,1109.3 L767,1107.3 L766,1099.2 L765,1107.2 L764,1111 L763,1109.9 L762,1106.2 L761,1102 L760,1106.7 L759,1102.1 L758,1095.9 L757,1096.3 L756,1098.2 L755,1098.1 L754,1099.5 L753,1097.8 L752,1107.1 L751,1105.4 L750,1104.5 L749,1101.1 L748,1105.2 L747,1102.4 L746,1098.2 L745,1107.8 L744,1102.1 L743,1099 L742,1093.9 L741,1098 L740,1093.8 L739,1105.9 L738,1095.1 L737,1099.8 L736,1100.2 L735,1101.7 L734,1108.4 L733,1103 L732,1108 L731,1105.2 L730,1100.9 L729,1100.9 L728,1102.1 L727,1102.9 L726,1100.4 L725,1100.7 L724,1098.9 L723,1098.1 L722,1104.8 L721,1100.5 L720,1102.8 L719,1102.7 L718,1096.4 L717,1100.9 L716,1096.9 L715,1097.1 L714,1100.7 L713,1104.3 L712,1105.7 L711,1093.6 L710,1096.2 L709,1096.9 L708,1096.4 L707,1093.9 L706,1098.7 L705,1097.9 L704,1096.9 L703,1106.6 L702,1102.2 L701,1100.9 L700,1097.3 L699,1096.3 L698,1103.7 L697,1095.4 L696,1099.8 L695,1104 L694,1096.1 L693,1094.8 L692,1103.5 L691,1099.1 L690,1107.2 L689,1111.1 L688,1104.8 L687,1101.5 L686,1097.6 L685,1101.8 L684,1107.6 L683,1106.1 L682,1095.3 L681,1098 L680,1098.3 L679,1103.5 L678,1098.4 L677,1095.7 L676,1096.6 L675,1104 L674,1098.6 L673,1099.5 L672,1100.7 L671,1102 L670,1106.9 L669,1100.4 L668,1101.9 L667,1099.5 L666,1104.3 L665,1098 L664,1105.2 L663,1099.3 L662,1099.3 L661,1098.3 L660,1100.7 L659,1103.6 L658,1098.2 L657,1092.9 L656,1102.9 L655,1102.5 L654,1092.2 L653,1096.2 L652,1093.8 L651,1102.6 L650,1101.3 L649,1104.5 L648,1104.1 L647,1096.9 L646,1097.3 L645,1101.4 L644,1104.7 L643,1110.3 L642,1098.8 L641,1110.9 L640,1109.9 L639,1096.8 L638,1096.8 L637,1107.3 L636,1099 L635,1094.1 L634,1098.7 L633,1102.4 L632,1103.2 L631,1099.4 L630,1109.3 L629,1104.8 L628,1109.9 L627,1115.6 L626,1110.9 L625,1098.1 L624,1106.9 L623,1107 L622,1099.6 L621,1102.1 L620,1100.6 L619,1100.4 L618,1099.7 L617,1099.7 L616,1112.1 L615,1104.6 L614,1109 L613,1107.1 L612,1106.3 L611,1095 L610,1092.3 L609,1092.4 L608,1100.4 L607,1099.2 L606,1100.1 L605,1093.7 L604,1099.2 L603,1101.6 L602,1107.4 L601,1107.5 L600,1099.6 L599,1100.8 L598,1098.8 L597,1092.9 L596,1100.8 L595,1104.5 L594,1103.9 L593,1100.7 L592,1100.4 L591,1100.4 L590,1095.3 L589,1102.5 L588,1103.6 L587,1104.2 L586,1097.1 L585,1101.5 L584,1102 L583,1106 L582,1104.2 L581,1099.9 L580,1098.9 L579,1095.3 L578,1096.5 L577,1101.8 L576,1104 L575,1108.1 L574,1107.3 L573,1101.3 L572,1102 L571,1101.9 L570,1103.8 L569,1106.5 L568,1096.9 L567,1100.4 L566,1094.8 L565,1095.8 L564,1097.6 L563,1095.9 L562,1096.9 L561,1100.8 L560,1102.5 L559,1098.7 L558,1104.8 L557,1098.7 L556,1099.8 L555,1098.5 L554,1099.5 L553,1096.4 L552,1103.3 L551,1097.1 L550,1094.4 L549,1102.4 L548,1103.1 L547,1097.2 L546,1104.8 L545,1094.6 L544,1099.2 L543,1103.2 L542,1099.3 L541,1098.4 L540,1101.9 L539,1099.9 L538,1103.8 L537,1102.8 L536,1096.3 L535,1095.1 L534,1100 L533,1099.8 L532,1093.4 L531,1098.3 L530,1096.3 L529,1104.7 L528,1106.2 L527,1099.4 L526,1099.2 L525,1100 L524,1113.6 L523,1109.7 L522,1103.9 L521,1103.6 L520,1105.4 L519,1111 L518,1108.5 L517,1104.7 L516,1101.9 L515,1101.9 L514,1099.4 L513,1107.8 L512,1100.2 L511,1105.9 L510,1101.9 L509,1096.5 L508,1098.1 L507,1098.2 L506,1100.7 L505,1097.6 L504,1095.6 L503,1102.3 L502,1097.8 L501,1097.3 L500,1097 L499,1106 L498,1105.2 L497,1102.2 L496,1101.2 L495,1096.6 L494,1103 L493,1098.2 L492,1101.8 L491,1096 L490,1099.3 L489,1099.4 L488,1102.4 L487,1098 L486,1100.4 L485,1101.8 L484,1097.2 L483,1099.4 L482,1097.7 L481,1100.3 L480,1095.3 L479,1092.6 L478,1098.3 L477,1095.9 L476,1099 L475,1105.1 L474,1106.4 L473,1104.3 L472,1099.9 L471,1098.2 L470,1094.1 L469,1097.1 L468,1096.5 L467,1100.3 L466,1102.6 L465,1101.7 L464,1104.7 L463,1098.1 L462,1096.5 L461,1098.1 L460,1095.7 L459,1094.8 L458,1097.9 L457,1097.7 L456,1099.2 L455,1100.6 L454,1101.8 L453,1106.7 L452,1108.7 L451,1102.3 L450,1100.8 L449,1097.7 L448,1098.6 L447,1103.8 L446,1108.5 L445,1105.7 L444,1098.5 L443,1095.9 L442,1097.6 L441,1104.7 L440,1102.6 L439,1105.3 L438,1099.3 L437,1097.2 L436,1096 L435,1096.7 L434,1098 L433,1109 L432,1106.9 L431,1100.4 L430,1095.7 L429,1094.8 L428,1102 L427,1100.6 L426,1109.7 L425,1107 L424,1095.3 L423,1094.9 L422,1102.9 L421,1102.6 L420,1103.9 L419,1099.1 L418,1104.5 L417,1102.9 L416,1100.4 L415,1094.9 L414,1097.7 L413,1100.5 L412,1097.6 L411,1106.3 L410,1094.3 L409,1095.9 L408,1094 L407,1093.6 L406,1100.4 L405,1098.2 L404,1107.1 L403,1104.2 L402,1104.8 L401,1102.9 L400,1096.8 L399,1103.5 L398,1099.7 L397,1096.4 L396,1101.2 L395,1098.2 L394,1094.9 L393,1096.2 L392,1101.7 L391,1099.8 L390,1100.8 L389,1099.4 L388,1094.1 L387,1096.5 L386,1095.9 L385,1096.1 L384,1105.4 L383,1097.6 L382,1096 L381,1094.4 L380,1096.2 L379,1092.8 L378,1106.1 L377,1107.5 L376,1103.2 L375,1102.8 L374,1102.3 L373,1095.4 L372,1096.5 L371,1094.4 L370,1105.2 L369,1103.1 L368,1115.8 L367,1111.7 L366,1115.1 L365,1100.7 L364,1098 L363,1101.7 L362,1099.6 L361,1103 L360,1096.1 L359,1101.7 L358,1099.5 L357,1100.5 L356,1108.2 L355,1102.6 L354,1110 L353,1108 L352,1120.8 L351,1104.1 L350,1108 L349,1096.4 L348,1096.2 L347,1096.9 L346,1095.5 L345,1102.5 L344,1102.2 L343,1100.7 L342,1098.2 L341,1092.3 L340,1101.1 L339,1100.3 L338,1102 L337,1100.6 L336,1100.6 L335,1099.8 L334,1099.1 L333,1102.8 L332,1104.9 L331,1099 L330,1094.1 L329,1101 L328,1097.9 L327,1105 L326,1102.1 L325,1098 L324,1104.4 L323,1100.7 L322,1093.6 L321,1104.2 L320,1103.2 L319,1100.6 L318,1091.3 L317,1104.2 L316,1092.7 L315,1101.2 L314,1098.5 L313,1106.7 L312,1105.7 L311,1101.9 L310,1097.1 L309,1098.6 L308,1098.7 L307,1101.4 L306,1098.5 L305,1100.3 L304,1103.1 L303,1096.8 L302,1094.8 L301,1100.6 L300,1107.1 L299,1107.8 L298,1101 L297,1108.7 L296,1101.5 L295,1102.6 L294,1103.2 L293,1097.1 L292,1098.8 L291,1099.1 L290,1098.8 L289,1098.9 L288,1103.4 L287,1093.3 L286,1097.3 L285,1097 L284,1104.4 L283,1100.7 L282,1099.1 L281,1102.7 L280,1103.9 L279,1101.8 L278,1097.3 L277,1098.3 L276,1095.7 L275,1094.6 L274,1096 L273,1097.3 L272,1101.8 L271,1109.2 L270,1105.6 L269,1096.7 L268,1100.8 L267,1098.2 L266,1102.5 L265,1094.1 L264,1102.9 L263,1105.4 L262,1103 L261,1099 L260,1099.5 L259,1103.8 L258,1102 L257,1095.4 L256,1096.5 L255,1105.4 L254,1105.4 L253,1110.1 L252,1110.2 L251,1099.8 L250,1101.3 L249,1100.9 L248,1101.9 L247,1102.8 L246,1098.3 L245,1112.7 L244,1102.4 L243,1096.9 L242,1104.8 L241,1092.9 L240,1103.7 L239,1099 L238,1097.3 L237,1098.9 L236,1100.6 L235,1099.1 L234,1101.4 L233,1105.1 L232,1102.7 L231,1100.9 L230,1099.3 L229,1098.5 L228,1104.6 L227,1097.4 L226,1102 L225,1099.7 L224,1106.6 L223,1103.8 L222,1097.8 L221,1094.5 L220,1103.5 L219,1095.9 L218,1097.3 L217,1095.1 L216,1100.7 L215,1095.8 L214,1103.7 L213,1098.9 L212,1102.2 L211,1096.6 L210,1096.6 L209,1098.6 L208,1105 L207,1099.8 L206,1102.4 L205,1104.8 L204,1100.5 L203,1101.8 L202,1094 L201,1104.4 L200,1103.2 L199,1094.2 L198,1100.4 L197,1101.4 L196,1096.2 L195,1102.3 L194,1106.7 L193,1100.3 L192,1093.4 L191,1096.1 L190,1093.7 L189,1093.1 L188,1103.6 L187,1100.1 L186,1109.4 L185,1102 L184,1095 L183,1100.5 L182,1098.1 L181,1105.8 L180,1104.6 L179,1102.9 L178,1100.3 L177,1097.4 L176,1108.4 L175,1097.1 L174,1094.9 L173,1106.7 L172,1094.5 L171,1099.1 L170,1103.5 L169,1104.5 L168,1098.4 L167,1095.4 L166,1098.4 L165,1096.9 L164,1095.1 L163,1095.8 L162,1101.2 L161,1100.5 L160,1099.2 L159,1109.8 L158,1106.1 L157,1105.8 L156,1102.5 L155,1096.6 L154,1105.4 L153,1099.5 L152,1105.5 L151,1097.1 L150,1097.2 L149,1099.3 L148,1096.2 L147,1099 L146,1097.9 L145,1095 L144,1099.9 L143,1100.9 L142,1099.5 L141,1096.5 L140,1095.5 L139,1100.2 L138,1096 L137,1094.8 L136,1102.9 L135,1100.2 L134,1105 L133,1101.2 L132,1099.7 L131,1102 L130,1114.5 L129,1113 L128,1107.6 L127,1107 L126,1102.1 L125,1098.1 L124,1094.2 L123,1099.2 L122,1098.9 L121,1104.2 L120,1093.2 L119,1099.3 L118,1111.7 L117,1112.2 L116,1107.5 L115,1105.8 L114,1101.1 L113,1099.4 L112,1107 L111,1109.7 L110,1106 L109,1105.5 L108,1097.7 L107,1102.7 L106,1098.6 L105,1098.5 L104,1098.8Z" fill="#cf7e7a"/></g><rect x="426.3" y="968" width="24.899999999999977" height="198.5" fill="#eeeeee" fill-opacity="0.45" stroke="#555" stroke-width="2.2"/><rect x="103" y="968" width="743" height="198.5" fill="none" stroke="#5a5a5a" stroke-width="3"/><path d="M103.5,1166.5v-14M103.5,968v14" stroke="#5a5a5a" stroke-width="3"/><path d="M288.9,1166.5v-14M288.9,968v14" stroke="#5a5a5a" stroke-width="3"/><path d="M474.3,1166.5v-14M474.3,968v14" stroke="#5a5a5a" stroke-width="3"/><path d="M659.7,1166.5v-14M659.7,968v14" stroke="#5a5a5a" stroke-width="3"/><path d="M845.1,1166.5v-14M845.1,968v14" stroke="#5a5a5a" stroke-width="3"/><path d="M103,1008.5h14M846,1008.5h-14" stroke="#5a5a5a" stroke-width="3"/><path d="M103,1067h14M846,1067h-14" stroke="#5a5a5a" stroke-width="3"/><path d="M103,1125.5h14M846,1125.5h-14" stroke="#5a5a5a" stroke-width="3"/><path d="M107,933 L426.3,968 M842,933 L451.2,968" stroke="#777" stroke-width="3" stroke-dasharray="11 8" fill="none"/><path d="M105,932.5 l9,-3.5 l-1,6z M844,932.5 l-9,-3.5 l1,6z" fill="#777"/><text x="103.5" y="1205" font-size="37" fill="#111" text-anchor="middle" >0</text><text x="288.9" y="1205" font-size="37" fill="#111" text-anchor="middle" >1</text><text x="474.3" y="1205" font-size="37" fill="#111" text-anchor="middle" >2</text><text x="659.7" y="1205" font-size="37" fill="#111" text-anchor="middle" >3</text><text x="845.1" y="1205" font-size="37" fill="#111" text-anchor="middle" >4</text><text x="474.2" y="1255" font-size="38.5" fill="#111" text-anchor="middle" >Time (s)</text><text x="98" y="1021.5" font-size="37" fill="#111" text-anchor="end" >1</text><text x="98" y="1080" font-size="37" fill="#111" text-anchor="end" >0</text><text x="98" y="1138.5" font-size="37" fill="#111" text-anchor="end" >−1</text><text transform="translate(39,936) rotate(-90)" font-size="37" fill="#111" text-anchor="middle">Displacement (a.u.)</text><g clip-path="url(#cu23)"><path d="M1096,780.6 L1097,781.8 L1098,782.1 L1099,782.5 L1100,784.5 L1101,785.3 L1102,788.5 L1103,792.2 L1104,791.7 L1105,793.7 L1106,797.6 L1107,799.8 L1108,802 L1109,803.2 L1110,807.2 L1111,811 L1112,811 L1113,815.2 L1114,816.1 L1115,820 L1116,822.2 L1117,827.5 L1118,829 L1119,834.1 L1120,836.9 L1121,839.3 L1122,838.9 L1123,844.4 L1124,847.7 L1125,850.5 L1126,850.7 L1127,854.5 L1128,856 L1129,858.3 L1130,862.9 L1131,862 L1132,864.7 L1133,867.5 L1134,866.7 L1135,868.4 L1136,869.6 L1137,870.3 L1138,869 L1139,871.2 L1140,873.1 L1141,869 L1142,872 L1143,870.5 L1144,868.7 L1145,871.5 L1146,868.6 L1147,864.5 L1148,864.8 L1149,863.7 L1150,860.7 L1151,859.9 L1152,856.6 L1153,855.2 L1154,853.8 L1155,848.1 L1156,846.6 L1157,842.8 L1158,840.6 L1159,835.8 L1160,833.5 L1161,830.9 L1162,829.3 L1163,826.5 L1164,819.8 L1165,817.4 L1166,816.3 L1167,809.6 L1168,808.7 L1169,806.3 L1170,805.3 L1171,801.8 L1172,797.8 L1173,795.2 L1174,793.1 L1175,793.4 L1176,788.6 L1177,786.9 L1178,786.2 L1179,784.1 L1180,782.7 L1181,780.4 L1182,781.1 L1183,779.8 L1184,781.6 L1185,780.7 L1186,779.8 L1187,781.1 L1188,780.2 L1189,782.9 L1190,782.4 L1191,784.5 L1192,783.3 L1193,787.3 L1194,786.4 L1195,788 L1196,792.7 L1197,794.4 L1198,798.5 L1199,804.2 L1200,802.8 L1201,806.1 L1202,810.4 L1203,814 L1204,816.4 L1205,819.7 L1206,824.3 L1207,827.4 L1208,828.6 L1209,833.3 L1210,836.7 L1211,838.4 L1212,843.4 L1213,844.8 L1214,850.3 L1215,852 L1216,854.5 L1217,856 L1218,859 L1219,858.5 L1220,861.6 L1221,865.4 L1222,863.3 L1223,868.8 L1224,866.1 L1225,870.4 L1226,868.7 L1227,871.2 L1228,870.4 L1229,867.9 L1230,871.5 L1231,871.3 L1232,868.5 L1233,867.4 L1234,866.7 L1235,864.4 L1236,866.1 L1237,862.4 L1238,861.6 L1239,858.9 L1240,857.3 L1241,854.5 L1242,856.1 L1243,852 L1244,851.3 L1245,847.7 L1246,844.4 L1247,842.4 L1248,839.6 L1249,837.9 L1250,834.8 L1251,832.3 L1252,828.1 L1253,826.3 L1254,827.1 L1255,821.3 L1256,818.1 L1257,817.5 L1258,816.5 L1259,810 L1260,809.4 L1261,806.5 L1262,802.6 L1263,804 L1264,800.9 L1265,799 L1266,796 L1267,796 L1268,793 L1269,792.1 L1270,789.5 L1271,788.1 L1272,790.7 L1273,787.2 L1274,787.7 L1275,786.6 L1276,785.7 L1277,785.4 L1278,786.9 L1279,785.7 L1280,786.1 L1281,786.7 L1282,788.8 L1283,788.8 L1284,789.2 L1285,788.7 L1286,788.6 L1287,793.1 L1288,794.4 L1289,794.2 L1290,796.7 L1291,798.7 L1292,800.5 L1293,802.4 L1294,802.4 L1295,807.1 L1296,805.3 L1297,810.4 L1298,812 L1299,814.8 L1300,818.4 L1301,820.2 L1302,818.8 L1303,820.4 L1304,826.2 L1305,825.9 L1306,829.7 L1307,833.1 L1308,831.9 L1309,833.5 L1310,839 L1311,840.8 L1312,842.5 L1313,844.8 L1314,845.5 L1315,846.4 L1316,850 L1317,850.5 L1318,851.1 L1319,855.5 L1320,856 L1321,857.9 L1322,857 L1323,858.4 L1324,858.7 L1325,859.5 L1326,861.5 L1327,860.6 L1328,862.4 L1329,862.5 L1330,864.8 L1331,859.7 L1332,862.5 L1333,860.5 L1334,859.8 L1335,856.8 L1336,857 L1337,857.3 L1338,854.6 L1339,853.2 L1340,850.8 L1341,850.9 L1342,847.1 L1343,841.8 L1344,841.6 L1345,837.4 L1346,833.1 L1347,834.3 L1348,834.2 L1349,829.7 L1350,825.3 L1351,822.8 L1352,822.9 L1353,818.8 L1354,815.9 L1355,813 L1356,810.4 L1357,808.8 L1358,805.9 L1359,803 L1360,798.8 L1361,798.7 L1362,794.8 L1363,795.3 L1364,790 L1365,789.9 L1366,788.4 L1367,785.1 L1368,788.1 L1369,786.6 L1370,783 L1371,784 L1372,782.9 L1373,778.3 L1374,782.2 L1375,781.8 L1376,782.2 L1377,781 L1378,782.8 L1379,783.7 L1380,786.7 L1381,786.7 L1382,787.6 L1383,791.4 L1384,790.2 L1385,792.4 L1386,792.5 L1387,799.4 L1388,800.9 L1389,803.4 L1390,805.6 L1391,807.5 L1392,810.5 L1393,812.7 L1394,815.7 L1395,819 L1396,824.1 L1397,825.8 L1398,827.9 L1399,830.2 L1400,833.2 L1401,839.3 L1402,840.7 L1403,842.9 L1404,845.1 L1405,846.8 L1406,850.8 L1407,854.6 L1408,855.2 L1409,857.7 L1410,859.8 L1411,862.2 L1412,861.5 L1413,865 L1414,865.6 L1415,869.2 L1416,868 L1417,870.7 L1418,872.6 L1419,870.5 L1420,870.3 L1421,871.5 L1422,871 L1423,869.2 L1424,870.6 L1425,872 L1426,867.8 L1427,866.7 L1428,864.1 L1429,864.4 L1430,860.4 L1431,858.7 L1432,860 L1433,854.7 L1434,855.1 L1435,853.2 L1436,848.8 L1437,846.5 L1438,845.6 L1439,839.7 L1440,836.2 L1441,832.2 L1442,831.1 L1443,830 L1444,826.3 L1445,820.5 L1446,817.7 L1447,815.2 L1448,813.4 L1449,809.8 L1450,807.6 L1451,805 L1452,801.6 L1453,799.5 L1454,797.6 L1455,795 L1456,793.8 L1457,793.8 L1458,790.3 L1459,788.1 L1460,784.3 L1461,786.1 L1462,781.9 L1463,781.9 L1464,784.5 L1465,784 L1466,782.7 L1467,780.6 L1468,782.7 L1469,782.7 L1470,785.1 L1471,788.2 L1472,786.2 L1473,785.9 L1474,786.5 L1475,789.5 L1476,790.8 L1477,791.1 L1478,794.6 L1479,794.7 L1480,799.9 L1481,801.9 L1482,804.1 L1483,804.2 L1484,808 L1485,809.5 L1486,811.6 L1487,814.2 L1488,815.4 L1489,817.8 L1490,823.5 L1491,824.8 L1492,827.9 L1493,831.6 L1494,830.3 L1495,834.1 L1496,837.9 L1497,840.6 L1498,841.8 L1499,846 L1500,847 L1501,847.1 L1502,849.4 L1503,853.7 L1504,854.9 L1505,853.1 L1506,859.1 L1507,859.3 L1508,861.5 L1509,860 L1510,861 L1511,860.5 L1512,866.1 L1513,862.6 L1514,865.2 L1515,862.1 L1516,863 L1517,860.1 L1518,861.4 L1519,862.7 L1520,858.7 L1521,861 L1522,858.9 L1523,855.7 L1524,855 L1525,853.6 L1526,852.5 L1527,850 L1528,847.7 L1529,846.5 L1530,843.4 L1531,840.9 L1532,840.3 L1533,839.3 L1534,833.6 L1535,833.3 L1536,829.9 L1537,827 L1538,827.1 L1539,822.6 L1540,823 L1541,817.3 L1542,816.5 L1543,813.2 L1544,810.1 L1545,809.6 L1546,806.3 L1547,805.2 L1548,802.2 L1549,798.8 L1550,798.3 L1551,796.7 L1552,796.3 L1553,792.1 L1554,791.9 L1555,788.3 L1556,790.5 L1557,787.1 L1558,785.3 L1559,787 L1560,788.1 L1561,784.1 L1562,784.5 L1563,785 L1564,784.6 L1565,787 L1566,785.8 L1567,786.6 L1568,789.2 L1569,788.3 L1570,791.1 L1571,790.5 L1572,791.6 L1573,792.3 L1574,799.1 L1575,797.9 L1576,800.7 L1577,802.3 L1578,804.8 L1579,806.8 L1580,811.8 L1581,810 L1582,811.7 L1583,815 L1584,817.1 L1585,822.5 L1586,825.2 L1587,825.2 L1588,827.1 L1589,831.1 L1590,836 L1591,832.5 L1592,839.6 L1593,839.6 L1594,844.8 L1595,844 L1596,847.1 L1597,847.3 L1598,849.8 L1599,854.8 L1600,855.5 L1601,855.2 L1602,855.7 L1603,855.4 L1604,858.4 L1605,859.6 L1606,860.2 L1607,860.6 L1608,859.4 L1609,860.9 L1610,860.8 L1611,862.4 L1612,862.8 L1613,859.4 L1614,857.7 L1615,857.8 L1616,855.9 L1617,854.5 L1618,854.1 L1619,851.2 L1620,851.8 L1621,849 L1622,847.6 L1623,845 L1624,842.1 L1625,839.6 L1626,838.3 L1627,835.6 L1628,834.3 L1629,831.5 L1630,827.1 L1631,826.6 L1632,822.1 L1633,820.6 L1634,818.6 L1635,813.6 L1636,814.2 L1637,811.9 L1638,809.1 L1639,806.5 L1640,804.3 L1641,801.4 L1642,800.4 L1643,798.1 L1644,797.2 L1645,793.7 L1646,794.2 L1647,792.7 L1648,791 L1649,789.5 L1650,790 L1651,786.1 L1652,788.5 L1653,787.7 L1654,787.5 L1655,787.5 L1656,786.2 L1657,787 L1658,788.7 L1659,789 L1660,789.5 L1661,788.1 L1662,792.2 L1663,794.4 L1664,795.6 L1665,796.2 L1666,795.5 L1667,800.9 L1668,801.4 L1669,800.3 L1670,806.6 L1671,806.4 L1672,809.1 L1673,812.6 L1674,817.9 L1675,818.2 L1676,821.8 L1677,826.6 L1678,829 L1679,829.4 L1680,831.9 L1681,833.1 L1682,836.5 L1683,840.6 L1684,843.1 L1685,845.1 L1686,848.7 L1687,848.4 L1688,851.5 L1689,854.6 L1690,856.2 L1691,858.6 L1692,859.2 L1693,859.7 L1694,861.8 L1695,861 L1696,861 L1697,864.8 L1698,864.4 L1699,865.3 L1700,862.6 L1701,864.4 L1702,863.8 L1703,863 L1704,860.4 L1705,862.1 L1706,862.8 L1707,860.7 L1708,857.8 L1709,857 L1710,856.2 L1711,849.2 L1712,850.7 L1713,849.3 L1714,847 L1715,845.8 L1716,842.3 L1717,838.3 L1718,835.4 L1719,833 L1720,828.1 L1721,825.7 L1722,823.9 L1723,822.3 L1724,816.2 L1725,813.2 L1726,810.5 L1727,809 L1728,804.1 L1729,803.3 L1730,797.1 L1731,795.5 L1732,792.9 L1733,791.8 L1734,789.8 L1735,784.1 L1736,782.9 L1737,782.8 L1738,779.8 L1739,777.1 L1740,779.4 L1741,777.6 L1742,776.7 L1743,774.7 L1744,776.4 L1745,774.4 L1746,776.3 L1747,773.7 L1748,774.2 L1749,776.4 L1750,776 L1751,779 L1752,779.7 L1753,779.6 L1754,782.7 L1755,784 L1756,787.9 L1757,788 L1758,790.7 L1759,795.5 L1760,799.7 L1761,802.2 L1762,802.4 L1763,805.6 L1764,810.6 L1765,811.5 L1766,813.5 L1767,818.3 L1768,822.1 L1769,823.6 L1770,825.8 L1771,829.4 L1772,835.6 L1773,836.8 L1774,840.8 L1775,844.3 L1776,847.8 L1777,849.3 L1778,853.2 L1779,853.9 L1780,857.1 L1781,858.4 L1782,863.6 L1783,863.9 L1784,864.6 L1785,866.7 L1786,868.3 L1787,870.7 L1788,868.4 L1789,869.9 L1790,871.3 L1791,875.7 L1792,873.5 L1793,871.9 L1794,872.7 L1795,874 L1796,870 L1797,868.9 L1798,869.9 L1799,867.6 L1800,866.3 L1801,863 L1802,864.6 L1803,862.3 L1804,858.5 L1805,856.4 L1806,850.2 L1807,851.4 L1808,847.6 L1809,845.7 L1810,843.3 L1811,838.9 L1812,834.1 L1813,834 L1814,829.4 L1815,827 L1816,823.5 L1817,820.9 L1818,815.1 L1819,817 L1820,812.8 L1821,811.1 L1822,809.5 L1823,804.1 L1824,798.9 L1825,797.7 L1826,794.9 L1827,793.6 L1828,792.3 L1829,787.4 L1830,788.9 L1831,784.7 L1832,785.8 L1833,783.9 L1834,782.6 L1835,782 L1836,780.7 L1837,780 L1838,778.2 L1839,780.5 L1840,783.2" fill="none" stroke="#1c4a78" stroke-width="8.5" stroke-linejoin="round"/><path d="M1096,785.6 L1097,786.9 L1098,788 L1099,790 L1100,790.3 L1101,793.2 L1102,794.5 L1103,797.5 L1104,799.6 L1105,802 L1106,803.8 L1107,805.6 L1108,808.6 L1109,811.4 L1110,812.6 L1111,815.9 L1112,818.1 L1113,821.6 L1114,822.9 L1115,825.8 L1116,828.8 L1117,831.4 L1118,832.8 L1119,836.5 L1120,838.6 L1121,840.9 L1122,843.2 L1123,845.6 L1124,846.5 L1125,850.5 L1126,850.9 L1127,851.8 L1128,854.7 L1129,857.1 L1130,857.2 L1131,859.6 L1132,860.6 L1133,859.9 L1134,859.6 L1135,860.8 L1136,862.6 L1137,861.5 L1138,861 L1139,860.9 L1140,861.4 L1141,860.8 L1142,860.7 L1143,859.9 L1144,857.8 L1145,857.1 L1146,855.2 L1147,854.5 L1148,852.3 L1149,850.6 L1150,850.8 L1151,847.7 L1152,846.1 L1153,845.1 L1154,841.9 L1155,839.2 L1156,837 L1157,834.2 L1158,832.9 L1159,829.7 L1160,828.5 L1161,824.8 L1162,822.4 L1163,819.9 L1164,818.2 L1165,815.5 L1166,813.9 L1167,810.5 L1168,808.8 L1169,807.7 L1170,804.4 L1171,802.9 L1172,801.7 L1173,799.3 L1174,797 L1175,794.7 L1176,796 L1177,793.6 L1178,793 L1179,791 L1180,791.6 L1181,790.2 L1182,789.5 L1183,788.6 L1184,789.2 L1185,788.7 L1186,789.1 L1187,788.5 L1188,789.7 L1189,790.7 L1190,790.6 L1191,792.4 L1192,793.8 L1193,794.4 L1194,795.5 L1195,797 L1196,799.5 L1197,799.7 L1198,802.2 L1199,804 L1200,806.3 L1201,808.2 L1202,809.8 L1203,813.8 L1204,815 L1205,816.3 L1206,818.9 L1207,821.9 L1208,824.6 L1209,825.8 L1210,829.4 L1211,830.5 L1212,833.1 L1213,836.4 L1214,839.2 L1215,840.3 L1216,842.3 L1217,845.3 L1218,845.9 L1219,848.6 L1220,850.4 L1221,852.5 L1222,853.7 L1223,854.8 L1224,856.7 L1225,856.8 L1226,859.1 L1227,859.1 L1228,859.8 L1229,860.7 L1230,861.5 L1231,862.2 L1232,861.8 L1233,862.4 L1234,862.4 L1235,861.5 L1236,860.5 L1237,861 L1238,859.8 L1239,857.4 L1240,857 L1241,856.4 L1242,854.1 L1243,852.9 L1244,850.6 L1245,850.1 L1246,848.1 L1247,846 L1248,844.6 L1249,841.3 L1250,839 L1251,838 L1252,833.5 L1253,832.2 L1254,828.4 L1255,826.7 L1256,825.2 L1257,821.5 L1258,818.2 L1259,817.5 L1260,813.1 L1261,810.7 L1262,808.4 L1263,804.9 L1264,804 L1265,801.9 L1266,799.1 L1267,796.6 L1268,794.2 L1269,792.8 L1270,788.5 L1271,788.5 L1272,787.1 L1273,784.3 L1274,784.3 L1275,782.8 L1276,781.8 L1277,781 L1278,780.5 L1279,779.8 L1280,778.5 L1281,778.8 L1282,778.7 L1283,778.9 L1284,778.9 L1285,780.3 L1286,781.2 L1287,782.2 L1288,783.6 L1289,784.6 L1290,784.9 L1291,786.5 L1292,788.4 L1293,791 L1294,792.7 L1295,795.6 L1296,798.4 L1297,799.7 L1298,803.2 L1299,805.1 L1300,807.4 L1301,810.3 L1302,813.8 L1303,815.9 L1304,820.4 L1305,824.1 L1306,825.5 L1307,829.1 L1308,833.3 L1309,835.6 L1310,838.5 L1311,841.1 L1312,844.7 L1313,847 L1314,848.9 L1315,850.6 L1316,852.9 L1317,857.2 L1318,858.8 L1319,861.8 L1320,863.1 L1321,863.7 L1322,866.2 L1323,868 L1324,867.9 L1325,869.1 L1326,871.2 L1327,869.7 L1328,870.4 L1329,871.8 L1330,871.2 L1331,870.1 L1332,869.4 L1333,869.8 L1334,869.2 L1335,867.7 L1336,866 L1337,865 L1338,862.4 L1339,859.7 L1340,859.2 L1341,854.8 L1342,852.9 L1343,850.2 L1344,848.2 L1345,843.9 L1346,841.1 L1347,837 L1348,835 L1349,831.7 L1350,828.4 L1351,824.1 L1352,821.4 L1353,817.3 L1354,814.1 L1355,811 L1356,808.5 L1357,804.2 L1358,801.4 L1359,797.7 L1360,795 L1361,792.1 L1362,789.7 L1363,787.7 L1364,784.3 L1365,783.2 L1366,780.2 L1367,779.2 L1368,777.1 L1369,775.8 L1370,774.6 L1371,774.6 L1372,773.4 L1373,773.5 L1374,772.4 L1375,772.5 L1376,773.8 L1377,772.4 L1378,773.5 L1379,774.9 L1380,777.2 L1381,777.2 L1382,779.6 L1383,781.8 L1384,782.7 L1385,784.9 L1386,788.3 L1387,789.4 L1388,791.8 L1389,795.7 L1390,797.8 L1391,801.9 L1392,804.5 L1393,806.3 L1394,810.8 L1395,814 L1396,816.9 L1397,821.4 L1398,823 L1399,826.7 L1400,830.5 L1401,834.6 L1402,836.5 L1403,840.2 L1404,843.3 L1405,845.8 L1406,849.4 L1407,851.7 L1408,854.7 L1409,857.6 L1410,859.2 L1411,861.4 L1412,863.3 L1413,865.2 L1414,866.3 L1415,867.9 L1416,869.8 L1417,870.2 L1418,873.4 L1419,871.4 L1420,872.4 L1421,871.3 L1422,871.8 L1423,871.2 L1424,870.8 L1425,870.8 L1426,868.9 L1427,866.9 L1428,866.3 L1429,863.9 L1430,862.6 L1431,861.6 L1432,859 L1433,856.7 L1434,853.8 L1435,850.9 L1436,847.2 L1437,844.9 L1438,841.9 L1439,839.6 L1440,836.7 L1441,833.2 L1442,829.2 L1443,827.6 L1444,824.1 L1445,819.9 L1446,816.9 L1447,814.1 L1448,810.6 L1449,807.5 L1450,804.9 L1451,801.8 L1452,799.2 L1453,795.5 L1454,793 L1455,792.7 L1456,788.6 L1457,787.9 L1458,786 L1459,784.3 L1460,782.4 L1461,782.2 L1462,780.8 L1463,779.6 L1464,778.4 L1465,778.8 L1466,778.4 L1467,778.1 L1468,779.4 L1469,780 L1470,780.8 L1471,781.2 L1472,782 L1473,784.1 L1474,785.2 L1475,787.7 L1476,788.3 L1477,789.3 L1478,792.4 L1479,795.4 L1480,796.4 L1481,798.5 L1482,800.7 L1483,804.8 L1484,806.2 L1485,808.9 L1486,812 L1487,813.8 L1488,817.4 L1489,819.7 L1490,823.3 L1491,826.6 L1492,829.8 L1493,831.9 L1494,835.5 L1495,837.6 L1496,839.6 L1497,843.6 L1498,845.8 L1499,848.5 L1500,849.2 L1501,853.2 L1502,855.4 L1503,857.5 L1504,859.9 L1505,860.8 L1506,863.9 L1507,864.5 L1508,865.6 L1509,864.9 L1510,866.1 L1511,869 L1512,868.8 L1513,869.5 L1514,868.9 L1515,869 L1516,869.3 L1517,868 L1518,868.7 L1519,866.5 L1520,866.3 L1521,864.9 L1522,864 L1523,863 L1524,860 L1525,859.1 L1526,857 L1527,855.4 L1528,852.6 L1529,850 L1530,848.2 L1531,846.1 L1532,843.2 L1533,840.1 L1534,837.5 L1535,833.4 L1536,831.2 L1537,828.4 L1538,825.3 L1539,822.3 L1540,819.8 L1541,817.1 L1542,815.2 L1543,810.7 L1544,807.8 L1545,806.2 L1546,803.1 L1547,799.9 L1548,798.9 L1549,795.5 L1550,793.2 L1551,791 L1552,788.8 L1553,787.6 L1554,785.3 L1555,785.9 L1556,783.3 L1557,781.8 L1558,780.5 L1559,780.3 L1560,780.2 L1561,779.3 L1562,778.2 L1563,778.7 L1564,778 L1565,780.3 L1566,780.4 L1567,780.9 L1568,781.9 L1569,782.6 L1570,784.2 L1571,786.4 L1572,787.6 L1573,789.8 L1574,791.7 L1575,793.9 L1576,796.3 L1577,799.2 L1578,801 L1579,804.3 L1580,806.2 L1581,809.2 L1582,812.1 L1583,816 L1584,818.3 L1585,822.3 L1586,824 L1587,827.9 L1588,830.1 L1589,834.4 L1590,836.3 L1591,839.9 L1592,842.1 L1593,844.8 L1594,848.1 L1595,849.4 L1596,852.2 L1597,856.1 L1598,856.8 L1599,859.8 L1600,860.6 L1601,861.8 L1602,864 L1603,866.1 L1604,866.7 L1605,867.4 L1606,868.8 L1607,868.3 L1608,869.5 L1609,869.4 L1610,868.4 L1611,869.3 L1612,868.9 L1613,867.3 L1614,866.6 L1615,865.3 L1616,863.4 L1617,863.1 L1618,860.4 L1619,859.5 L1620,856.9 L1621,854.4 L1622,853.1 L1623,850.5 L1624,849 L1625,845.2 L1626,842.6 L1627,839.8 L1628,836.7 L1629,834.7 L1630,831.9 L1631,828.4 L1632,824.4 L1633,822.3 L1634,819.1 L1635,815.8 L1636,812.2 L1637,810.8 L1638,808.2 L1639,805 L1640,802.4 L1641,800.7 L1642,798.4 L1643,795.1 L1644,791.1 L1645,791.3 L1646,789.1 L1647,787.8 L1648,785.6 L1649,784 L1650,783.8 L1651,782.4 L1652,781.9 L1653,781.6 L1654,781 L1655,780 L1656,781.3 L1657,780.9 L1658,781.6 L1659,782.6 L1660,782.4 L1661,784.2 L1662,784.5 L1663,786.7 L1664,788.8 L1665,790.3 L1666,792.2 L1667,794.8 L1668,796.4 L1669,798 L1670,802.1 L1671,804.1 L1672,807.1 L1673,809.2 L1674,811.9 L1675,814.6 L1676,816.8 L1677,820.6 L1678,823.4 L1679,827.6 L1680,828.4 L1681,832.5 L1682,835.2 L1683,838 L1684,840.6 L1685,843.5 L1686,846.3 L1687,847.2 L1688,851 L1689,852.5 L1690,854 L1691,855.3 L1692,857 L1693,859.6 L1694,860.3 L1695,861.4 L1696,862.8 L1697,863.9 L1698,864.1 L1699,864.1 L1700,864.6 L1701,864.8 L1702,864 L1703,864.8 L1704,864.4 L1705,863.7 L1706,861.8 L1707,860.7 L1708,859 L1709,859 L1710,856.3 L1711,856.1 L1712,851.7 L1713,851 L1714,849.1 L1715,846.6 L1716,844.6 L1717,843 L1718,839.3 L1719,837.3 L1720,833.9 L1721,830.8 L1722,828.2 L1723,826.7 L1724,823.7 L1725,820 L1726,818.4 L1727,816 L1728,813.4 L1729,811.3 L1730,807.4 L1731,805.4 L1732,803.1 L1733,801.7 L1734,800.4 L1735,797.5 L1736,796.3 L1737,795 L1738,792.8 L1739,792.3 L1740,790.7 L1741,790.9 L1742,790 L1743,788.3 L1744,787.9 L1745,789.1 L1746,787.5 L1747,788.9 L1748,788.3 L1749,788.3 L1750,790.6 L1751,790.7 L1752,790.7 L1753,792.3 L1754,793.2 L1755,794.4 L1756,796.4 L1757,798.7 L1758,798.9 L1759,801.9 L1760,802.6 L1761,805.5 L1762,806.7 L1763,809 L1764,811.6 L1765,814.9 L1766,817.1 L1767,818.9 L1768,821.1 L1769,823.8 L1770,827.8 L1771,828.7 L1772,830.8 L1773,832.9 L1774,835.3 L1775,838.1 L1776,840.2 L1777,840.6 L1778,845.3 L1779,846.2 L1780,847.7 L1781,851.1 L1782,850.2 L1783,851.9 L1784,854.7 L1785,855.3 L1786,856.9 L1787,858.1 L1788,859.2 L1789,859.2 L1790,858.9 L1791,858.7 L1792,859.9 L1793,858.8 L1794,859.8 L1795,859 L1796,859.3 L1797,858.8 L1798,857.7 L1799,855.9 L1800,855.8 L1801,854.1 L1802,853.4 L1803,851.5 L1804,851.6 L1805,848.2 L1806,845.5 L1807,844.2 L1808,842.8 L1809,842.4 L1810,839.4 L1811,836 L1812,834.1 L1813,831 L1814,828.5 L1815,827.6 L1816,824.9 L1817,821.8 L1818,819.5 L1819,817.8 L1820,815.7 L1821,812.5 L1822,809.7 L1823,809.1 L1824,806.1 L1825,803.4 L1826,802.5 L1827,800.9 L1828,799.6 L1829,797.2 L1830,796.1 L1831,793.8 L1832,793.7 L1833,791.4 L1834,791.7 L1835,790.7 L1836,789 L1837,789.1 L1838,790.2 L1839,788.4 L1840,788" fill="none" stroke="#c24a44" stroke-width="7" stroke-linejoin="round"/></g><rect x="1096" y="722.5" width="744" height="201.0" fill="none" stroke="#5a5a5a" stroke-width="3"/><path d="M1096,746.5h14M1840,746.5h-14" stroke="#5a5a5a" stroke-width="3"/><path d="M1096,822.5h14M1840,822.5h-14" stroke="#5a5a5a" stroke-width="3"/><path d="M1096,898.5h14M1840,898.5h-14" stroke="#5a5a5a" stroke-width="3"/><path d="M1468,923.5v-14M1468,722.5v14" stroke="#5a5a5a" stroke-width="3"/><g clip-path="url(#cl23)"><path d="M1097,1010.2 L1098,1004.5 L1099,1001.8 L1100,1002.5 L1101,1009.3 L1102,1013.4 L1103,1008.9 L1104,1006.3 L1105,1006.3 L1106,1023.3 L1107,1020.7 L1108,1019.3 L1109,1026.1 L1110,1034.8 L1111,1012.4 L1112,1011.1 L1113,1016.6 L1114,1025.8 L1115,1013.4 L1116,1022.7 L1117,1026.4 L1118,1022 L1119,1037.2 L1120,1015 L1121,1021.6 L1122,1020.8 L1123,1017.3 L1124,1024 L1125,1007 L1126,1022.6 L1127,1019.9 L1128,1012.2 L1129,1023.2 L1130,1018.9 L1131,1024.8 L1132,1029.8 L1133,1019.7 L1134,1033.9 L1135,1016.4 L1136,1010.4 L1137,1016.8 L1138,1015.9 L1139,1001.5 L1140,1013 L1141,1016.9 L1142,1037.2 L1143,1019.3 L1144,1018.2 L1145,1004 L1146,1024.2 L1147,1010.2 L1148,1030.6 L1149,1036.9 L1150,1035.8 L1151,1038.6 L1152,1030.8 L1153,1032.4 L1154,1029.2 L1155,1010.8 L1156,1020.9 L1157,998.8 L1158,1017.3 L1159,1012.6 L1160,1016.8 L1161,986.1 L1162,998.3 L1163,1017 L1164,1009 L1165,984.5 L1166,1006.3 L1167,1003.4 L1168,1016.1 L1169,1026 L1170,1022.5 L1171,1023.3 L1172,1009.6 L1173,1010.7 L1174,1019.1 L1175,1029.4 L1176,1006.3 L1177,1010.4 L1178,1020.3 L1179,1016.8 L1180,1028.4 L1181,1019.7 L1182,1030.7 L1183,1036.5 L1184,1024.3 L1185,1032.6 L1186,1025.4 L1187,1015.9 L1188,1008.5 L1189,1017 L1190,1020.8 L1191,1017.8 L1192,1007.1 L1193,1028.7 L1194,1029.6 L1195,1032.1 L1196,1036.7 L1197,1029 L1198,1036.5 L1199,1032.2 L1200,1031.7 L1201,1023 L1202,1007.5 L1203,1017.1 L1204,1036.4 L1205,1030.9 L1206,1020.2 L1207,1013.6 L1208,1013.8 L1209,1036 L1210,1034.2 L1211,1017.2 L1212,1011.1 L1213,1030.5 L1214,1033.5 L1215,1018.3 L1216,1028.7 L1217,1030.7 L1218,1041.2 L1219,1032.8 L1220,1014.6 L1221,1013.5 L1222,1021.9 L1223,1018.7 L1224,1027.8 L1225,1029.3 L1226,1015.2 L1227,1006.8 L1228,1003.1 L1229,1032.3 L1230,1028.6 L1231,1043.3 L1232,1035.4 L1233,1025.2 L1234,1041.1 L1235,1011.7 L1236,1031.8 L1237,1028.1 L1238,1015.1 L1239,998.8 L1240,1033.5 L1241,1022 L1242,1023.6 L1243,1035.1 L1244,1023.6 L1245,1027.8 L1246,1026.7 L1247,1019 L1248,1005.8 L1249,1014.7 L1250,1018.5 L1251,1017.3 L1252,1024.9 L1253,1005 L1254,1024.6 L1255,1016.4 L1256,1025.9 L1257,1008.1 L1258,1004.5 L1259,999.7 L1260,1004.5 L1261,1012.8 L1262,1020.1 L1263,1012.1 L1264,1014.4 L1265,1020.1 L1266,1020.3 L1267,998.7 L1268,1027.5 L1269,1030.5 L1270,1018.7 L1271,1020.1 L1272,1025.1 L1273,1021.7 L1274,1018.4 L1275,1025.9 L1276,1024.8 L1277,1029.3 L1278,1023.2 L1279,1013.7 L1280,1018.1 L1281,1022.4 L1282,1032.8 L1283,1023.3 L1284,1015.8 L1285,1013.2 L1286,1028.1 L1287,1035.2 L1288,1013.6 L1289,1014.1 L1290,1017.4 L1291,1014.5 L1292,1013.6 L1293,996.9 L1294,1021.4 L1295,995 L1296,994.7 L1297,1012.4 L1298,1032.3 L1299,1029.2 L1300,1024.3 L1301,1021.9 L1302,1029.3 L1303,1029.7 L1304,1031.5 L1305,1036.3 L1306,1028.9 L1307,1024.1 L1308,1010.6 L1309,1020.3 L1310,1026.7 L1311,1009.1 L1312,1007.9 L1313,1005.8 L1314,1023.2 L1315,988.5 L1316,1001.7 L1317,1007.2 L1318,1015.4 L1319,1020.1 L1320,1042 L1321,1028.6 L1322,1028.9 L1323,1027.4 L1324,1026.1 L1325,1029.8 L1326,1032.3 L1327,1033.3 L1328,1035.3 L1329,1023.7 L1330,1026.2 L1331,1022 L1332,1012.4 L1333,1026.7 L1334,1005.7 L1335,1020.3 L1336,1026.8 L1337,1019.8 L1338,1023.5 L1339,1014 L1340,1023.7 L1341,1002.8 L1342,1004.2 L1343,998.1 L1344,992.4 L1345,1006.7 L1346,997.2 L1347,996.5 L1348,1013.5 L1349,1021.2 L1350,1022.5 L1351,1014 L1352,1012.4 L1353,1012.7 L1354,1018.5 L1355,1009.4 L1356,1006.6 L1357,986.5 L1358,1008.8 L1359,1029.7 L1360,1009.5 L1361,1023 L1362,1021 L1363,1007 L1364,995.5 L1365,1012.1 L1366,1003.9 L1367,1001.4 L1368,998.7 L1369,1011.2 L1370,1001.7 L1371,1015.1 L1372,1021.1 L1373,1000.6 L1374,1001.8 L1375,1022.3 L1376,1030.3 L1377,1034.5 L1378,1035.2 L1379,1019.5 L1380,1008.2 L1381,1028.1 L1382,1025.2 L1383,1026.9 L1384,1006 L1385,1015.5 L1386,1025.8 L1387,1017.5 L1388,1020.8 L1389,1021.6 L1390,1016.8 L1391,1019.2 L1392,1013.7 L1393,1029.4 L1394,1025 L1395,1016.4 L1396,1012.7 L1397,1013.5 L1398,1018.6 L1399,1015.6 L1400,1008.3 L1401,1013.9 L1402,1027.4 L1403,1036.8 L1404,1023.7 L1405,1007.3 L1406,1019.4 L1407,1024 L1408,1020.7 L1409,1031.8 L1410,1007.8 L1411,1021.8 L1412,1020.3 L1413,1032.9 L1414,1023.9 L1415,1020.4 L1416,1037.8 L1417,1034.7 L1418,1025.5 L1419,1034.2 L1420,1005.5 L1421,1020.4 L1422,981.4 L1423,988.4 L1424,1000.7 L1425,1004.8 L1426,1012.1 L1427,1001.2 L1428,1008.3 L1429,991.8 L1430,1022.3 L1431,1022.6 L1432,1006.9 L1433,1002.1 L1434,1012.6 L1435,989.2 L1436,998.7 L1437,973.9 L1438,1008.6 L1439,1010.6 L1440,1009.2 L1441,1009.6 L1442,1025.3 L1443,1033.3 L1444,1030.4 L1445,1036.9 L1446,1021.1 L1447,1021.1 L1448,1026 L1449,1028.9 L1450,1025.2 L1451,1021.4 L1452,1029.4 L1453,1026 L1454,1031.5 L1455,1008.8 L1456,1021.4 L1457,1034.1 L1458,1029.3 L1459,1032 L1460,1031.9 L1461,1022 L1462,1028.5 L1463,1026.2 L1464,1010.6 L1465,1032.9 L1466,1033 L1467,1042.7 L1468,1017.6 L1469,1034.5 L1470,1021 L1471,1033.7 L1472,1032.4 L1473,1030.9 L1474,1040 L1475,1025.2 L1476,1026.5 L1477,1028.9 L1478,1034.5 L1479,1035.8 L1480,1020.9 L1481,1023.8 L1482,996.2 L1483,997.3 L1484,1007.6 L1485,1002.5 L1486,1021.2 L1487,1030.9 L1488,1034.5 L1489,1039.7 L1490,1024.6 L1491,1036.8 L1492,1024.7 L1493,1031.4 L1494,1033.4 L1495,1030.6 L1496,1034.2 L1497,1014.4 L1498,1009.4 L1499,1039 L1500,1018.2 L1501,1015.9 L1502,1011.3 L1503,1001.8 L1504,1025 L1505,1025.3 L1506,1025 L1507,1029.3 L1508,1032.1 L1509,994.1 L1510,1021.5 L1511,1026.2 L1512,1013.5 L1513,988.1 L1514,1011.8 L1515,994 L1516,993.5 L1517,1023.8 L1518,1029.8 L1519,980.8 L1520,999.6 L1521,1002.1 L1522,999.8 L1523,1008.4 L1524,1015.4 L1525,1009.6 L1526,1005.6 L1527,983.4 L1528,963.4 L1529,964.9 L1530,983.9 L1531,946.1 L1532,966.7 L1533,977.9 L1534,989.7 L1535,967.1 L1536,976.3 L1537,977.3 L1538,1027.4 L1539,1018.9 L1540,1012.2 L1541,1024.5 L1542,1020.3 L1543,1013.6 L1544,1014.5 L1545,1030.5 L1546,1034.6 L1547,1019.2 L1548,1022.6 L1549,1035.7 L1550,1026 L1551,1031.9 L1552,1026.6 L1553,1020.6 L1554,1033.6 L1555,1016.9 L1556,1014 L1557,1015.3 L1558,1027.6 L1559,1020.6 L1560,1011.5 L1561,1015.5 L1562,1026 L1563,1013.7 L1564,1020.5 L1565,1015 L1566,1017.4 L1567,1021.1 L1568,1027.4 L1569,1030.6 L1570,1020 L1571,1033.7 L1572,1037.8 L1573,1029 L1574,1022.3 L1575,1036 L1576,1017.1 L1577,1032.9 L1578,1028 L1579,1007.8 L1580,1014.7 L1581,1016.6 L1582,1007.2 L1583,1024.4 L1584,1029.1 L1585,1032.6 L1586,1034.9 L1587,1035.4 L1588,1025.1 L1589,1030.7 L1590,1012.7 L1591,1019.3 L1592,1017.6 L1593,1032.8 L1594,1028.9 L1595,1025.2 L1596,1023.3 L1597,1009.7 L1598,1036.3 L1599,1032.3 L1600,1028.2 L1601,1020.2 L1602,1019.9 L1603,1027 L1604,1032.5 L1605,1027.1 L1606,1027.2 L1607,1014.3 L1608,1027 L1609,1005.9 L1610,997.9 L1611,1017 L1612,1026.6 L1613,1030 L1614,1020.7 L1615,1024.5 L1616,1015.4 L1617,1036.2 L1618,1042.2 L1619,1026.6 L1620,1035.3 L1621,1035 L1622,1028.6 L1623,1022.1 L1624,1019 L1625,999.8 L1626,1026.5 L1627,1036.2 L1628,1032.7 L1629,1020.6 L1630,1021.8 L1631,1014.7 L1632,1018.8 L1633,1027.7 L1634,1030.9 L1635,1014.6 L1636,991.2 L1637,1010.3 L1638,1013.2 L1639,1024.9 L1640,1011.9 L1641,1019.6 L1642,1031 L1643,1035.7 L1644,1037.5 L1645,1019.2 L1646,1008.9 L1647,1003.4 L1648,1031.5 L1649,1027.8 L1650,1022.2 L1651,1014.9 L1652,1030.7 L1653,1028 L1654,1035 L1655,1031.1 L1656,1024.3 L1657,1036.2 L1658,1034.6 L1659,1017.7 L1660,1038.8 L1661,1023.6 L1662,1021.6 L1663,1017.3 L1664,1026.3 L1665,1030.7 L1666,1039.6 L1667,1033.8 L1668,1036 L1669,1025 L1670,1029.9 L1671,1029.3 L1672,1017.7 L1673,1013 L1674,1033.6 L1675,1013.1 L1676,1030.9 L1677,1030.5 L1678,1029.5 L1679,1019.3 L1680,1016.4 L1681,1028.9 L1682,1024.7 L1683,1031.5 L1684,1024.1 L1685,1040.1 L1686,1037.5 L1687,1035.1 L1688,1018.4 L1689,1009.6 L1690,992.1 L1691,983.2 L1692,1008.8 L1693,999.2 L1694,1000.4 L1695,995.1 L1696,1014.5 L1697,1003.6 L1698,1011.2 L1699,1024.7 L1700,1030.3 L1701,1023.3 L1702,1025.6 L1703,996.9 L1704,994.1 L1705,1008.6 L1706,1009.5 L1707,1029.7 L1708,1016.2 L1709,1011.4 L1710,1039.7 L1711,1024.3 L1712,1026.3 L1713,1030.9 L1714,1001.2 L1715,1016.4 L1716,1031.5 L1717,1038.2 L1718,1036 L1719,1032.8 L1720,1032.9 L1721,1008.8 L1722,1010.3 L1723,1015.3 L1724,1020.6 L1725,1016.7 L1726,1023.2 L1727,1021.3 L1728,1031.3 L1729,1036.9 L1730,1027 L1731,1018.1 L1732,1025.2 L1733,1030.1 L1734,1021.6 L1735,1033 L1736,1026.7 L1737,1033.5 L1738,1033.9 L1739,1032.4 L1740,1026.2 L1741,1036.5 L1742,1031.2 L1743,1037.4 L1744,1025 L1745,1010.5 L1746,1011.6 L1747,1036 L1748,1035.1 L1749,1029.3 L1750,1021.2 L1751,1022.9 L1752,1022.6 L1753,1034.9 L1754,1026.6 L1755,1008.5 L1756,1005 L1757,1011.1 L1758,1034.5 L1759,1028 L1760,1005.7 L1761,1015.2 L1762,1003.8 L1763,1019.5 L1764,1023.5 L1765,1003.7 L1766,1006.1 L1767,1011.2 L1768,1027.3 L1769,1019.2 L1770,1018 L1771,1017.5 L1772,1009.1 L1773,1020.4 L1774,1007.5 L1775,1013.1 L1776,1029.8 L1777,1014.7 L1778,1010.8 L1779,1019.7 L1780,1005.1 L1781,991.6 L1782,999 L1783,1000.3 L1784,1009.8 L1785,1007.5 L1786,999 L1787,1002 L1788,978.6 L1789,990.7 L1790,962.8 L1791,994.1 L1792,984.6 L1793,1012.5 L1794,1027.7 L1795,1035.6 L1796,1024.1 L1797,1020.7 L1798,1017.2 L1799,1035.4 L1800,1023.4 L1801,1016.7 L1802,1011.2 L1803,1031.8 L1804,1038.3 L1805,1032.1 L1806,1023.3 L1807,1022.2 L1808,1032 L1809,1018.3 L1810,1003.4 L1811,1020.6 L1812,1029.7 L1813,1022.6 L1814,1022.4 L1815,1029.9 L1816,1031.6 L1817,1028.6 L1818,1033.9 L1819,1029.1 L1820,1024.4 L1821,1013.1 L1822,1017.7 L1823,1030.8 L1824,1029.5 L1825,1024.4 L1826,1022.1 L1827,1018.9 L1828,1021.7 L1829,1027.6 L1830,1018.4 L1831,1025.9 L1832,1025.2 L1833,1026.3 L1834,1022.3 L1835,1028.2 L1836,1030.8 L1837,1031.5 L1838,1030.9 L1839,1034 L1839,1098.1 L1838,1104 L1837,1108.6 L1836,1110.7 L1835,1108.5 L1834,1113.4 L1833,1110.7 L1832,1113.6 L1831,1112.2 L1830,1109 L1829,1109.1 L1828,1122.1 L1827,1107.1 L1826,1117.2 L1825,1098.5 L1824,1111.7 L1823,1102.6 L1822,1113 L1821,1121.9 L1820,1107.2 L1819,1099.2 L1818,1103.3 L1817,1103.7 L1816,1095.1 L1815,1112.5 L1814,1114.1 L1813,1112.3 L1812,1105.6 L1811,1117.6 L1810,1122.8 L1809,1113.6 L1808,1109.1 L1807,1113.5 L1806,1111.8 L1805,1098.3 L1804,1094.5 L1803,1102.1 L1802,1112.2 L1801,1113.6 L1800,1105.3 L1799,1101.3 L1798,1113.6 L1797,1121.2 L1796,1110.8 L1795,1099.6 L1794,1103.6 L1793,1115.2 L1792,1153.4 L1791,1138.1 L1790,1160.6 L1789,1152 L1788,1146 L1787,1131.5 L1786,1133.1 L1785,1128.7 L1784,1127.7 L1783,1134.1 L1782,1139.2 L1781,1138.7 L1780,1143.8 L1779,1119.9 L1778,1116.4 L1777,1113.3 L1776,1099.9 L1775,1117.4 L1774,1127.7 L1773,1109.5 L1772,1111.7 L1771,1122.5 L1770,1117.9 L1769,1105.2 L1768,1102.8 L1767,1122.7 L1766,1128.8 L1765,1123.5 L1764,1113.6 L1763,1112 L1762,1123.8 L1761,1118.7 L1760,1122.8 L1759,1103.7 L1758,1104.5 L1757,1113.8 L1756,1126.1 L1755,1121.1 L1754,1096.6 L1753,1102.3 L1752,1107.4 L1751,1120.8 L1750,1105.8 L1749,1106.4 L1748,1096.2 L1747,1103.3 L1746,1119.8 L1745,1122 L1744,1108.6 L1743,1100.2 L1742,1101.5 L1741,1100.4 L1740,1102.4 L1739,1097.1 L1738,1097.9 L1737,1095.2 L1736,1112.6 L1735,1100.1 L1734,1116.5 L1733,1110 L1732,1107.8 L1731,1122.2 L1730,1106.6 L1729,1099.4 L1728,1100.4 L1727,1107.4 L1726,1107 L1725,1115.6 L1724,1117.7 L1723,1112.7 L1722,1115.7 L1721,1127.6 L1720,1106.4 L1719,1101 L1718,1094.7 L1717,1092.9 L1716,1102.7 L1715,1120.2 L1714,1129.7 L1713,1100.6 L1712,1115.4 L1711,1114.3 L1710,1093.8 L1709,1119.3 L1708,1109.7 L1707,1099.9 L1706,1124.2 L1705,1122.6 L1704,1135.3 L1703,1129.4 L1702,1115.4 L1701,1107 L1700,1102.8 L1699,1116.8 L1698,1126.2 L1697,1122.3 L1696,1123.7 L1695,1123.4 L1694,1125.3 L1693,1121.1 L1692,1140.9 L1691,1147.4 L1690,1136 L1689,1124.6 L1688,1120.7 L1687,1099.5 L1686,1102.6 L1685,1088.5 L1684,1104.5 L1683,1104.6 L1682,1109 L1681,1110.1 L1680,1109.7 L1679,1106.9 L1678,1106.3 L1677,1102 L1676,1106 L1675,1114.1 L1674,1106.9 L1673,1112.4 L1672,1106.7 L1671,1107.1 L1670,1108 L1669,1106.6 L1668,1096.9 L1667,1103.6 L1666,1091.8 L1665,1095 L1664,1107.1 L1663,1118.8 L1662,1110 L1661,1114.5 L1660,1100.8 L1659,1115.7 L1658,1097.1 L1657,1093.6 L1656,1117.6 L1655,1104.9 L1654,1106 L1653,1112.5 L1652,1109.9 L1651,1125.1 L1650,1116.5 L1649,1110.9 L1648,1103 L1647,1121.9 L1646,1123.1 L1645,1109 L1644,1098.1 L1643,1100.8 L1642,1106.4 L1641,1122.7 L1640,1120 L1639,1106.8 L1638,1108.6 L1637,1118 L1636,1126.9 L1635,1128.8 L1634,1109.7 L1633,1105.6 L1632,1117 L1631,1114.9 L1630,1113.6 L1629,1111.6 L1628,1098.5 L1627,1093.9 L1626,1109.2 L1625,1135.2 L1624,1119.2 L1623,1124.9 L1622,1099.3 L1621,1099.4 L1620,1100.6 L1619,1111.1 L1618,1093.8 L1617,1098.3 L1616,1116.6 L1615,1111.6 L1614,1118.4 L1613,1106.1 L1612,1107.9 L1611,1115.5 L1610,1126.4 L1609,1120.6 L1608,1106.9 L1607,1119.3 L1606,1098.6 L1605,1105.7 L1604,1099.7 L1603,1117.9 L1602,1108.1 L1601,1109.5 L1600,1100.6 L1599,1094.7 L1598,1100.3 L1597,1118.3 L1596,1102.8 L1595,1106.9 L1594,1098.2 L1593,1102.7 L1592,1110.5 L1591,1119.6 L1590,1118.5 L1589,1095.8 L1588,1099.8 L1587,1102.9 L1586,1102.1 L1585,1093.3 L1584,1103.5 L1583,1109.7 L1582,1119 L1581,1116.1 L1580,1116.5 L1579,1126.1 L1578,1108.7 L1577,1099.3 L1576,1123.6 L1575,1103.4 L1574,1107.4 L1573,1098.7 L1572,1089.6 L1571,1099.9 L1570,1109.6 L1569,1106.8 L1568,1105.3 L1567,1113.7 L1566,1108 L1565,1112.6 L1564,1125.7 L1563,1111 L1562,1112.3 L1561,1111 L1560,1124.5 L1559,1113 L1558,1107.7 L1557,1121.2 L1556,1120.7 L1555,1112.9 L1554,1095.7 L1553,1118.2 L1552,1113 L1551,1101.9 L1550,1114.6 L1549,1103.2 L1548,1115.1 L1547,1116.3 L1546,1099.8 L1545,1109.5 L1544,1118.1 L1543,1114.3 L1542,1114.2 L1541,1106.3 L1540,1112.4 L1539,1115.1 L1538,1115.5 L1537,1163.9 L1536,1136.5 L1535,1158 L1534,1144.8 L1533,1166 L1532,1160 L1531,1162.9 L1530,1145.2 L1529,1147.2 L1528,1155 L1527,1163.8 L1526,1122.2 L1525,1118.5 L1524,1121.6 L1523,1137.8 L1522,1126.1 L1521,1137.1 L1520,1129.2 L1519,1156.8 L1518,1103.3 L1517,1103.1 L1516,1124.4 L1515,1130.9 L1514,1130.6 L1513,1128.1 L1512,1131.1 L1511,1103.6 L1510,1118.3 L1509,1128.3 L1508,1102.7 L1507,1102 L1506,1105.2 L1505,1108.1 L1504,1104.8 L1503,1131.5 L1502,1113.9 L1501,1107.2 L1500,1114.9 L1499,1091.9 L1498,1121.9 L1497,1125 L1496,1101.3 L1495,1099.4 L1494,1101.6 L1493,1110.1 L1492,1115 L1491,1103.8 L1490,1112 L1489,1093.6 L1488,1104.8 L1487,1105.8 L1486,1108.7 L1485,1130.9 L1484,1130.7 L1483,1140.4 L1482,1127.4 L1481,1116.8 L1480,1108 L1479,1094.1 L1478,1094.7 L1477,1099.7 L1476,1103.4 L1475,1112.7 L1474,1100.4 L1473,1096.9 L1472,1103 L1471,1101.1 L1470,1111.8 L1469,1100.5 L1468,1115.8 L1467,1095.6 L1466,1102.3 L1465,1107.2 L1464,1118.9 L1463,1106.8 L1462,1102.3 L1461,1103.8 L1460,1101.6 L1459,1102.8 L1458,1100.7 L1457,1102.9 L1456,1105.8 L1455,1129 L1454,1102.3 L1453,1117.7 L1452,1108 L1451,1109.8 L1450,1117 L1449,1098.3 L1448,1108 L1447,1114.2 L1446,1110 L1445,1093.7 L1444,1100.1 L1443,1107 L1442,1102.5 L1441,1124 L1440,1119.1 L1439,1126.7 L1438,1128 L1437,1143 L1436,1142.5 L1435,1143.1 L1434,1123.1 L1433,1121.7 L1432,1119.5 L1431,1114.1 L1430,1113.4 L1429,1131.8 L1428,1114.7 L1427,1125.8 L1426,1127.4 L1425,1126.6 L1424,1132.3 L1423,1139 L1422,1140.9 L1421,1123.6 L1420,1124.2 L1419,1097.1 L1418,1101.5 L1417,1095.8 L1416,1098.2 L1415,1108.5 L1414,1115.4 L1413,1103.1 L1412,1107.2 L1411,1113.9 L1410,1128.8 L1409,1100.1 L1408,1111.6 L1407,1109.1 L1406,1120.9 L1405,1133.5 L1404,1109.8 L1403,1102 L1402,1114 L1401,1120.8 L1400,1130 L1399,1113 L1398,1114.7 L1397,1116 L1396,1121.7 L1395,1131.3 L1394,1104.5 L1393,1103.1 L1392,1124.1 L1391,1115.9 L1390,1112.2 L1389,1111 L1388,1112.2 L1387,1115.9 L1386,1106.7 L1385,1123.8 L1384,1129.2 L1383,1113.9 L1382,1109.7 L1381,1103.2 L1380,1120.2 L1379,1115 L1378,1092.7 L1377,1103.6 L1376,1106.2 L1375,1115.2 L1374,1138.5 L1373,1136.8 L1372,1116.2 L1371,1121.7 L1370,1117.8 L1369,1128.9 L1368,1150.9 L1367,1128.6 L1366,1128.9 L1365,1121.7 L1364,1141.4 L1363,1117.6 L1362,1115.7 L1361,1111.3 L1360,1120.3 L1359,1105.3 L1358,1122.4 L1357,1146.4 L1356,1115.2 L1355,1133.2 L1354,1116.7 L1353,1121.5 L1352,1128.1 L1351,1120.7 L1350,1104.7 L1349,1120 L1348,1123 L1347,1134.8 L1346,1127.1 L1345,1123.9 L1344,1137.8 L1343,1132.6 L1342,1135.3 L1341,1125.7 L1340,1109.9 L1339,1115.9 L1338,1116.2 L1337,1115.3 L1336,1108.3 L1335,1111.5 L1334,1125.2 L1333,1103.8 L1332,1109.9 L1331,1112.5 L1330,1101.9 L1329,1107.9 L1328,1098.7 L1327,1099.4 L1326,1099 L1325,1097.8 L1324,1112 L1323,1115.8 L1322,1110.4 L1321,1096.2 L1320,1091 L1319,1117 L1318,1110.1 L1317,1127 L1316,1149.3 L1315,1132.8 L1314,1118.3 L1313,1123 L1312,1111.2 L1311,1121 L1310,1102.2 L1309,1109.9 L1308,1132.5 L1307,1109.5 L1306,1099.1 L1305,1097.5 L1304,1104.5 L1303,1109 L1302,1110.3 L1301,1111.7 L1300,1110.6 L1299,1106.4 L1298,1107.7 L1297,1126.6 L1296,1124.6 L1295,1140.3 L1294,1118.6 L1293,1131.3 L1292,1132.7 L1291,1129.9 L1290,1115.3 L1289,1123.7 L1288,1112.1 L1287,1094.8 L1286,1114.4 L1285,1114.1 L1284,1125.2 L1283,1111.7 L1282,1109.7 L1281,1115.6 L1280,1118.5 L1279,1121.8 L1278,1115.7 L1277,1113.3 L1276,1105 L1275,1100.3 L1274,1106.8 L1273,1118.4 L1272,1110.2 L1271,1115.1 L1270,1120.6 L1269,1105.8 L1268,1106.8 L1267,1118.9 L1266,1110.6 L1265,1107.6 L1264,1121.4 L1263,1121.5 L1262,1110.3 L1261,1111.7 L1260,1126.5 L1259,1141.2 L1258,1130.3 L1257,1127.5 L1256,1112.8 L1255,1114.3 L1254,1104.5 L1253,1130.1 L1252,1107.8 L1251,1109.9 L1250,1113.4 L1249,1119.4 L1248,1115.5 L1247,1119 L1246,1105.5 L1245,1108.1 L1244,1114.3 L1243,1094.6 L1242,1100.9 L1241,1105.1 L1240,1102 L1239,1132.2 L1238,1120.8 L1237,1113.3 L1236,1105 L1235,1117.4 L1234,1092.4 L1233,1107.1 L1232,1106.2 L1231,1092 L1230,1097.6 L1229,1099.8 L1228,1123.7 L1227,1135.7 L1226,1120 L1225,1109.3 L1224,1105.9 L1223,1114.2 L1222,1107.7 L1221,1113 L1220,1110.6 L1219,1097.8 L1218,1093.9 L1217,1111.4 L1216,1107.9 L1215,1122.8 L1214,1101.1 L1213,1107.4 L1212,1112.9 L1211,1120.2 L1210,1093.9 L1209,1104.8 L1208,1117.5 L1207,1117.7 L1206,1110.7 L1205,1108.3 L1204,1099.7 L1203,1118.7 L1202,1131.8 L1201,1111.5 L1200,1097.6 L1199,1094.5 L1198,1095.9 L1197,1100.3 L1196,1104.1 L1195,1097.3 L1194,1106.4 L1193,1103.5 L1192,1119.4 L1191,1116.9 L1190,1111.4 L1189,1115.7 L1188,1120.3 L1187,1108.9 L1186,1111.9 L1185,1095.6 L1184,1100.6 L1183,1093.1 L1182,1106.4 L1181,1111.2 L1180,1102.7 L1179,1112.7 L1178,1109.3 L1177,1113.4 L1176,1127.7 L1175,1111.6 L1174,1114.3 L1173,1121.4 L1172,1129.5 L1171,1111.6 L1170,1108.3 L1169,1118.4 L1168,1112.5 L1167,1118.4 L1166,1123.9 L1165,1147 L1164,1114.3 L1163,1125.5 L1162,1137.9 L1161,1132.8 L1160,1109.4 L1159,1117.2 L1158,1124.5 L1157,1135.6 L1156,1111.9 L1155,1136.8 L1154,1108.6 L1153,1101.3 L1152,1105.4 L1151,1095.4 L1150,1103 L1149,1096.6 L1148,1096 L1147,1121 L1146,1117 L1145,1127.1 L1144,1115.9 L1143,1105.1 L1142,1101.3 L1141,1111.5 L1140,1121.4 L1139,1130.3 L1138,1116.5 L1137,1115.7 L1136,1124.8 L1135,1110 L1134,1093.9 L1133,1110.5 L1132,1097.6 L1131,1105.3 L1130,1110.4 L1129,1111.3 L1128,1120.6 L1127,1116.5 L1126,1105.3 L1125,1127.1 L1124,1103 L1123,1112.9 L1122,1108.2 L1121,1105.5 L1120,1119.8 L1119,1098.8 L1118,1105.7 L1117,1097.8 L1116,1105 L1115,1110.7 L1114,1106.5 L1113,1125 L1112,1130.3 L1111,1118.7 L1110,1103 L1109,1114 L1108,1108.1 L1107,1104.5 L1106,1104.4 L1105,1121.5 L1104,1140.7 L1103,1121.6 L1102,1116 L1101,1130.1 L1100,1135.3 L1099,1130.2 L1098,1123.1 L1097,1125.4Z" fill="#3d8fd6"/><path d="M1097,1004.6 L1098,994.6 L1099,1001.6 L1100,989.3 L1101,1018.6 L1102,1016.8 L1103,1010.1 L1104,1000.9 L1105,1012.9 L1106,1023.4 L1107,1024.8 L1108,1019.6 L1109,1025.4 L1110,1032 L1111,1015.8 L1112,1021.3 L1113,1018.4 L1114,1031.7 L1115,1018.8 L1116,1019.3 L1117,1030.6 L1118,1022.5 L1119,1035.4 L1120,1013.8 L1121,1023.2 L1122,1029.5 L1123,1025.7 L1124,1028.5 L1125,1017.1 L1126,1033.1 L1127,1022.1 L1128,1017.2 L1129,1023.5 L1130,1016.2 L1131,1018 L1132,1034.3 L1133,1017.1 L1134,1034.9 L1135,1018.4 L1136,1001.9 L1137,1010.9 L1138,1017 L1139,1002.5 L1140,1007.7 L1141,1020.2 L1142,1037 L1143,1026.8 L1144,1012.3 L1145,1014 L1146,1020.1 L1147,1019.8 L1148,1035.7 L1149,1035 L1150,1033.3 L1151,1032.1 L1152,1021 L1153,1027 L1154,1024.6 L1155,1006.8 L1156,1017.8 L1157,1009.9 L1158,1017 L1159,1026.7 L1160,1023.1 L1161,1009.9 L1162,1004 L1163,1015.7 L1164,1011.9 L1165,995.5 L1166,1008.9 L1167,1008.6 L1168,1025 L1169,1022.2 L1170,1021.1 L1171,1022.4 L1172,1019.1 L1173,1008.7 L1174,1019.5 L1175,1021.6 L1176,1022.3 L1177,1012.5 L1178,1017.1 L1179,1026.7 L1180,1029.3 L1181,1030.9 L1182,1022.9 L1183,1039.9 L1184,1032.3 L1185,1037.4 L1186,1028.3 L1187,1025 L1188,1012.1 L1189,1014.3 L1190,1027.4 L1191,1024.3 L1192,1011.6 L1193,1025.6 L1194,1032.5 L1195,1030.4 L1196,1029.1 L1197,1031 L1198,1038.4 L1199,1036.4 L1200,1035.7 L1201,1015.2 L1202,1017 L1203,1018.8 L1204,1039.6 L1205,1025.4 L1206,1018.7 L1207,1014.1 L1208,1026.9 L1209,1033 L1210,1029.2 L1211,1022.1 L1212,1025.4 L1213,1034 L1214,1039.3 L1215,1020 L1216,1022.5 L1217,1027 L1218,1034.4 L1219,1033.9 L1220,1014.7 L1221,1010.9 L1222,1019 L1223,1020.1 L1224,1029.3 L1225,1022.2 L1226,1021.8 L1227,1016.7 L1228,1016.2 L1229,1025 L1230,1032.8 L1231,1040 L1232,1032.2 L1233,1021.6 L1234,1038.1 L1235,1020.1 L1236,1035 L1237,1021.4 L1238,1022.6 L1239,1014.7 L1240,1038.8 L1241,1029.9 L1242,1028 L1243,1040.1 L1244,1027.3 L1245,1030.5 L1246,1027.5 L1247,1024.3 L1248,1007.7 L1249,1014.1 L1250,1029 L1251,1014.8 L1252,1018.9 L1253,1015.7 L1254,1026.5 L1255,1015 L1256,1018.3 L1257,1012.4 L1258,996.8 L1259,999.3 L1260,1006.4 L1261,1014.8 L1262,1022.1 L1263,1015 L1264,1008 L1265,1026.9 L1266,1017.4 L1267,1006.9 L1268,1027.5 L1269,1022.7 L1270,1020.3 L1271,1022.4 L1272,1017.7 L1273,1022.8 L1274,1016 L1275,1020.9 L1276,1027.5 L1277,1025.1 L1278,1023.9 L1279,1018 L1280,1018 L1281,1023 L1282,1025.2 L1283,1026.4 L1284,1018.1 L1285,1026 L1286,1026.7 L1287,1035.1 L1288,1025.8 L1289,1019.6 L1290,1019 L1291,1013.3 L1292,1010.9 L1293,1005.3 L1294,1023.5 L1295,998.6 L1296,1009.4 L1297,1014.5 L1298,1034.3 L1299,1034 L1300,1022.8 L1301,1030.5 L1302,1021.9 L1303,1028 L1304,1034.4 L1305,1036.5 L1306,1030.1 L1307,1022.7 L1308,1006.2 L1309,1023 L1310,1027.9 L1311,1021.4 L1312,1020.3 L1313,1019.6 L1314,1027.3 L1315,1008.3 L1316,990.2 L1317,1005.6 L1318,1026.3 L1319,1027.1 L1320,1037.1 L1321,1029.2 L1322,1030.8 L1323,1017.1 L1324,1021.5 L1325,1030 L1326,1029 L1327,1035.6 L1328,1036.1 L1329,1029.4 L1330,1029.8 L1331,1026.8 L1332,1014.8 L1333,1020.9 L1334,1017.8 L1335,1021.5 L1336,1026.6 L1337,1016 L1338,1017.3 L1339,1016.1 L1340,1017.9 L1341,1008.1 L1342,1006 L1343,1002.5 L1344,1011.3 L1345,1002.8 L1346,1015.8 L1347,1005.5 L1348,1013.8 L1349,1023.7 L1350,1023.8 L1351,1019.5 L1352,1019.4 L1353,1018.9 L1354,1022.2 L1355,1013.5 L1356,1011.2 L1357,995 L1358,1007.8 L1359,1025.6 L1360,1022.9 L1361,1025.5 L1362,1021.6 L1363,1003.5 L1364,1004.7 L1365,1011.5 L1366,992.5 L1367,1007.2 L1368,982.4 L1369,1009.9 L1370,1003.2 L1371,1014.2 L1372,1010.4 L1373,995.1 L1374,996.8 L1375,1014.2 L1376,1024.1 L1377,1036.3 L1378,1035.2 L1379,1012.3 L1380,1008.7 L1381,1024.2 L1382,1027.3 L1383,1028.7 L1384,1007.4 L1385,1010.4 L1386,1021.3 L1387,1016.5 L1388,1015.9 L1389,1020.5 L1390,1017.5 L1391,1017.8 L1392,1018.6 L1393,1031.7 L1394,1024.5 L1395,1007.7 L1396,1014.3 L1397,1017.5 L1398,1018 L1399,1018.3 L1400,1014.2 L1401,1010.4 L1402,1028.1 L1403,1030 L1404,1033.3 L1405,1007.9 L1406,1020.1 L1407,1025.5 L1408,1022.6 L1409,1034.1 L1410,1012.8 L1411,1024.5 L1412,1030.4 L1413,1025.7 L1414,1029.3 L1415,1028.1 L1416,1037.1 L1417,1036 L1418,1028.3 L1419,1028.3 L1420,1004 L1421,1018.1 L1422,986.6 L1423,998.8 L1424,995.4 L1425,1012.5 L1426,1012.2 L1427,1004.4 L1428,1021.7 L1429,1002.6 L1430,1022.5 L1431,1024.3 L1432,1014.3 L1433,1009.5 L1434,1013.3 L1435,1002.1 L1436,996.5 L1437,992.1 L1438,1013 L1439,1018.7 L1440,1014.4 L1441,1005.6 L1442,1022.7 L1443,1037.8 L1444,1033.9 L1445,1026.9 L1446,1025.8 L1447,1016.3 L1448,1017.2 L1449,1021.7 L1450,1028.8 L1451,1026.8 L1452,1030.8 L1453,1027.8 L1454,1028.1 L1455,1012 L1456,1018.3 L1457,1029.5 L1458,1035.9 L1459,1035.8 L1460,1032.8 L1461,1023.8 L1462,1028.6 L1463,1025.5 L1464,1014.5 L1465,1029.3 L1466,1026.9 L1467,1035.3 L1468,1022.7 L1469,1025.4 L1470,1026.9 L1471,1031.3 L1472,1028.8 L1473,1034.8 L1474,1032.2 L1475,1028.4 L1476,1024.8 L1477,1028.6 L1478,1029.6 L1479,1033.2 L1480,1027.6 L1481,1016.2 L1482,999.8 L1483,1002.4 L1484,1006.2 L1485,1012 L1486,1014.4 L1487,1033.8 L1488,1031.9 L1489,1041.1 L1490,1018.9 L1491,1030.7 L1492,1025.8 L1493,1025.2 L1494,1034.9 L1495,1030.4 L1496,1028.4 L1497,1007 L1498,1011.2 L1499,1035.8 L1500,1015.1 L1501,1022.6 L1502,1018.4 L1503,1011.1 L1504,1027.5 L1505,1033 L1506,1028.8 L1507,1035.2 L1508,1031.6 L1509,1016.4 L1510,1028.2 L1511,1032.1 L1512,1008.8 L1513,1011 L1514,1014.6 L1515,998.9 L1516,1005.9 L1517,1021.7 L1518,1024.7 L1519,981.8 L1520,1006.8 L1521,1005.3 L1522,1011.2 L1523,1004.3 L1524,1007.1 L1525,1021 L1526,1014.6 L1527,970.4 L1528,987.1 L1529,974.6 L1530,978.1 L1531,955.4 L1532,994.8 L1533,976.9 L1534,1001.5 L1535,965.2 L1536,988.5 L1537,976.4 L1538,1019.8 L1539,1023.5 L1540,1021.7 L1541,1024 L1542,1018.9 L1543,1012.5 L1544,1021.2 L1545,1035.4 L1546,1031.5 L1547,1020.4 L1548,1026.5 L1549,1037.6 L1550,1021.6 L1551,1030.3 L1552,1031.2 L1553,1024.6 L1554,1034.5 L1555,1019.8 L1556,1014.7 L1557,1021.2 L1558,1029.3 L1559,1022.7 L1560,1019 L1561,1024.9 L1562,1023.9 L1563,1016.7 L1564,1015.6 L1565,1019.3 L1566,1019.8 L1567,1024.7 L1568,1025.1 L1569,1029.2 L1570,1021.8 L1571,1028.8 L1572,1038.3 L1573,1037.9 L1574,1025.1 L1575,1033.5 L1576,1018.5 L1577,1027.3 L1578,1022.7 L1579,1009.6 L1580,1017.7 L1581,1030.4 L1582,1013.3 L1583,1015.2 L1584,1031.4 L1585,1040.9 L1586,1037.4 L1587,1032.3 L1588,1034.8 L1589,1037.8 L1590,1027.6 L1591,1019.6 L1592,1027.2 L1593,1035.8 L1594,1032.7 L1595,1025.9 L1596,1024 L1597,1019.1 L1598,1037.3 L1599,1035.6 L1600,1031.5 L1601,1021.4 L1602,1027 L1603,1021.9 L1604,1032.6 L1605,1020.3 L1606,1025.4 L1607,1024.8 L1608,1024.6 L1609,1012.5 L1610,1005.8 L1611,1018.6 L1612,1032.3 L1613,1022.3 L1614,1020 L1615,1022.9 L1616,1027.8 L1617,1030.3 L1618,1035.1 L1619,1020 L1620,1034.3 L1621,1032.4 L1622,1031.9 L1623,1018.4 L1624,1013.6 L1625,1013 L1626,1021.1 L1627,1040.1 L1628,1029.1 L1629,1026.2 L1630,1013 L1631,1019.2 L1632,1028.1 L1633,1033.1 L1634,1031.7 L1635,1016.3 L1636,998.5 L1637,1008.1 L1638,1024.1 L1639,1028.5 L1640,1021.6 L1641,1026.6 L1642,1027.3 L1643,1035.4 L1644,1032.8 L1645,1024.1 L1646,1014.3 L1647,1007.8 L1648,1025.1 L1649,1029.7 L1650,1026.3 L1651,1006.1 L1652,1025.5 L1653,1026.2 L1654,1035.2 L1655,1029.3 L1656,1024.2 L1657,1037.2 L1658,1041.5 L1659,1024.9 L1660,1041.2 L1661,1033.7 L1662,1027.1 L1663,1022 L1664,1032.1 L1665,1029.9 L1666,1034.2 L1667,1033.3 L1668,1036.9 L1669,1023.3 L1670,1019.9 L1671,1019.8 L1672,1030.3 L1673,1026.3 L1674,1030.3 L1675,1020.8 L1676,1023.5 L1677,1030.9 L1678,1027.4 L1679,1021.3 L1680,1022.8 L1681,1029.5 L1682,1021.1 L1683,1024.8 L1684,1023.1 L1685,1035.9 L1686,1027.7 L1687,1032.7 L1688,1020.5 L1689,1014.7 L1690,991.5 L1691,1006.7 L1692,1003.9 L1693,1016.2 L1694,1007.3 L1695,1002.9 L1696,1015.8 L1697,1014 L1698,1011.4 L1699,1016.2 L1700,1027 L1701,1024.7 L1702,1019.6 L1703,1011.4 L1704,1001.4 L1705,1010.1 L1706,1015.2 L1707,1033.3 L1708,1019.5 L1709,1017.5 L1710,1036.3 L1711,1023.6 L1712,1026.1 L1713,1026.9 L1714,999.9 L1715,1014.4 L1716,1032.4 L1717,1040.5 L1718,1037.6 L1719,1031.3 L1720,1025.2 L1721,1018.7 L1722,1011.1 L1723,1023.4 L1724,1024.7 L1725,1015.1 L1726,1031.5 L1727,1024.8 L1728,1029.3 L1729,1033 L1730,1015.9 L1731,1008.9 L1732,1020.5 L1733,1027.5 L1734,1025.7 L1735,1030.1 L1736,1027.2 L1737,1036.7 L1738,1029.5 L1739,1033.1 L1740,1029 L1741,1034.5 L1742,1027.5 L1743,1031.1 L1744,1034.5 L1745,1009.8 L1746,1021.1 L1747,1028.7 L1748,1040.2 L1749,1035.6 L1750,1030.8 L1751,1024.2 L1752,1023.7 L1753,1032.7 L1754,1029 L1755,1018.2 L1756,1012.2 L1757,1020.6 L1758,1034.2 L1759,1021 L1760,1012.1 L1761,1020.6 L1762,1007.1 L1763,1019.7 L1764,1024.4 L1765,1011 L1766,1014.8 L1767,1011.9 L1768,1025.1 L1769,1024.1 L1770,1011.3 L1771,1008.1 L1772,1013.7 L1773,1028.3 L1774,1004.5 L1775,1021.3 L1776,1031.2 L1777,1007.8 L1778,1012.9 L1779,1012.6 L1780,997.4 L1781,999.9 L1782,996.2 L1783,996.1 L1784,1016.2 L1785,1009.1 L1786,1009.6 L1787,1002.5 L1788,988.1 L1789,984.2 L1790,963.4 L1791,1012.6 L1792,1005.4 L1793,1019.1 L1794,1029.2 L1795,1035 L1796,1023.8 L1797,1020 L1798,1012.8 L1799,1030.8 L1800,1021.4 L1801,1023.8 L1802,1020.3 L1803,1025 L1804,1039.3 L1805,1032.5 L1806,1019.1 L1807,1027.6 L1808,1031.5 L1809,1027.5 L1810,1011.2 L1811,1023.9 L1812,1025.1 L1813,1020.3 L1814,1017.7 L1815,1024.3 L1816,1034.2 L1817,1030.1 L1818,1030.8 L1819,1027.6 L1820,1027.6 L1821,1025.4 L1822,1019.7 L1823,1031.4 L1824,1026.5 L1825,1026.2 L1826,1009.7 L1827,1015.7 L1828,1018.8 L1829,1028.1 L1830,1020.2 L1831,1025.2 L1832,1022.4 L1833,1020 L1834,1024.1 L1835,1029.8 L1836,1025.4 L1837,1033.4 L1838,1035 L1839,1035.6 L1839,1101.4 L1838,1106 L1837,1108.1 L1836,1099.8 L1835,1101.9 L1834,1104.3 L1833,1108.2 L1832,1106.4 L1831,1111.5 L1830,1107.2 L1829,1107.9 L1828,1121.3 L1827,1106.7 L1826,1124.6 L1825,1105.4 L1824,1103.5 L1823,1099.9 L1822,1106.5 L1821,1111.3 L1820,1097.7 L1819,1103.8 L1818,1100.8 L1817,1099.3 L1816,1099.3 L1815,1107.3 L1814,1116.7 L1813,1114.1 L1812,1110.7 L1811,1115.1 L1810,1124.6 L1809,1107.4 L1808,1100.8 L1807,1108.6 L1806,1107 L1805,1101.1 L1804,1092.2 L1803,1104.1 L1802,1118.1 L1801,1105.9 L1800,1111.5 L1799,1101.4 L1798,1110.7 L1797,1110 L1796,1112.9 L1795,1098.7 L1794,1104.1 L1793,1116.6 L1792,1127.6 L1791,1127.7 L1790,1162.2 L1789,1137.6 L1788,1134.6 L1787,1133.8 L1786,1118.1 L1785,1123.5 L1784,1122.4 L1783,1131 L1782,1129.5 L1781,1127.2 L1780,1123.2 L1779,1116.7 L1778,1119.8 L1777,1122.2 L1776,1100 L1775,1122.8 L1774,1120.3 L1773,1104.8 L1772,1110.5 L1771,1119.5 L1770,1119.6 L1769,1116 L1768,1099.1 L1767,1132.1 L1766,1124.6 L1765,1119.9 L1764,1119.7 L1763,1112.2 L1762,1121.8 L1761,1113 L1760,1127.5 L1759,1106.4 L1758,1104.1 L1757,1112.1 L1756,1114.5 L1755,1110.2 L1754,1097.6 L1753,1101.5 L1752,1101.7 L1751,1118.2 L1750,1102.2 L1749,1100.1 L1748,1093.5 L1747,1107 L1746,1112.3 L1745,1115.4 L1744,1103.7 L1743,1101.3 L1742,1106 L1741,1101.4 L1740,1101.5 L1739,1102.7 L1738,1097.7 L1737,1101.8 L1736,1110 L1735,1100.3 L1734,1111.3 L1733,1106.3 L1732,1104.5 L1731,1120.1 L1730,1111.4 L1729,1097.9 L1728,1113.1 L1727,1106.5 L1726,1109.3 L1725,1115.8 L1724,1110.4 L1723,1118 L1722,1120 L1721,1126.6 L1720,1106.4 L1719,1100.3 L1718,1100.1 L1717,1095.1 L1716,1105.6 L1715,1124.2 L1714,1117.6 L1713,1099.4 L1712,1112.7 L1711,1105.3 L1710,1096.8 L1709,1113.1 L1708,1113.3 L1707,1098.3 L1706,1121.7 L1705,1128.9 L1704,1127.9 L1703,1128.4 L1702,1103.7 L1701,1099.1 L1700,1103.7 L1699,1107.3 L1698,1114.6 L1697,1124.9 L1696,1120.1 L1695,1115.5 L1694,1122 L1693,1113.9 L1692,1116 L1691,1139.2 L1690,1133 L1689,1113.1 L1688,1107.7 L1687,1104.4 L1686,1099.3 L1685,1096.5 L1684,1106.1 L1683,1108.8 L1682,1116.6 L1681,1100.8 L1680,1115 L1679,1109.1 L1678,1102.8 L1677,1101.3 L1676,1103.4 L1675,1104.4 L1674,1103.7 L1673,1117.4 L1672,1108.1 L1671,1107.9 L1670,1108.2 L1669,1107.9 L1668,1101.4 L1667,1099.4 L1666,1099.6 L1665,1104.5 L1664,1108.1 L1663,1104.4 L1662,1114.1 L1661,1109.5 L1660,1096.8 L1659,1107.6 L1658,1092.7 L1657,1093.8 L1656,1109.3 L1655,1106.4 L1654,1101.8 L1653,1103.5 L1652,1107 L1651,1127.7 L1650,1109.2 L1649,1105.6 L1648,1105.4 L1647,1121.7 L1646,1113.3 L1645,1112.6 L1644,1097.1 L1643,1102.4 L1642,1109.2 L1641,1106 L1640,1116.7 L1639,1098.2 L1638,1114.6 L1637,1119.8 L1636,1133.8 L1635,1124.8 L1634,1102.5 L1633,1106 L1632,1112.5 L1631,1116.8 L1630,1115.6 L1629,1114.6 L1628,1098.1 L1627,1097.6 L1626,1113.8 L1625,1126.5 L1624,1107.5 L1623,1121.5 L1622,1100.3 L1621,1102.5 L1620,1097.6 L1619,1106.3 L1618,1092.9 L1617,1097.2 L1616,1107 L1615,1112.7 L1614,1112.4 L1613,1104.1 L1612,1110.4 L1611,1112.3 L1610,1119.2 L1609,1116.9 L1608,1103.5 L1607,1118.1 L1606,1102.8 L1605,1103.9 L1604,1099 L1603,1105.2 L1602,1106.3 L1601,1108.5 L1600,1096.9 L1599,1097.1 L1598,1099.3 L1597,1123 L1596,1106.8 L1595,1103.7 L1594,1096.1 L1593,1100.7 L1592,1111.6 L1591,1121.5 L1590,1117.1 L1589,1097.5 L1588,1101.6 L1587,1096.1 L1586,1096.1 L1585,1093 L1584,1102 L1583,1118.1 L1582,1110.6 L1581,1111.7 L1580,1108.1 L1579,1115.6 L1578,1101.8 L1577,1106.6 L1576,1108.8 L1575,1105.1 L1574,1105.9 L1573,1103.8 L1572,1092.7 L1571,1104.5 L1570,1106.3 L1569,1103.4 L1568,1105.3 L1567,1108 L1566,1104.7 L1565,1115.4 L1564,1112.8 L1563,1117.7 L1562,1108.9 L1561,1117.4 L1560,1114.4 L1559,1101.3 L1558,1111.4 L1557,1110.8 L1556,1122.8 L1555,1115.6 L1554,1093.4 L1553,1118.2 L1552,1109.3 L1551,1103.3 L1550,1114 L1549,1101.4 L1548,1106.4 L1547,1108.2 L1546,1100.2 L1545,1100.3 L1544,1120.6 L1543,1117.7 L1542,1111.9 L1541,1108.3 L1540,1113.7 L1539,1116 L1538,1107.7 L1537,1142.4 L1536,1135.2 L1535,1143.9 L1534,1145 L1533,1156.6 L1532,1147.7 L1531,1154.6 L1530,1153.5 L1529,1142.9 L1528,1167.4 L1527,1154.9 L1526,1116.7 L1525,1117.7 L1524,1114.3 L1523,1123.2 L1522,1118.4 L1521,1126 L1520,1133.2 L1519,1157 L1518,1103.6 L1517,1103.8 L1516,1120.7 L1515,1130 L1514,1120.3 L1513,1128.3 L1512,1123.8 L1511,1102.6 L1510,1107.2 L1509,1127 L1508,1105.4 L1507,1106.7 L1506,1099 L1505,1096.5 L1504,1104 L1503,1126.7 L1502,1108.8 L1501,1102.8 L1500,1116.1 L1499,1097.2 L1498,1109.2 L1497,1119.6 L1496,1106.3 L1495,1099 L1494,1099.4 L1493,1108.9 L1492,1108 L1491,1101.1 L1490,1103.3 L1489,1094.5 L1488,1104.3 L1487,1102.6 L1486,1108.1 L1485,1124.3 L1484,1123.6 L1483,1127.6 L1482,1130.2 L1481,1105.8 L1480,1110.4 L1479,1097.7 L1478,1098.5 L1477,1107 L1476,1106.2 L1475,1113.3 L1474,1101.5 L1473,1097.7 L1472,1100.7 L1471,1102.1 L1470,1109.5 L1469,1104.1 L1468,1103 L1467,1096.5 L1466,1110.8 L1465,1103.2 L1464,1113.2 L1463,1110.4 L1462,1100.4 L1461,1103.2 L1460,1101 L1459,1102.7 L1458,1098.6 L1457,1098.4 L1456,1104.6 L1455,1125.2 L1454,1099.7 L1453,1107.5 L1452,1100.8 L1451,1111.2 L1450,1113.5 L1449,1111.7 L1448,1114.1 L1447,1111 L1446,1103.7 L1445,1106.3 L1444,1101.2 L1443,1097.5 L1442,1109 L1441,1114.7 L1440,1127.3 L1439,1115.4 L1438,1132.8 L1437,1150.3 L1436,1138.3 L1435,1141.4 L1434,1115.6 L1433,1118.5 L1432,1114.9 L1431,1108 L1430,1118.6 L1429,1138 L1428,1118.5 L1427,1129.1 L1426,1113.6 L1425,1132.7 L1424,1120.9 L1423,1136.7 L1422,1135 L1421,1119.3 L1420,1122.9 L1419,1101.9 L1418,1105.9 L1417,1093.7 L1416,1102.1 L1415,1114.1 L1414,1112.3 L1413,1100.6 L1412,1109.7 L1411,1107.1 L1410,1125.8 L1409,1098.3 L1408,1102.9 L1407,1106.8 L1406,1116.1 L1405,1124 L1404,1107.5 L1403,1099 L1402,1105.1 L1401,1113.7 L1400,1123.2 L1399,1108.5 L1398,1112.5 L1397,1110 L1396,1107.9 L1395,1116.5 L1394,1110.9 L1393,1101.2 L1392,1116.1 L1391,1107.4 L1390,1117.5 L1389,1107.9 L1388,1120.5 L1387,1116.9 L1386,1110.1 L1385,1116.1 L1384,1133.8 L1383,1102.9 L1382,1105.5 L1381,1105.6 L1380,1119.8 L1379,1109.2 L1378,1094.7 L1377,1095.1 L1376,1112.7 L1375,1123.3 L1374,1124.5 L1373,1138.1 L1372,1120.3 L1371,1121.3 L1370,1128.1 L1369,1120.5 L1368,1137.8 L1367,1128.8 L1366,1138.5 L1365,1123.7 L1364,1141.4 L1363,1121.4 L1362,1117.4 L1361,1113.9 L1360,1110 L1359,1113.2 L1358,1116.6 L1357,1128.3 L1356,1121.3 L1355,1117.6 L1354,1113.3 L1353,1117.4 L1352,1115.6 L1351,1113.4 L1350,1107.7 L1349,1113.1 L1348,1111.7 L1347,1123 L1346,1122.4 L1345,1119.2 L1344,1126.4 L1343,1126.4 L1342,1138.6 L1341,1125.5 L1340,1112.2 L1339,1113.1 L1338,1109.7 L1337,1108.5 L1336,1106.7 L1335,1114.5 L1334,1124.9 L1333,1103.5 L1332,1116.4 L1331,1103.7 L1330,1110.9 L1329,1107.7 L1328,1102.2 L1327,1101 L1326,1107.4 L1325,1101.8 L1324,1114.1 L1323,1108.3 L1322,1105.8 L1321,1101.5 L1320,1097 L1319,1107.1 L1318,1116.5 L1317,1117.6 L1316,1131.3 L1315,1130.7 L1314,1114.1 L1313,1118.1 L1312,1118.1 L1311,1113.7 L1310,1099.2 L1309,1106.5 L1308,1124 L1307,1102.9 L1306,1098.8 L1305,1102.5 L1304,1107.4 L1303,1111 L1302,1112.1 L1301,1104.9 L1300,1115.5 L1299,1097.2 L1298,1108.7 L1297,1125.2 L1296,1121 L1295,1134.9 L1294,1113.5 L1293,1132.7 L1292,1119.1 L1291,1124.7 L1290,1111.7 L1289,1120.6 L1288,1112.6 L1287,1099.2 L1286,1105.6 L1285,1106.2 L1284,1115.4 L1283,1101.3 L1282,1101 L1281,1115.4 L1280,1110.4 L1279,1112.4 L1278,1117 L1277,1111.7 L1276,1105.7 L1275,1103.7 L1274,1114 L1273,1115.1 L1272,1110.2 L1271,1121.4 L1270,1115.3 L1269,1110.3 L1268,1104.8 L1267,1116 L1266,1108.1 L1265,1107.3 L1264,1125.4 L1263,1125 L1262,1104.9 L1261,1121 L1260,1123.8 L1259,1124.9 L1258,1133 L1257,1117.2 L1256,1109.3 L1255,1111.6 L1254,1110.6 L1253,1123.7 L1252,1116.8 L1251,1116.4 L1250,1112.2 L1249,1112.2 L1248,1117.9 L1247,1116.6 L1246,1103.1 L1245,1103.6 L1244,1109.3 L1243,1090.7 L1242,1097.7 L1241,1100 L1240,1099.8 L1239,1118.1 L1238,1110.7 L1237,1106.5 L1236,1096.2 L1235,1108.3 L1234,1094.2 L1233,1110.2 L1232,1103.7 L1231,1091.4 L1230,1103 L1229,1109.3 L1228,1130.4 L1227,1123.7 L1226,1118.6 L1225,1104.9 L1224,1112.6 L1223,1103.9 L1222,1113 L1221,1110 L1220,1107.8 L1219,1102 L1218,1096.5 L1217,1104.6 L1216,1107.9 L1215,1112.1 L1214,1098.7 L1213,1098.8 L1212,1114.3 L1211,1110.4 L1210,1103.3 L1209,1097.3 L1208,1118.3 L1207,1115 L1206,1112.4 L1205,1099.8 L1204,1096.5 L1203,1116.2 L1202,1123.7 L1201,1117.2 L1200,1099.9 L1199,1104.6 L1198,1103.9 L1197,1096 L1196,1105.5 L1195,1105.3 L1194,1108.4 L1193,1107.2 L1192,1112.5 L1191,1115.3 L1190,1108.3 L1189,1125.6 L1188,1119.8 L1187,1110.5 L1186,1105.3 L1185,1101.8 L1184,1098.9 L1183,1095.7 L1182,1103.7 L1181,1111 L1180,1101.1 L1179,1117.6 L1178,1114.7 L1177,1123.1 L1176,1115.9 L1175,1107.2 L1174,1106.6 L1173,1117.1 L1172,1119.3 L1171,1103.4 L1170,1112.3 L1169,1111 L1168,1116.5 L1167,1128.7 L1166,1119.6 L1165,1128.6 L1164,1114.3 L1163,1123.4 L1162,1133.1 L1161,1133.3 L1160,1102.9 L1159,1108.4 L1158,1120.2 L1157,1122.8 L1156,1117 L1155,1127.9 L1154,1106 L1153,1109.2 L1152,1104.1 L1151,1097.9 L1150,1103.4 L1149,1092.9 L1148,1099.5 L1147,1111.9 L1146,1113.3 L1145,1132.1 L1144,1115.4 L1143,1108.6 L1142,1094.6 L1141,1107.7 L1140,1121.5 L1139,1123.6 L1138,1112.2 L1137,1119.8 L1136,1128.9 L1135,1115.4 L1134,1094.8 L1133,1113.3 L1132,1099.3 L1131,1111.6 L1130,1106.7 L1129,1108.5 L1128,1112.7 L1127,1118.5 L1126,1109.5 L1125,1122 L1124,1101.1 L1123,1101.3 L1122,1109.2 L1121,1103.2 L1120,1127.1 L1119,1098 L1118,1101.8 L1117,1098.8 L1116,1110.3 L1115,1109 L1114,1105.9 L1113,1123.4 L1112,1121 L1111,1117.3 L1110,1105.5 L1109,1110 L1108,1117 L1107,1112.8 L1106,1107.2 L1105,1127.3 L1104,1132.8 L1103,1123.9 L1102,1114.7 L1101,1130 L1100,1130.9 L1099,1125.8 L1098,1132 L1097,1119.9Z" fill="#d27f7b"/></g><rect x="1416.5" y="968" width="25.0" height="197" fill="#eeeeee" fill-opacity="0.45" stroke="#555" stroke-width="2.2"/><rect x="1096" y="968" width="744" height="197" fill="none" stroke="#5a5a5a" stroke-width="3"/><path d="M1097.5,1165v-14M1097.5,968v14" stroke="#5a5a5a" stroke-width="3"/><path d="M1282.9,1165v-14M1282.9,968v14" stroke="#5a5a5a" stroke-width="3"/><path d="M1468.3,1165v-14M1468.3,968v14" stroke="#5a5a5a" stroke-width="3"/><path d="M1653.7,1165v-14M1653.7,968v14" stroke="#5a5a5a" stroke-width="3"/><path d="M1839.1,1165v-14M1839.1,968v14" stroke="#5a5a5a" stroke-width="3"/><path d="M1096,992.5h14M1840,992.5h-14" stroke="#5a5a5a" stroke-width="3"/><path d="M1096,1066.5h14M1840,1066.5h-14" stroke="#5a5a5a" stroke-width="3"/><path d="M1096,1142.5h14M1840,1142.5h-14" stroke="#5a5a5a" stroke-width="3"/><path d="M1100,931.5 L1416.5,968 M1836,931.5 L1441.5,968" stroke="#777" stroke-width="3" stroke-dasharray="11 8" fill="none"/><path d="M1098,931.0 l9,-3.5 l-1,6z M1838,931.0 l-9,-3.5 l1,6z" fill="#777"/><text x="1097.5" y="1205" font-size="37" fill="#111" text-anchor="middle" >0</text><text x="1282.9" y="1205" font-size="37" fill="#111" text-anchor="middle" >1</text><text x="1468.3" y="1205" font-size="37" fill="#111" text-anchor="middle" >2</text><text x="1653.7" y="1205" font-size="37" fill="#111" text-anchor="middle" >3</text><text x="1839.1" y="1205" font-size="37" fill="#111" text-anchor="middle" >4</text><text x="1467.7" y="1255" font-size="38.5" fill="#111" text-anchor="middle" >Time (s)</text><text x="1091" y="1005.5" font-size="37" fill="#111" text-anchor="end" >1</text><text x="1091" y="1079.5" font-size="37" fill="#111" text-anchor="end" >0</text><text x="1091" y="1155.5" font-size="37" fill="#111" text-anchor="end" >−1</text><text transform="translate(1031.5,936) rotate(-90)" font-size="37" fill="#111" text-anchor="middle">Displacement (a.u.)</text><ellipse cx="239" cy="1484" rx="134" ry="130" fill="url(#gSc)"/><path d="M345.1,1356.2h1M134,1472.4h1M194,1650.1h1M339.6,1470.5h1M91.9,1535.1h1M189.1,1400.6h1M250.9,1359.3h1M133.2,1438.3h1M126.8,1459.1h1M321.7,1424.4h1M219.6,1398.1h1M326.5,1521.6h1M310.2,1411h1M174,1397.5h1M250.7,1611.5h1M316.9,1558.8h1M132.9,1467h1M120.5,1542.7h1M345.5,1474.1h1M330.5,1521.1h1M367.1,1471.7h1M272.5,1568.8h1M130.3,1526.8h1M210.3,1592h1M292,1592.8h1M155.4,1522h1M147.7,1516.6h1M127.8,1476.1h1M305,1386.4h1M215,1395.6h1M329.7,1494.4h1M236,1598.8h1M357.6,1457.4h1M330.9,1477.9h1M276.4,1579h1M143.5,1502.3h1M334,1439.3h1M334.9,1479.9h1M122.4,1455.4h1M205.2,1399.2h1M171.8,1405.4h1M233.4,1629.7h1M198.7,1331.1h1M177.6,1561.4h1M360.3,1467.2h1M106.3,1439.5h1M205.6,1570.9h1M235.7,1388.5h1M251,1585.2h1M132.8,1519.3h1M146.8,1511.3h1M157,1420.3h1M373.6,1479h1M239.7,1369.9h1M166.9,1413.6h1M331,1552.7h1M253.1,1580.2h1M297.5,1568.6h1M162.1,1564.7h1M213.9,1398.2h1M328.7,1533h1M123.3,1317.4h1M372.6,1447h1M125.9,1462.7h1M147.2,1543.6h1M264.6,1604.7h1M231.2,1365.8h1M130.5,1454.8h1M278.7,1565.1h1M283.6,1612.6h1M287,1600.6h1M308.4,1570.2h1M172.7,1572.1h1M277.1,1375.8h1M263.6,1392.4h1M152.5,1511.5h1M149.3,1572.7h1M88.2,1465.8h1M347.7,1476.1h1M309.6,1419.4h1M316.3,1429.3h1M195.6,1394h1M342.9,1473.7h1M171.9,1399.1h1M236.5,1391.4h1M83.2,1444.5h1M334.5,1495.3h1M351.8,1489h1M157.3,1558.5h1M204.9,1402.7h1M152.7,1408.5h1M209.5,1387.7h1M170.1,1373.9h1M184.7,1557.1h1M144.6,1441.5h1M174.8,1410.2h1M268.2,1588.7h1M162.9,1334.7h1M332.6,1493.8h1M331,1404.8h1M376.6,1494h1M310.4,1575.4h1M203.7,1576h1M193.5,1589.2h1M136.4,1643.6h1M254.7,1341.4h1M119.1,1547.3h1M125.3,1470.8h1M181.9,1401.4h1M308.9,1544h1M188,1407h1M299.4,1557h1M296.6,1409.3h1M238.5,1376.9h1M159.6,1419.1h1M131.5,1417.3h1M272.2,1582.9h1M182.9,1376.1h1M339.7,1408.5h1M345.7,1445.7h1M159.9,1429.1h1M269.7,1575h1M327.1,1545.2h1M276.6,1401.9h1M209.5,1379.2h1M360.4,1484.4h1M247,1603.1h1M207.7,1566.9h1M290.6,1387.2h1M143.7,1549.3h1M313.8,1539h1M278.4,1578.1h1M319.9,1400.4h1M233.1,1582.4h1M374.5,1484h1M222.2,1378.4h1M366.2,1495h1M257.8,1363.6h1M311.6,1429.8h1M324.5,1426.9h1M144.9,1446.7h1M139.3,1471.4h1M292.8,1406.1h1M226.6,1389.1h1M149.5,1467.1h1M192.7,1566.3h1M341.7,1479.3h1M280,1353.1h1M320.8,1445.4h1M159.3,1566h1M340.8,1579.5h1M304.2,1560.2h1M323.1,1550.7h1M144.5,1484.1h1M312.9,1567.3h1M107.5,1446.6h1M156.7,1435.8h1M355.4,1520.7h1M276.5,1590.6h1M363.5,1442.9h1M336.4,1506.5h1M209.5,1397.3h1M120.1,1513.4h1M212.4,1583.6h1M250.5,1599.6h1M113.5,1389h1M320.7,1559.6h1M332,1432.9h1M202.5,1346.7h1M324.2,1434.7h1M250.1,1588.5h1M357.6,1553.7h1M323,1434.8h1M151.3,1454.2h1M228.7,1363.9h1M361.2,1495.7h1M198,1578.2h1M166.2,1547.8h1M327.9,1551h1M150.3,1422h1M350.5,1517.6h1M162.3,1408.6h1M184.8,1387.5h1M342.4,1501.6h1M217.7,1384.7h1M348.2,1530h1M327.3,1563.4h1M328.1,1389.3h1M328.2,1526.7h1M300.7,1382h1M182.7,1408.4h1M380.2,1430.8h1M132.3,1554.6h1M260.8,1582.9h1M172.2,1401.4h1M184.2,1366.9h1M224.9,1396.4h1M150.8,1508.2h1M278.4,1566h1M441.1,1530.1h1M99.5,1564.2h1M330.4,1455.6h1M166.2,1581h1M336,1441h1M177.4,1379.1h1M341.9,1593.4h1M189.7,1581.7h1M306.4,1358.7h1M129.6,1473.4h1M145.2,1482.8h1M266.5,1366.8h1M122.9,1499.8h1M265.6,1394.2h1M389.1,1508.4h1M334,1521h1M350,1554.1h1M342.3,1499.5h1M110.1,1522.2h1M284.2,1577.8h1M353.6,1450.1h1M191.5,1579.9h1M216.4,1354.7h1M309,1384h1M205.6,1582.7h1M321.6,1399.8h1M206,1640.8h1M276.4,1574.6h1M287.7,1565h1M114.9,1405.3h1M133.2,1553.9h1M342.4,1389.1h1M146.3,1543.5h1M139.9,1508.9h1M148.8,1524.2h1M203.5,1354.6h1M191.1,1607.4h1M247.8,1369.2h1M226.7,1607.3h1M317,1412.5h1M316.3,1431.6h1M349.9,1466h1M143.2,1427.2h1M123.2,1548.6h1M297.4,1597.2h1M193.4,1604.6h1M91.2,1463.6h1M153.1,1381.9h1M381.4,1533.7h1M279.1,1386.6h1M268.2,1385.3h1M343.3,1421.4h1M146.9,1517.8h1M238,1590.4h1M348.8,1444.2h1M179.2,1345.7h1M144.3,1491.9h1M330.3,1516.9h1M283.4,1581.5h1M296,1398.7h1M335.1,1536.7h1M127.4,1567.7h1M151.4,1456.9h1M336.1,1449.2h1M155.5,1574.7h1M318.7,1382.5h1M299.8,1564.9h1M131.6,1418h1M321.4,1560.6h1M196,1562.4h1M137.8,1463.6h1M136.8,1593h1M151.5,1456.5h1M259.6,1588.9h1M331.2,1420.6h1M224.7,1390.3h1M184.6,1406h1M269.9,1578.4h1M176.4,1564.2h1M188,1386.5h1M143.8,1460h1M253.7,1389.7h1M139.9,1503.1h1M160.8,1547h1M332.8,1445.7h1M257.5,1363.6h1M291.8,1556.9h1M134.3,1554.2h1M284.4,1648.7h1M197.5,1375.2h1M313.8,1416.2h1M191.9,1569.5h1M345.2,1501h1M151.1,1508.7h1M303.6,1391.6h1M310.5,1422.3h1M347.1,1510.8h1M260.6,1590.7h1M252.2,1374.8h1M348,1410.4h1M342.4,1445.5h1M148.6,1437.9h1M90.2,1531.1h1M383,1500h1M322.5,1525.6h1M174.7,1566.9h1M250.8,1579.2h1M351.8,1519.7h1M223.5,1589.1h1M135,1418.2h1M140.4,1555.2h1M338.7,1515.4h1M151.6,1517.9h1M154.1,1379.8h1M287.4,1599.7h1M253.6,1342.6h1M285.7,1373.6h1M292.2,1361.5h1M348.2,1560.7h1M262.9,1388.8h1M363.7,1529.5h1M88.3,1445.3h1M173.3,1581h1M206.8,1387.8h1M181.5,1353.1h1M174,1385.7h1M139.9,1425.1h1M334,1402.3h1M350.4,1559.5h1M360.8,1427.4h1M196.6,1392.8h1M148.3,1471.7h1M401.7,1489.2h1M150.3,1543h1M344.4,1432.9h1M244.6,1361.2h1M285.3,1396.3h1M151.4,1438.4h1M237.4,1572.5h1M266.7,1574.6h1M369.1,1463.6h1M189.7,1393.7h1M331.4,1419.7h1M121.2,1569.9h1M145.2,1564.3h1M124.9,1443h1M341,1556.5h1M311.2,1418.7h1M317.7,1543.7h1M147.9,1439.3h1M193.8,1385.6h1M150.1,1398.4h1M327.4,1432h1M190.1,1586.5h1M368.8,1437h1M342.4,1539.4h1M332.5,1429.7h1M118.3,1556.9h1M262,1391.3h1M131.5,1470.2h1M301.8,1358.4h1M93.7,1412.1h1M270.4,1593.5h1M193.4,1380.9h1M326.2,1449.3h1M223.5,1577.3h1M258.2,1367h1M286.2,1396.9h1M257.5,1598h1M327.9,1409.9h1M326.3,1560h1M338,1489.3h1M303.2,1365.2h1M92.3,1523.4h1M347.3,1456.1h1M131.5,1497.6h1M151.5,1410.9h1M285,1624.9h1M266.4,1577.5h1M316.6,1427.2h1M153.1,1524.4h1M146.1,1494.8h1M164.5,1430h1M179.9,1400.1h1M151.8,1510.5h1M103.5,1530.7h1M300.8,1359.2h1M378.3,1350.6h1M347.1,1444.6h1M335.6,1467.5h1M321.5,1412.6h1M172.9,1394.5h1M160.7,1396.6h1M99.3,1438h1M260.5,1361.5h1M130.1,1533.7h1M150.9,1512.6h1M232.3,1577.4h1M300.8,1607.4h1M158.4,1423.4h1M193.6,1398.6h1M270.5,1339.3h1M348.4,1472.4h1M294,1587.4h1M151.7,1606.5h1M284.4,1381.1h1M128.7,1473.2h1M174.2,1410.1h1M328.6,1505.1h1M258.9,1365.4h1M358.3,1455h1M296.3,1611.8h1M214.9,1371.5h1M270.7,1340.4h1M264.8,1573.1h1M251,1389.6h1M304.4,1603h1M265.2,1372.9h1M330.6,1454.1h1M250.6,1393.1h1M212.2,1316.1h1M244.5,1572.1h1M247.7,1373.4h1M140.7,1473.7h1M375.1,1538.6h1M352.8,1443.1h1M153.9,1398.1h1M340.5,1557.8h1M264.1,1585.1h1M199.4,1398.5h1M164.5,1542.8h1M240.5,1586.4h1M289.1,1566.2h1M149.5,1537.7h1M147.4,1546.8h1M143.5,1467.3h1M284.3,1398.4h1M333.3,1514.6h1M341.6,1464h1M341.1,1510h1M146.9,1386.5h1M233.1,1382.5h1M121.4,1475.1h1M178.7,1549.6h1M227.7,1394.4h1M141.4,1501.6h1M205.3,1391.4h1M146.6,1475h1M203.3,1568.9h1M303.5,1381.5h1M263.4,1392.3h1M237.5,1395.2h1M99.3,1430.4h1M186.5,1374.6h1M330.6,1415.3h1M347.7,1464.4h1M319.1,1425.4h1M335.9,1587.6h1M340.7,1581h1M115.4,1557.2h1M338.7,1426.5h1M176.4,1393.3h1M227.5,1582.4h1M132.6,1625.5h1M357.2,1519h1M324.7,1570.6h1M273.8,1578.2h1M322.7,1413.8h1M306.7,1389.1h1M238.9,1593.6h1M325.3,1577.1h1M252.7,1394h1M199.4,1572.1h1M163.6,1547.6h1M154.5,1447.5h1M196.6,1404.6h1M284.5,1603.8h1M122.2,1457.4h1M176.8,1412.2h1M144.8,1480.3h1M204.5,1662.5h1M148.9,1514.6h1M153.9,1568.2h1M347.9,1516.9h1M256.8,1608.6h1M199.7,1580.7h1M304,1546.5h1M129.6,1537.1h1M204.1,1351.3h1M318.6,1348.5h1M101.4,1499.2h1M212.6,1606h1M93.6,1432.5h1M324.8,1412.8h1M290.7,1588h1M194.7,1601.6h1M359,1364.9h1M218,1391.8h1M191.6,1584.7h1M337.4,1561.7h1M144.1,1501.2h1M138.5,1523h1M180.6,1410h1M349.3,1429.4h1M328.7,1507.5h1M154.8,1569.8h1M138.5,1466.5h1M369.8,1600.4h1M155.1,1524h1M337.8,1391.5h1M164.1,1568.2h1M359.6,1459.8h1M274.5,1375.8h1M339.4,1529.8h1M132.3,1422.6h1M126.6,1449.1h1M375.1,1444.2h1M293.9,1566.9h1M155,1442h1M325.5,1442h1M206.1,1400.3h1M203.4,1579.5h1M329.4,1424.6h1M331.1,1499.6h1M151.5,1566.7h1M154.9,1575h1" stroke="#6a97a8" stroke-width="1" stroke-opacity="0.5"/><rect x="99" y="1344" width="281" height="279" fill="none" stroke="#727272" stroke-width="3"/><path d="M145.5,1623v-13M145.5,1344v13" stroke="#727272" stroke-width="3"/><path d="M239.2,1623v-13M239.2,1344v13" stroke="#727272" stroke-width="3"/><path d="M332.2,1623v-13M332.2,1344v13" stroke="#727272" stroke-width="3"/><path d="M99,1390.7h13M380,1390.7h-13" stroke="#727272" stroke-width="3"/><path d="M99,1482.7h13M380,1482.7h-13" stroke="#727272" stroke-width="3"/><path d="M99,1576.5h13M380,1576.5h-13" stroke="#727272" stroke-width="3"/><text x="145.5" y="1661" font-size="37" fill="#111" text-anchor="middle" >−1</text><text x="239.2" y="1661" font-size="37" fill="#111" text-anchor="middle" >0</text><text x="332.2" y="1661" font-size="37" fill="#111" text-anchor="middle" >1</text><text x="94" y="1403.7" font-size="37" fill="#111" text-anchor="end" >1</text><text x="94" y="1495.7" font-size="37" fill="#111" text-anchor="end" >0</text><text x="94" y="1589.5" font-size="37" fill="#111" text-anchor="end" >−1</text><text x="239" y="1712" font-size="38.3" fill="#111" text-anchor="middle"><tspan font-style="italic">x</tspan><tspan font-size="24" dy="8">1</tspan><tspan dy="-8"> (a.u.)</tspan></text><text transform="translate(35.5,1484.2) rotate(-90)" font-size="38.3" fill="#111" text-anchor="middle"><tspan font-style="italic">x</tspan><tspan font-size="24" dy="8">2</tspan><tspan dy="-8"> (a.u.)</tspan></text><ellipse cx="1237.7" cy="1485.3" rx="131" ry="17" fill="url(#gSc2)" transform="rotate(-44.8 1237.7 1485.3)"/><rect x="1098.5" y="1345" width="280.0" height="278" fill="none" stroke="#727272" stroke-width="3"/><path d="M1145.3,1623v-13M1145.3,1345v13" stroke="#727272" stroke-width="3"/><path d="M1238.3,1623v-13M1238.3,1345v13" stroke="#727272" stroke-width="3"/><path d="M1332.1,1623v-13M1332.1,1345v13" stroke="#727272" stroke-width="3"/><path d="M1098.5,1391h13M1378.5,1391h-13" stroke="#727272" stroke-width="3"/><path d="M1098.5,1484h13M1378.5,1484h-13" stroke="#727272" stroke-width="3"/><path d="M1098.5,1577h13M1378.5,1577h-13" stroke="#727272" stroke-width="3"/><text x="1145.3" y="1661" font-size="37" fill="#111" text-anchor="middle" >−1</text><text x="1238.3" y="1661" font-size="37" fill="#111" text-anchor="middle" >0</text><text x="1332.1" y="1661" font-size="37" fill="#111" text-anchor="middle" >1</text><text x="1093.5" y="1404" font-size="37" fill="#111" text-anchor="end" >1</text><text x="1093.5" y="1497" font-size="37" fill="#111" text-anchor="end" >0</text><text x="1093.5" y="1590" font-size="37" fill="#111" text-anchor="end" >−1</text><text x="1238.4" y="1712" font-size="38.3" fill="#111" text-anchor="middle"><tspan font-style="italic">x</tspan><tspan font-size="24" dy="8">1</tspan><tspan dy="-8"> (a.u.)</tspan></text><text transform="translate(1035.5,1484.8) rotate(-90)" font-size="38.3" fill="#111" text-anchor="middle"><tspan font-style="italic">x</tspan><tspan font-size="24" dy="8">2</tspan><tspan dy="-8"> (a.u.)</tspan></text><g clip-path="url(#cs31)"><use href="#mB" x="560.4" y="1578.9"/><use href="#mB" x="560.5" y="1591.4"/><use href="#mB" x="561.5" y="1580.8"/><use href="#mB" x="562" y="1591.4"/><use href="#mB" x="562.7" y="1583.2"/><use href="#mB" x="562.9" y="1582.4"/><use href="#mB" x="563.5" y="1588.2"/><use href="#mB" x="564.2" y="1585"/><use href="#mB" x="565.2" y="1588.2"/><use href="#mB" x="565.5" y="1576.6"/><use href="#mB" x="566.2" y="1574.5"/><use href="#mB" x="567.1" y="1594.6"/><use href="#mB" x="567.5" y="1588.1"/><use href="#mB" x="567.8" y="1582.2"/><use href="#mB" x="568.5" y="1587.7"/><use href="#mB" x="569" y="1579.2"/><use href="#mB" x="569.7" y="1575.1"/><use href="#mB" x="570.3" y="1607.1"/><use href="#mB" x="570.7" y="1594.3"/><use href="#mB" x="571.8" y="1579.5"/><use href="#mB" x="572.4" y="1585.9"/><use href="#mB" x="572.8" y="1590.6"/><use href="#mB" x="573.4" y="1586"/><use href="#mB" x="574" y="1584.6"/><use href="#mB" x="574.7" y="1575.6"/><use href="#mB" x="575.4" y="1592.4"/><use href="#mB" x="575.8" y="1586"/><use href="#mB" x="576.2" y="1576.5"/><use href="#mB" x="577.1" y="1577.7"/><use href="#mB" x="577.7" y="1586.4"/><use href="#mB" x="578.4" y="1587.7"/><use href="#mB" x="578.9" y="1598.5"/><use href="#mB" x="579.3" y="1595.9"/><use href="#mB" x="579.7" y="1588.9"/><use href="#mB" x="580.5" y="1576"/><use href="#mB" x="581.2" y="1574.7"/><use href="#mB" x="581.9" y="1571.1"/><use href="#mB" x="582.5" y="1574.2"/><use href="#mB" x="583" y="1574.5"/><use href="#mB" x="583.6" y="1577.2"/><use href="#mB" x="584" y="1583.9"/><use href="#mB" x="584.7" y="1570"/><use href="#mB" x="585.3" y="1581.8"/><use href="#mB" x="585.7" y="1589.8"/><use href="#mB" x="586.8" y="1572.9"/><use href="#mB" x="586.9" y="1575.2"/><use href="#mB" x="588" y="1558.4"/><use href="#mB" x="588.5" y="1576.5"/><use href="#mB" x="588.8" y="1572.2"/><use href="#mB" x="589.5" y="1581.2"/><use href="#mB" x="590" y="1568.3"/><use href="#mB" x="590.8" y="1570.1"/><use href="#mB" x="591.1" y="1577.6"/><use href="#mB" x="591.9" y="1570.9"/><use href="#mB" x="592.7" y="1579.8"/><use href="#mB" x="593.1" y="1565.7"/><use href="#mB" x="593.8" y="1571.1"/><use href="#mB" x="594.3" y="1566.2"/><use href="#mB" x="595" y="1575.8"/><use href="#mB" x="595.8" y="1577"/><use href="#mB" x="596.2" y="1572.7"/><use href="#mB" x="597" y="1566.6"/><use href="#mB" x="597.5" y="1569.9"/><use href="#mB" x="598" y="1588.6"/><use href="#mB" x="598.5" y="1566.2"/><use href="#mB" x="599.3" y="1572.9"/><use href="#mB" x="599.9" y="1567.6"/><use href="#mB" x="600.2" y="1562.4"/><use href="#mB" x="601" y="1565"/><use href="#mB" x="601.5" y="1575.2"/><use href="#mB" x="602.4" y="1571.6"/><use href="#mB" x="602.6" y="1567.4"/><use href="#mB" x="603.3" y="1560.9"/><use href="#mB" x="604.1" y="1574.7"/><use href="#mB" x="604.5" y="1574"/><use href="#mB" x="605" y="1576.1"/><use href="#mB" x="605.6" y="1565.8"/><use href="#mB" x="606.5" y="1572.2"/><use href="#mB" x="607" y="1549.7"/><use href="#mB" x="607.4" y="1561.7"/><use href="#mB" x="608" y="1559.4"/><use href="#mB" x="608.8" y="1565.7"/><use href="#mB" x="609.5" y="1573.3"/><use href="#mB" x="610" y="1587.4"/><use href="#mB" x="610.3" y="1559.1"/><use href="#mB" x="611.2" y="1568.7"/><use href="#mB" x="612" y="1584.7"/><use href="#mB" x="612.3" y="1550.9"/><use href="#mB" x="613.1" y="1564"/><use href="#mB" x="613.8" y="1558.1"/><use href="#mB" x="614" y="1571.2"/><use href="#mB" x="614.7" y="1582"/><use href="#mB" x="615.2" y="1575.4"/><use href="#mB" x="615.9" y="1564.7"/><use href="#mB" x="616.6" y="1581.2"/><use href="#mB" x="617.3" y="1569.1"/><use href="#mB" x="617.5" y="1559.3"/><use href="#mB" x="618.6" y="1559.9"/><use href="#mB" x="618.7" y="1567.8"/><use href="#mB" x="619.8" y="1585.3"/><use href="#mB" x="620.1" y="1566.5"/><use href="#mB" x="620.5" y="1554.2"/><use href="#mB" x="621.1" y="1556.8"/><use href="#mB" x="621.7" y="1565"/><use href="#mB" x="622.3" y="1559.8"/><use href="#mB" x="623.4" y="1559.4"/><use href="#mB" x="623.8" y="1566.7"/><use href="#mB" x="624.2" y="1567.5"/><use href="#mB" x="624.7" y="1569"/><use href="#mB" x="625.6" y="1568.1"/><use href="#mB" x="626.1" y="1559.9"/><use href="#mB" x="626.5" y="1559.7"/><use href="#mB" x="627.2" y="1554"/><use href="#mB" x="628.1" y="1553.8"/><use href="#mB" x="628.3" y="1559.4"/><use href="#mB" x="629.3" y="1575.6"/><use href="#mB" x="630" y="1557.6"/><use href="#mB" x="630.5" y="1565.6"/><use href="#mB" x="630.7" y="1547.4"/><use href="#mB" x="631.7" y="1561.7"/><use href="#mB" x="632.2" y="1542.1"/><use href="#mB" x="632.5" y="1553.4"/><use href="#mB" x="633.1" y="1548.5"/><use href="#mB" x="633.9" y="1559.1"/><use href="#mB" x="634.5" y="1554.9"/><use href="#mB" x="635.2" y="1559.8"/><use href="#mB" x="635.8" y="1560.6"/><use href="#mB" x="636.4" y="1559.6"/><use href="#mB" x="636.8" y="1551.3"/><use href="#mB" x="637.8" y="1561.2"/><use href="#mB" x="638.3" y="1545.6"/><use href="#mB" x="638.6" y="1553.4"/><use href="#mB" x="639.5" y="1546.8"/><use href="#mB" x="640.1" y="1557"/><use href="#mB" x="640.4" y="1549.3"/><use href="#mB" x="641.3" y="1561.7"/><use href="#mB" x="641.8" y="1555.2"/><use href="#mB" x="642.4" y="1552.8"/><use href="#mB" x="642.8" y="1558.8"/><use href="#mB" x="643.2" y="1552.6"/><use href="#mB" x="644.3" y="1549.5"/><use href="#mB" x="644.9" y="1547.9"/><use href="#mB" x="645.3" y="1563.4"/><use href="#mB" x="646" y="1551.5"/><use href="#mB" x="646.7" y="1553.5"/><use href="#mB" x="646.8" y="1558.9"/><use href="#mB" x="647.5" y="1560.3"/><use href="#mB" x="648.1" y="1540.2"/><use href="#mB" x="649.2" y="1547"/><use href="#mB" x="649.5" y="1546.5"/><use href="#mB" x="650" y="1544.4"/><use href="#mB" x="650.9" y="1559.2"/><use href="#mB" x="651.3" y="1554.4"/><use href="#mB" x="651.9" y="1565.2"/><use href="#mB" x="652.8" y="1551"/><use href="#mB" x="653.2" y="1565.9"/><use href="#mB" x="653.6" y="1557.7"/><use href="#mB" x="654.2" y="1548.1"/><use href="#mB" x="655" y="1550.6"/><use href="#mB" x="655.4" y="1559.1"/><use href="#mB" x="656.1" y="1558.9"/><use href="#mB" x="656.8" y="1542"/><use href="#mB" x="657.2" y="1548"/><use href="#mB" x="658" y="1554.1"/><use href="#mB" x="658.8" y="1549"/><use href="#mB" x="659.3" y="1549.8"/><use href="#mB" x="659.5" y="1559.9"/><use href="#mB" x="660.4" y="1554.6"/><use href="#mB" x="660.8" y="1564.7"/><use href="#mB" x="661.5" y="1550"/><use href="#mB" x="661.8" y="1551.4"/><use href="#mB" x="663" y="1544.6"/><use href="#mB" x="663.5" y="1542.8"/><use href="#mB" x="664.1" y="1551.8"/><use href="#mB" x="664.3" y="1537.5"/><use href="#mB" x="665" y="1551.7"/><use href="#mB" x="665.7" y="1539.3"/><use href="#mB" x="666.3" y="1549.9"/><use href="#mB" x="667.1" y="1551.8"/><use href="#mB" x="667.6" y="1554.5"/><use href="#mB" x="668.3" y="1548"/><use href="#mB" x="668.4" y="1530.3"/><use href="#mB" x="669.1" y="1546.4"/><use href="#mB" x="669.7" y="1544.4"/><use href="#mB" x="670.7" y="1547.8"/><use href="#mB" x="671.3" y="1540.4"/><use href="#mB" x="671.8" y="1537.9"/><use href="#mB" x="672.1" y="1540.5"/><use href="#mB" x="673" y="1534.1"/><use href="#mB" x="673.5" y="1543.4"/><use href="#mB" x="674.2" y="1540.4"/><use href="#mB" x="674.6" y="1533"/><use href="#mB" x="675.4" y="1538.4"/><use href="#mB" x="676.1" y="1547.3"/><use href="#mB" x="676.7" y="1534"/><use href="#mB" x="677.3" y="1538.5"/><use href="#mB" x="677.4" y="1548.5"/><use href="#mB" x="678.4" y="1547.6"/><use href="#mB" x="678.7" y="1544.8"/><use href="#mB" x="679.3" y="1537.6"/><use href="#mB" x="680.1" y="1540.2"/><use href="#mB" x="680.9" y="1534.3"/><use href="#mB" x="681.5" y="1521.7"/><use href="#mB" x="681.8" y="1527"/><use href="#mB" x="682.7" y="1536.5"/><use href="#mB" x="683.1" y="1542.3"/><use href="#mB" x="683.4" y="1526.3"/><use href="#mB" x="684.4" y="1540.4"/><use href="#mB" x="684.9" y="1540.6"/><use href="#mB" x="685.3" y="1536"/><use href="#mB" x="685.9" y="1532.8"/><use href="#mB" x="686.7" y="1535.9"/><use href="#mB" x="687.4" y="1533.6"/><use href="#mB" x="688.1" y="1552.3"/><use href="#mB" x="688.7" y="1536.7"/><use href="#mB" x="689.2" y="1533.2"/><use href="#mB" x="689.7" y="1526.6"/><use href="#mB" x="690.1" y="1528.8"/><use href="#mB" x="691" y="1532.1"/><use href="#mB" x="691.3" y="1510.8"/><use href="#mB" x="692.1" y="1518.5"/><use href="#mB" x="692.9" y="1518.4"/><use href="#mB" x="693.4" y="1518.9"/><use href="#mB" x="693.7" y="1517.1"/><use href="#mB" x="694.6" y="1524.9"/><use href="#mB" x="695" y="1527.8"/><use href="#mB" x="695.8" y="1519.3"/><use href="#mB" x="696.2" y="1532.4"/><use href="#mB" x="697" y="1515"/><use href="#mB" x="697.4" y="1518.4"/><use href="#mB" x="697.8" y="1509.6"/><use href="#mB" x="698.4" y="1513.5"/><use href="#mB" x="699.1" y="1517.7"/><use href="#mB" x="700.1" y="1516"/><use href="#mB" x="700.5" y="1514.1"/><use href="#mB" x="701.2" y="1501.7"/><use href="#mB" x="701.6" y="1499.5"/><use href="#mB" x="702.4" y="1508.1"/><use href="#mB" x="703.1" y="1505.1"/><use href="#mB" x="703.7" y="1512.3"/><use href="#mB" x="704.1" y="1495.7"/><use href="#mB" x="704.6" y="1504.5"/><use href="#mB" x="705.2" y="1511.1"/><use href="#mB" x="705.7" y="1515.8"/><use href="#mB" x="706.7" y="1502.8"/><use href="#mB" x="707.2" y="1493"/><use href="#mB" x="707.8" y="1501.8"/><use href="#mB" x="708.1" y="1509.1"/><use href="#mB" x="708.6" y="1507.9"/><use href="#mB" x="709.5" y="1505.4"/><use href="#mB" x="709.9" y="1517"/><use href="#mB" x="710.7" y="1493.3"/><use href="#mB" x="711" y="1502.5"/><use href="#mB" x="711.8" y="1509"/><use href="#mB" x="712.6" y="1514.6"/><use href="#mB" x="713" y="1491.6"/><use href="#mB" x="713.7" y="1488.8"/><use href="#mB" x="714.1" y="1478.8"/><use href="#mB" x="714.8" y="1480.9"/><use href="#mB" x="715.7" y="1488.1"/><use href="#mB" x="716.3" y="1495"/><use href="#mB" x="716.8" y="1481.9"/><use href="#mB" x="717.2" y="1485.5"/><use href="#mB" x="718" y="1475.2"/><use href="#mB" x="718.5" y="1479.9"/><use href="#mB" x="718.9" y="1470.4"/><use href="#mB" x="719.9" y="1462.5"/><use href="#mB" x="720.1" y="1467.2"/><use href="#mB" x="720.8" y="1462.7"/><use href="#mB" x="721.7" y="1459.5"/><use href="#mB" x="722.1" y="1445.3"/><use href="#mB" x="722.9" y="1435.1"/><use href="#mB" x="723.5" y="1437.7"/><use href="#mB" x="723.8" y="1448.1"/><use href="#mB" x="724.4" y="1434.4"/><use href="#mB" x="725.1" y="1436.9"/><use href="#mB" x="725.8" y="1425.3"/><use href="#mB" x="726.1" y="1417.8"/><use href="#mB" x="726.9" y="1417.2"/><use href="#mB" x="727.2" y="1425"/><use href="#mB" x="727.8" y="1406.4"/><use href="#mB" x="728.4" y="1406.3"/><use href="#mB" x="729.1" y="1395.8"/><use href="#mB" x="729.7" y="1394.7"/><use href="#mB" x="730.6" y="1393.3"/><use href="#mB" x="730.9" y="1398.7"/><use href="#mB" x="731.4" y="1390.9"/><use href="#mB" x="732" y="1401.1"/><use href="#mB" x="733.1" y="1408.3"/><use href="#mB" x="733.3" y="1401.9"/><use href="#mB" x="734.2" y="1404.4"/><use href="#mB" x="734.5" y="1404.1"/><use href="#mB" x="735.1" y="1406.6"/><use href="#mB" x="736" y="1412.6"/><use href="#mB" x="736.3" y="1414.8"/><use href="#mB" x="737.3" y="1419.2"/><use href="#mB" x="737.7" y="1422.1"/><use href="#mB" x="738" y="1423.1"/><use href="#mB" x="738.9" y="1441.9"/><use href="#mB" x="739.5" y="1435"/><use href="#mB" x="739.9" y="1439.5"/><use href="#mB" x="740.7" y="1442.2"/><use href="#mB" x="741" y="1449.9"/><use href="#mB" x="741.9" y="1448"/><use href="#mB" x="742.7" y="1456.7"/><use href="#mB" x="742.7" y="1468.6"/><use href="#mB" x="743.7" y="1468.7"/><use href="#mB" x="744.2" y="1470.8"/><use href="#mB" x="745" y="1483.3"/><use href="#mB" x="745.3" y="1493"/><use href="#mB" x="745.7" y="1482.1"/><use href="#mB" x="746.3" y="1481.5"/><use href="#mB" x="747.2" y="1484.8"/><use href="#mB" x="747.6" y="1479.5"/><use href="#mB" x="748.4" y="1487.3"/><use href="#mB" x="748.9" y="1478"/><use href="#mB" x="749.5" y="1494.8"/><use href="#mB" x="750.4" y="1481.4"/><use href="#mB" x="750.6" y="1495.5"/><use href="#mB" x="751.1" y="1489.2"/><use href="#mB" x="751.9" y="1506.1"/><use href="#mB" x="752.4" y="1499.7"/><use href="#mB" x="753.1" y="1487.2"/><use href="#mB" x="753.7" y="1496.3"/><use href="#mB" x="754.2" y="1497.7"/><use href="#mB" x="754.9" y="1503.8"/><use href="#mB" x="755.7" y="1493.9"/><use href="#mB" x="755.9" y="1506.9"/><use href="#mB" x="756.6" y="1490.7"/><use href="#mB" x="757.3" y="1496.2"/><use href="#mB" x="758.1" y="1507.1"/><use href="#mB" x="758.5" y="1510.1"/><use href="#mB" x="759.2" y="1508.2"/><use href="#mB" x="759.7" y="1504.8"/><use href="#mB" x="760.3" y="1505.5"/><use href="#mB" x="761.2" y="1516.5"/><use href="#mB" x="761.9" y="1504.8"/><use href="#mB" x="762.3" y="1517.5"/><use href="#mB" x="762.7" y="1496.8"/><use href="#mB" x="763.2" y="1523.2"/><use href="#mB" x="763.9" y="1501.6"/><use href="#mB" x="764.4" y="1517.4"/><use href="#mB" x="765.1" y="1508"/><use href="#mB" x="765.5" y="1501.3"/><use href="#mB" x="766.5" y="1505.6"/><use href="#mB" x="767" y="1516.3"/><use href="#mB" x="767.7" y="1517"/><use href="#mB" x="768" y="1496.1"/><use href="#mB" x="768.7" y="1513"/><use href="#mB" x="769.4" y="1503.7"/><use href="#mB" x="769.8" y="1501.7"/><use href="#mB" x="770.7" y="1523"/><use href="#mB" x="771.5" y="1499.5"/><use href="#mB" x="771.7" y="1515.6"/><use href="#mB" x="772.3" y="1519.5"/><use href="#mB" x="772.7" y="1524.6"/><use href="#mB" x="773.4" y="1516.1"/><use href="#mB" x="774.3" y="1517.2"/><use href="#mB" x="774.9" y="1512.5"/><use href="#mB" x="775.5" y="1516.4"/><use href="#mB" x="776" y="1517"/><use href="#mB" x="776.8" y="1525.1"/><use href="#mB" x="777.4" y="1525.5"/><use href="#mB" x="777.6" y="1522.9"/><use href="#mB" x="778.3" y="1521.3"/><use href="#mB" x="778.9" y="1512.8"/><use href="#mB" x="779.5" y="1515.6"/><use href="#mB" x="780.2" y="1521.7"/><use href="#mB" x="780.8" y="1528.1"/><use href="#mB" x="781.1" y="1536"/><use href="#mB" x="782.1" y="1526"/><use href="#mB" x="782.5" y="1525.7"/><use href="#mB" x="783.2" y="1539.8"/><use href="#mB" x="783.6" y="1531.2"/><use href="#mB" x="784.6" y="1529.7"/><use href="#mB" x="784.7" y="1527.8"/><use href="#mB" x="785.5" y="1538.8"/><use href="#mB" x="785.9" y="1532.8"/><use href="#mB" x="786.7" y="1538.6"/><use href="#mB" x="787.6" y="1524.7"/><use href="#mB" x="787.7" y="1527.1"/><use href="#mB" x="788.7" y="1511.1"/><use href="#mB" x="788.9" y="1535"/><use href="#mB" x="789.7" y="1520.1"/><use href="#mB" x="790.1" y="1533.4"/><use href="#mB" x="791" y="1532.4"/><use href="#mB" x="791.7" y="1527.3"/><use href="#mB" x="792.3" y="1547.3"/><use href="#mB" x="792.6" y="1543.4"/><use href="#mB" x="793.3" y="1523.9"/><use href="#mB" x="793.8" y="1527.6"/><use href="#mB" x="794.5" y="1521.5"/><use href="#mB" x="795.1" y="1530.9"/><use href="#mB" x="795.6" y="1538"/><use href="#mB" x="796.5" y="1529"/><use href="#mB" x="797.2" y="1537.9"/><use href="#mB" x="797.5" y="1538.6"/><use href="#mB" x="798.1" y="1540.1"/><use href="#mB" x="799" y="1546.7"/><use href="#mB" x="799.5" y="1526.8"/><use href="#mB" x="800.1" y="1537.1"/><use href="#mB" x="800.7" y="1539.2"/><use href="#mB" x="801" y="1537"/><use href="#mB" x="801.9" y="1546.4"/><use href="#mB" x="802.2" y="1545.9"/><use href="#mB" x="803.1" y="1542"/><use href="#mB" x="803.5" y="1542.4"/><use href="#mB" x="804.4" y="1560.1"/><use href="#mB" x="804.9" y="1537.2"/><use href="#mB" x="805.1" y="1560.1"/><use href="#mB" x="805.7" y="1553.4"/><use href="#mB" x="806.8" y="1557.4"/><use href="#mB" x="807" y="1547.4"/><use href="#mB" x="807.8" y="1562.1"/><use href="#mB" x="808.1" y="1541.8"/><use href="#mB" x="808.8" y="1544.1"/><use href="#mB" x="809.6" y="1543.2"/><use href="#mB" x="809.9" y="1542.5"/><use href="#mB" x="810.7" y="1550.9"/><use href="#mB" x="811.2" y="1547.6"/><use href="#mB" x="811.9" y="1556.6"/><use href="#mB" x="812.6" y="1554.3"/><use href="#mB" x="813" y="1549.7"/><use href="#mB" x="813.5" y="1559.8"/><use href="#mB" x="814.1" y="1554.9"/><use href="#mB" x="814.7" y="1555.5"/><use href="#mB" x="815.7" y="1546.5"/><use href="#mB" x="816.1" y="1551.1"/><use href="#mB" x="816.7" y="1558.8"/><use href="#mB" x="817.1" y="1551.7"/><use href="#mB" x="817.7" y="1544.5"/><use href="#mB" x="818.7" y="1550.2"/><use href="#mB" x="819.4" y="1559"/><use href="#mB" x="819.8" y="1560.3"/><use href="#mB" x="820.2" y="1569.6"/><use href="#mB" x="820.9" y="1565.3"/><use href="#mB" x="821.3" y="1559.9"/><use href="#mB" x="822" y="1559.4"/><use href="#mB" x="823" y="1572.7"/><use href="#mB" x="823.5" y="1573.5"/><use href="#mB" x="823.9" y="1571.6"/><use href="#mB" x="824.6" y="1573.2"/><use href="#mB" x="825.4" y="1573.1"/><use href="#mB" x="826" y="1569.2"/><use href="#mB" x="826.4" y="1577.7"/><use href="#mB" x="827" y="1573.5"/><use href="#mB" x="827.7" y="1582"/><use href="#mB" x="828" y="1570.2"/><use href="#mB" x="828.7" y="1566.7"/><use href="#mB" x="829.6" y="1572.2"/><use href="#mB" x="830" y="1580.4"/><use href="#mB" x="830.7" y="1554.8"/><use href="#mB" x="831" y="1578.8"/><use href="#mB" x="831.9" y="1571.5"/><use href="#mB" x="832.2" y="1590.6"/><use href="#mB" x="832.7" y="1582.2"/><use href="#mB" x="833.7" y="1576.8"/><use href="#mB" x="834.2" y="1578.5"/><use href="#mB" x="834.5" y="1576.9"/><use href="#mB" x="835.2" y="1578.1"/><use href="#mB" x="836.1" y="1584.2"/><use href="#mB" x="836.5" y="1585.4"/><use href="#mB" x="837.2" y="1581"/><use href="#mB" x="837.7" y="1584.7"/><use href="#mB" x="838.4" y="1584.8"/><use href="#mB" x="838.8" y="1578.1"/><use href="#mB" x="839.5" y="1579.9"/><use href="#mB" x="840" y="1585"/><use href="#mB" x="840.9" y="1575.2"/><use href="#mB" x="841.1" y="1583.3"/><use href="#mB" x="842.2" y="1585.4"/><use href="#mB" x="842.4" y="1578.1"/><use href="#mB" x="843" y="1582.6"/><use href="#mB" x="843.8" y="1596"/><use href="#mB" x="844.4" y="1582.3"/><use href="#mB" x="844.8" y="1596.6"/><use href="#mB" x="845.8" y="1588"/><use href="#mB" x="846.3" y="1584"/><use href="#mB" x="847" y="1581.6"/><use href="#mB" x="847.5" y="1592.5"/><use href="#mR" x="560" y="1557.5"/><use href="#mR" x="561" y="1557.9"/><use href="#mR" x="561.5" y="1538.5"/><use href="#mR" x="562.2" y="1542.2"/><use href="#mR" x="562.8" y="1542"/><use href="#mR" x="563.5" y="1552.1"/><use href="#mR" x="563.9" y="1550.4"/><use href="#mR" x="564.4" y="1549.3"/><use href="#mR" x="565" y="1559.4"/><use href="#mR" x="565.6" y="1544"/><use href="#mR" x="566.4" y="1549.7"/><use href="#mR" x="566.8" y="1544.9"/><use href="#mR" x="567.4" y="1566.1"/><use href="#mR" x="567.7" y="1567.1"/><use href="#mR" x="568.5" y="1551.3"/><use href="#mR" x="569.2" y="1549.6"/><use href="#mR" x="569.5" y="1544.4"/><use href="#mR" x="570.3" y="1550.3"/><use href="#mR" x="570.7" y="1554"/><use href="#mR" x="571.6" y="1554.8"/><use href="#mR" x="572.3" y="1541.1"/><use href="#mR" x="572.7" y="1545.6"/><use href="#mR" x="573.4" y="1534.4"/><use href="#mR" x="573.9" y="1546.9"/><use href="#mR" x="574.7" y="1543.3"/><use href="#mR" x="575.3" y="1547.4"/><use href="#mR" x="576" y="1549.6"/><use href="#mR" x="576.5" y="1543.1"/><use href="#mR" x="576.7" y="1553.9"/><use href="#mR" x="577.7" y="1550.1"/><use href="#mR" x="578" y="1542.8"/><use href="#mR" x="578.8" y="1551.9"/><use href="#mR" x="579.4" y="1562.4"/><use href="#mR" x="579.9" y="1551.9"/><use href="#mR" x="580.7" y="1553.7"/><use href="#mR" x="581" y="1542.6"/><use href="#mR" x="581.8" y="1552.3"/><use href="#mR" x="582.6" y="1549.5"/><use href="#mR" x="583" y="1542.6"/><use href="#mR" x="583.7" y="1546.7"/><use href="#mR" x="584.2" y="1539.6"/><use href="#mR" x="584.8" y="1541.2"/><use href="#mR" x="585.6" y="1542.6"/><use href="#mR" x="585.7" y="1537.6"/><use href="#mR" x="586.6" y="1540.1"/><use href="#mR" x="587.1" y="1545.2"/><use href="#mR" x="587.9" y="1534.9"/><use href="#mR" x="588.4" y="1541.9"/><use href="#mR" x="589.2" y="1540.1"/><use href="#mR" x="589.5" y="1544.2"/><use href="#mR" x="590" y="1539.9"/><use href="#mR" x="590.6" y="1545.8"/><use href="#mR" x="591.3" y="1538.2"/><use href="#mR" x="591.8" y="1538.7"/><use href="#mR" x="592.4" y="1542.3"/><use href="#mR" x="593.3" y="1540.8"/><use href="#mR" x="593.6" y="1543.7"/><use href="#mR" x="594.3" y="1537.7"/><use href="#mR" x="595.1" y="1527.6"/><use href="#mR" x="595.7" y="1542.6"/><use href="#mR" x="596.3" y="1540.6"/><use href="#mR" x="597" y="1548.4"/><use href="#mR" x="597.2" y="1539"/><use href="#mR" x="597.8" y="1534.3"/><use href="#mR" x="598.8" y="1530.4"/><use href="#mR" x="599.4" y="1540.9"/><use href="#mR" x="599.8" y="1538.1"/><use href="#mR" x="600.6" y="1534"/><use href="#mR" x="600.7" y="1514.2"/><use href="#mR" x="601.6" y="1532.5"/><use href="#mR" x="602.2" y="1530.6"/><use href="#mR" x="602.8" y="1534.1"/><use href="#mR" x="603.3" y="1530.7"/><use href="#mR" x="603.7" y="1545.7"/><use href="#mR" x="604.5" y="1534.4"/><use href="#mR" x="605" y="1535.7"/><use href="#mR" x="605.5" y="1532.5"/><use href="#mR" x="606.6" y="1533.5"/><use href="#mR" x="606.9" y="1517.9"/><use href="#mR" x="607.6" y="1526.3"/><use href="#mR" x="608.4" y="1533.5"/><use href="#mR" x="608.6" y="1544.6"/><use href="#mR" x="609.3" y="1518"/><use href="#mR" x="609.9" y="1533.9"/><use href="#mR" x="610.7" y="1537.1"/><use href="#mR" x="611.1" y="1533.4"/><use href="#mR" x="611.8" y="1531.4"/><use href="#mR" x="612.3" y="1520.5"/><use href="#mR" x="612.9" y="1528.4"/><use href="#mR" x="613.4" y="1525.6"/><use href="#mR" x="614.4" y="1524.5"/><use href="#mR" x="614.7" y="1517.3"/><use href="#mR" x="615.1" y="1522.9"/><use href="#mR" x="616" y="1527.4"/><use href="#mR" x="616.3" y="1531.4"/><use href="#mR" x="616.9" y="1537.2"/><use href="#mR" x="618" y="1530.4"/><use href="#mR" x="618.4" y="1544.4"/><use href="#mR" x="619" y="1516.2"/><use href="#mR" x="619.5" y="1529.9"/><use href="#mR" x="620.1" y="1527.8"/><use href="#mR" x="620.8" y="1519.9"/><use href="#mR" x="621.5" y="1527.7"/><use href="#mR" x="621.8" y="1523.9"/><use href="#mR" x="622.4" y="1531.3"/><use href="#mR" x="622.9" y="1527.8"/><use href="#mR" x="623.9" y="1526.6"/><use href="#mR" x="624.4" y="1514.1"/><use href="#mR" x="624.7" y="1537.4"/><use href="#mR" x="625.8" y="1531.9"/><use href="#mR" x="626.2" y="1522.5"/><use href="#mR" x="626.5" y="1521.2"/><use href="#mR" x="627.4" y="1524"/><use href="#mR" x="628.1" y="1521"/><use href="#mR" x="628.4" y="1520.1"/><use href="#mR" x="629" y="1513.7"/><use href="#mR" x="629.7" y="1526.7"/><use href="#mR" x="630.4" y="1517.4"/><use href="#mR" x="631" y="1506.1"/><use href="#mR" x="631.3" y="1507.5"/><use href="#mR" x="631.9" y="1516.7"/><use href="#mR" x="632.6" y="1507.9"/><use href="#mR" x="633.2" y="1519.6"/><use href="#mR" x="633.6" y="1509.6"/><use href="#mR" x="634.5" y="1508"/><use href="#mR" x="634.9" y="1508.6"/><use href="#mR" x="635.7" y="1504.3"/><use href="#mR" x="636.2" y="1506"/><use href="#mR" x="636.9" y="1495.3"/><use href="#mR" x="637.7" y="1495.2"/><use href="#mR" x="638" y="1495.9"/><use href="#mR" x="638.8" y="1493"/><use href="#mR" x="639.3" y="1494.2"/><use href="#mR" x="640" y="1500.6"/><use href="#mR" x="640.3" y="1497.4"/><use href="#mR" x="641.3" y="1502.4"/><use href="#mR" x="641.9" y="1514.1"/><use href="#mR" x="642.5" y="1494.2"/><use href="#mR" x="643.1" y="1503"/><use href="#mR" x="643.7" y="1502.3"/><use href="#mR" x="644.3" y="1486.7"/><use href="#mR" x="644.5" y="1502.1"/><use href="#mR" x="645.3" y="1500"/><use href="#mR" x="645.8" y="1508.3"/><use href="#mR" x="646.5" y="1493.8"/><use href="#mR" x="647.3" y="1494.3"/><use href="#mR" x="647.6" y="1500.3"/><use href="#mR" x="648" y="1487.8"/><use href="#mR" x="648.6" y="1494.3"/><use href="#mR" x="649.4" y="1499.6"/><use href="#mR" x="650.3" y="1495.2"/><use href="#mR" x="650.5" y="1492.1"/><use href="#mR" x="651.1" y="1490.6"/><use href="#mR" x="652.2" y="1486.5"/><use href="#mR" x="652.3" y="1495.6"/><use href="#mR" x="653" y="1494.5"/><use href="#mR" x="653.9" y="1499.5"/><use href="#mR" x="654.2" y="1488.4"/><use href="#mR" x="655" y="1472"/><use href="#mR" x="655.7" y="1478"/><use href="#mR" x="655.9" y="1495.2"/><use href="#mR" x="656.4" y="1489.3"/><use href="#mR" x="657.3" y="1476.7"/><use href="#mR" x="658.1" y="1486.2"/><use href="#mR" x="658.7" y="1486"/><use href="#mR" x="658.9" y="1492.3"/><use href="#mR" x="659.5" y="1468.1"/><use href="#mR" x="660.3" y="1471.8"/><use href="#mR" x="660.8" y="1485.7"/><use href="#mR" x="661.7" y="1471.7"/><use href="#mR" x="662.3" y="1482.5"/><use href="#mR" x="662.7" y="1476.1"/><use href="#mR" x="663.5" y="1465.8"/><use href="#mR" x="663.8" y="1481"/><use href="#mR" x="664.5" y="1476.7"/><use href="#mR" x="665.2" y="1475.3"/><use href="#mR" x="665.7" y="1467.3"/><use href="#mR" x="666.1" y="1460.5"/><use href="#mR" x="667.1" y="1457.6"/><use href="#mR" x="667.7" y="1450.1"/><use href="#mR" x="668.2" y="1448.5"/><use href="#mR" x="668.4" y="1455.4"/><use href="#mR" x="669.1" y="1466.7"/><use href="#mR" x="669.7" y="1461.2"/><use href="#mR" x="670.5" y="1451.5"/><use href="#mR" x="671.3" y="1451.4"/><use href="#mR" x="671.5" y="1450.9"/><use href="#mR" x="672.5" y="1452"/><use href="#mR" x="672.7" y="1448.9"/><use href="#mR" x="673.7" y="1454"/><use href="#mR" x="674.3" y="1445.7"/><use href="#mR" x="674.5" y="1440.3"/><use href="#mR" x="675.4" y="1429.9"/><use href="#mR" x="676.1" y="1425.2"/><use href="#mR" x="676.5" y="1428.5"/><use href="#mR" x="677.1" y="1427.7"/><use href="#mR" x="677.6" y="1421.1"/><use href="#mR" x="678.1" y="1416.1"/><use href="#mR" x="678.7" y="1414.5"/><use href="#mR" x="679.5" y="1409.6"/><use href="#mR" x="680" y="1403.8"/><use href="#mR" x="680.5" y="1398.9"/><use href="#mR" x="681.4" y="1398.6"/><use href="#mR" x="681.9" y="1404.9"/><use href="#mR" x="682.3" y="1405.5"/><use href="#mR" x="683.1" y="1407.2"/><use href="#mR" x="683.5" y="1413.3"/><use href="#mR" x="684.5" y="1419.3"/><use href="#mR" x="684.7" y="1423.7"/><use href="#mR" x="685.7" y="1423.4"/><use href="#mR" x="686.2" y="1424.4"/><use href="#mR" x="686.4" y="1428.7"/><use href="#mR" x="687.3" y="1440.5"/><use href="#mR" x="687.8" y="1433.7"/><use href="#mR" x="688.6" y="1445.9"/><use href="#mR" x="689.2" y="1441.6"/><use href="#mR" x="689.5" y="1449.2"/><use href="#mR" x="690.1" y="1447.2"/><use href="#mR" x="690.9" y="1453.9"/><use href="#mR" x="691.7" y="1456.2"/><use href="#mR" x="692.3" y="1462.5"/><use href="#mR" x="692.7" y="1463.6"/><use href="#mR" x="693.5" y="1456.1"/><use href="#mR" x="694.1" y="1468.1"/><use href="#mR" x="694.2" y="1453.5"/><use href="#mR" x="695.1" y="1476.6"/><use href="#mR" x="695.8" y="1469.6"/><use href="#mR" x="696.3" y="1472.9"/><use href="#mR" x="696.8" y="1458"/><use href="#mR" x="697.7" y="1474.5"/><use href="#mR" x="697.9" y="1474.5"/><use href="#mR" x="698.5" y="1479.3"/><use href="#mR" x="699.4" y="1471.6"/><use href="#mR" x="700" y="1478.7"/><use href="#mR" x="700.5" y="1476.8"/><use href="#mR" x="701.2" y="1489.6"/><use href="#mR" x="701.5" y="1479.8"/><use href="#mR" x="702.1" y="1480.1"/><use href="#mR" x="702.7" y="1484.1"/><use href="#mR" x="703.5" y="1470.6"/><use href="#mR" x="704.2" y="1465.4"/><use href="#mR" x="704.8" y="1483.7"/><use href="#mR" x="705.5" y="1487.8"/><use href="#mR" x="705.8" y="1479"/><use href="#mR" x="706.3" y="1479.9"/><use href="#mR" x="706.9" y="1495"/><use href="#mR" x="707.4" y="1484.5"/><use href="#mR" x="708" y="1495.9"/><use href="#mR" x="708.9" y="1498.3"/><use href="#mR" x="709.5" y="1497.9"/><use href="#mR" x="709.9" y="1490.1"/><use href="#mR" x="710.8" y="1496.5"/><use href="#mR" x="711.4" y="1493.6"/><use href="#mR" x="711.7" y="1496.7"/><use href="#mR" x="712.2" y="1509.2"/><use href="#mR" x="712.9" y="1487.2"/><use href="#mR" x="713.7" y="1498.5"/><use href="#mR" x="714.5" y="1503.5"/><use href="#mR" x="715" y="1507.8"/><use href="#mR" x="715.3" y="1512.1"/><use href="#mR" x="716.2" y="1499.8"/><use href="#mR" x="716.6" y="1494.9"/><use href="#mR" x="717.1" y="1504.3"/><use href="#mR" x="717.6" y="1505.9"/><use href="#mR" x="718.3" y="1502.6"/><use href="#mR" x="718.8" y="1529.8"/><use href="#mR" x="719.4" y="1506.9"/><use href="#mR" x="720.1" y="1511.9"/><use href="#mR" x="721" y="1503.4"/><use href="#mR" x="721.6" y="1498.7"/><use href="#mR" x="722.3" y="1508.6"/><use href="#mR" x="722.8" y="1515.8"/><use href="#mR" x="723" y="1501.8"/><use href="#mR" x="723.9" y="1507"/><use href="#mR" x="724.3" y="1505.6"/><use href="#mR" x="724.9" y="1505.2"/><use href="#mR" x="725.5" y="1512.4"/><use href="#mR" x="726.2" y="1517.6"/><use href="#mR" x="726.7" y="1513.1"/><use href="#mR" x="727.5" y="1512.5"/><use href="#mR" x="728" y="1504.2"/><use href="#mR" x="728.8" y="1513.1"/><use href="#mR" x="729" y="1506.5"/><use href="#mR" x="729.7" y="1507.9"/><use href="#mR" x="730.4" y="1513.6"/><use href="#mR" x="731.1" y="1532.6"/><use href="#mR" x="731.6" y="1526.9"/><use href="#mR" x="732.1" y="1512.8"/><use href="#mR" x="732.9" y="1513.5"/><use href="#mR" x="733.5" y="1523.5"/><use href="#mR" x="734.2" y="1527.9"/><use href="#mR" x="734.8" y="1501.3"/><use href="#mR" x="735.4" y="1520.5"/><use href="#mR" x="735.9" y="1531.2"/><use href="#mR" x="736.4" y="1515.6"/><use href="#mR" x="736.9" y="1508.6"/><use href="#mR" x="737.8" y="1538.4"/><use href="#mR" x="738.3" y="1524.6"/><use href="#mR" x="738.9" y="1528.2"/><use href="#mR" x="739.3" y="1523.5"/><use href="#mR" x="740.2" y="1520.2"/><use href="#mR" x="740.9" y="1530.5"/><use href="#mR" x="740.9" y="1529.9"/><use href="#mR" x="742" y="1531.1"/><use href="#mR" x="742.2" y="1514.6"/><use href="#mR" x="743.3" y="1515.7"/><use href="#mR" x="743.7" y="1531.3"/><use href="#mR" x="744.4" y="1513.7"/><use href="#mR" x="745" y="1528.8"/><use href="#mR" x="745.4" y="1523.5"/><use href="#mR" x="745.8" y="1527.1"/><use href="#mR" x="746.7" y="1527.4"/><use href="#mR" x="747.4" y="1517.8"/><use href="#mR" x="747.8" y="1528.4"/><use href="#mR" x="748.7" y="1537.1"/><use href="#mR" x="748.9" y="1520.7"/><use href="#mR" x="749.5" y="1519"/><use href="#mR" x="750.2" y="1531.5"/><use href="#mR" x="751" y="1519.7"/><use href="#mR" x="751.5" y="1518.4"/><use href="#mR" x="751.8" y="1536"/><use href="#mR" x="752.4" y="1545.6"/><use href="#mR" x="753.5" y="1543.6"/><use href="#mR" x="753.7" y="1546.4"/><use href="#mR" x="754.4" y="1539.9"/><use href="#mR" x="755.2" y="1523.8"/><use href="#mR" x="755.9" y="1539.1"/><use href="#mR" x="756.2" y="1540.9"/><use href="#mR" x="756.7" y="1527.1"/><use href="#mR" x="757.5" y="1540.4"/><use href="#mR" x="758.2" y="1535.8"/><use href="#mR" x="758.3" y="1525"/><use href="#mR" x="759.3" y="1548.6"/><use href="#mR" x="759.8" y="1547.3"/><use href="#mR" x="760.2" y="1539.4"/><use href="#mR" x="761.2" y="1538"/><use href="#mR" x="761.7" y="1538.5"/><use href="#mR" x="762.4" y="1537.7"/><use href="#mR" x="762.8" y="1548.5"/><use href="#mR" x="763.3" y="1542.8"/><use href="#mR" x="764" y="1547.7"/><use href="#mR" x="764.5" y="1538"/><use href="#mR" x="765" y="1532.3"/><use href="#mR" x="765.6" y="1531.7"/><use href="#mR" x="766.2" y="1534"/><use href="#mR" x="767.1" y="1528.9"/><use href="#mR" x="767.5" y="1545.7"/><use href="#mR" x="768.4" y="1539.1"/><use href="#mR" x="768.8" y="1535.5"/><use href="#mR" x="769.6" y="1551.4"/><use href="#mR" x="770" y="1522.2"/><use href="#mR" x="770.6" y="1545.1"/><use href="#mR" x="771.4" y="1534.7"/><use href="#mR" x="771.9" y="1544.4"/><use href="#mR" x="772.5" y="1543"/><use href="#mR" x="773.1" y="1543.2"/><use href="#mR" x="773.5" y="1533.1"/><use href="#mR" x="774.3" y="1545.2"/><use href="#mR" x="775.1" y="1538.5"/><use href="#mR" x="775.6" y="1539"/><use href="#mR" x="775.9" y="1540.6"/><use href="#mR" x="776.8" y="1538.9"/><use href="#mR" x="777.2" y="1549.8"/><use href="#mR" x="777.7" y="1557.1"/><use href="#mR" x="778.3" y="1549.3"/><use href="#mR" x="779" y="1553.5"/><use href="#mR" x="779.8" y="1564.6"/><use href="#mR" x="780.1" y="1539.7"/><use href="#mR" x="780.7" y="1561.4"/><use href="#mR" x="781.5" y="1538.1"/><use href="#mR" x="781.8" y="1558.1"/><use href="#mR" x="782.8" y="1556.1"/><use href="#mR" x="783" y="1545.9"/><use href="#mR" x="783.8" y="1544.5"/><use href="#mR" x="784.4" y="1542.5"/><use href="#mR" x="784.8" y="1552"/><use href="#mR" x="785.3" y="1554.9"/><use href="#mR" x="786.4" y="1572"/><use href="#mR" x="787" y="1553.2"/><use href="#mR" x="787.5" y="1555"/><use href="#mR" x="788.1" y="1552.2"/><use href="#mR" x="788.4" y="1548"/><use href="#mR" x="789" y="1543.6"/><use href="#mR" x="789.8" y="1560.8"/><use href="#mR" x="790.5" y="1553.4"/><use href="#mR" x="791.2" y="1553.7"/><use href="#mR" x="791.4" y="1563.6"/><use href="#mR" x="792.4" y="1545.9"/><use href="#mR" x="792.8" y="1554.7"/><use href="#mR" x="793.3" y="1564.1"/><use href="#mR" x="794.2" y="1550.6"/><use href="#mR" x="794.3" y="1553.9"/><use href="#mR" x="795" y="1552.1"/><use href="#mR" x="795.8" y="1565.7"/><use href="#mR" x="796.1" y="1565.8"/><use href="#mR" x="797.1" y="1555.2"/><use href="#mR" x="797.8" y="1549.1"/><use href="#mR" x="798.2" y="1561.3"/><use href="#mR" x="798.7" y="1553.4"/><use href="#mR" x="799.3" y="1557.8"/><use href="#mR" x="800" y="1552.9"/><use href="#mR" x="800.4" y="1547.1"/><use href="#mR" x="801.2" y="1546.3"/><use href="#mR" x="801.8" y="1542.9"/><use href="#mR" x="802.3" y="1539"/><use href="#mR" x="803.2" y="1557.6"/><use href="#mR" x="803.7" y="1544.4"/><use href="#mR" x="804.2" y="1554.7"/><use href="#mR" x="804.9" y="1553.1"/><use href="#mR" x="805.1" y="1556.8"/><use href="#mR" x="806" y="1550.9"/><use href="#mR" x="806.6" y="1563.6"/><use href="#mR" x="807.3" y="1561.8"/><use href="#mR" x="807.8" y="1557.7"/><use href="#mR" x="808.1" y="1561.5"/><use href="#mR" x="808.8" y="1568.7"/><use href="#mR" x="809.3" y="1555.2"/><use href="#mR" x="809.9" y="1557.9"/><use href="#mR" x="810.6" y="1564.6"/><use href="#mR" x="811.1" y="1556.5"/><use href="#mR" x="812" y="1549.8"/><use href="#mR" x="812.4" y="1567.7"/><use href="#mR" x="813" y="1553.2"/><use href="#mR" x="814" y="1567.4"/><use href="#mR" x="814.6" y="1555.8"/><use href="#mR" x="814.7" y="1558.7"/><use href="#mR" x="815.3" y="1572.3"/><use href="#mR" x="816.2" y="1551.4"/><use href="#mR" x="816.9" y="1572.3"/><use href="#mR" x="817.2" y="1577.3"/><use href="#mR" x="818" y="1571.6"/><use href="#mR" x="818.8" y="1566.5"/><use href="#mR" x="819" y="1571.3"/><use href="#mR" x="819.9" y="1572.8"/><use href="#mR" x="820.2" y="1559.4"/><use href="#mR" x="821.1" y="1563.5"/><use href="#mR" x="821.5" y="1571.4"/><use href="#mR" x="822.3" y="1554.3"/><use href="#mR" x="822.5" y="1580.7"/><use href="#mR" x="823.4" y="1574"/><use href="#mR" x="823.7" y="1576.6"/><use href="#mR" x="824.8" y="1571.6"/><use href="#mR" x="825.1" y="1567.3"/><use href="#mR" x="825.5" y="1562.7"/><use href="#mR" x="826.2" y="1573"/><use href="#mR" x="826.8" y="1563.7"/><use href="#mR" x="827.7" y="1569.2"/><use href="#mR" x="828" y="1554.5"/><use href="#mR" x="828.9" y="1576.3"/><use href="#mR" x="829.1" y="1571.3"/><use href="#mR" x="829.9" y="1566.2"/><use href="#mR" x="830.7" y="1563.7"/><use href="#mR" x="831.3" y="1568.2"/><use href="#mR" x="831.6" y="1569"/><use href="#mR" x="832.4" y="1558.6"/><use href="#mR" x="833.1" y="1571.2"/><use href="#mR" x="833.6" y="1570.5"/><use href="#mR" x="834" y="1576.4"/><use href="#mR" x="834.8" y="1564.7"/><use href="#mR" x="835.1" y="1571.1"/><use href="#mR" x="835.8" y="1583.5"/><use href="#mR" x="836.8" y="1583.4"/><use href="#mR" x="837" y="1588"/><use href="#mR" x="837.8" y="1570.6"/><use href="#mR" x="838.2" y="1570.1"/><use href="#mR" x="838.7" y="1564.5"/><use href="#mR" x="839.7" y="1577.3"/><use href="#mR" x="840" y="1591.1"/><use href="#mR" x="840.6" y="1571.7"/><use href="#mR" x="841.4" y="1574.9"/><use href="#mR" x="841.7" y="1575.6"/><use href="#mR" x="842.6" y="1569.6"/><use href="#mR" x="842.9" y="1582.2"/><use href="#mR" x="843.6" y="1574.4"/><use href="#mR" x="844.3" y="1575.5"/><use href="#mR" x="845.1" y="1571.5"/><use href="#mR" x="845.8" y="1563.9"/><use href="#mR" x="846" y="1582.2"/><use href="#mR" x="846.9" y="1572"/><use href="#mR" x="847.2" y="1574.3"/></g><rect x="563" y="1345" width="281.5" height="280" fill="none" stroke="#727272" stroke-width="3"/><path d="M591.1,1625v-13M591.1,1345v13" stroke="#727272" stroke-width="3"/><path d="M703.8,1625v-13M703.8,1345v13" stroke="#727272" stroke-width="3"/><path d="M816.4,1625v-13M816.4,1345v13" stroke="#727272" stroke-width="3"/><path d="M563,1431.2h13M844.5,1431.2h-13" stroke="#727272" stroke-width="3"/><path d="M563,1517.3h13M844.5,1517.3h-13" stroke="#727272" stroke-width="3"/><path d="M563,1603.5h13M844.5,1603.5h-13" stroke="#727272" stroke-width="3"/><text x="591.1" y="1661" font-size="37" fill="#111" text-anchor="middle" >−400</text><text x="703.8" y="1661" font-size="37" fill="#111" text-anchor="middle" >0</text><text x="816.4" y="1661" font-size="37" fill="#111" text-anchor="middle" >400</text><text x="559" y="1358" font-size="37" fill="#111" text-anchor="end" >−50</text><text x="559" y="1444.2" font-size="37" fill="#111" text-anchor="end" >−70</text><text x="559" y="1530.3" font-size="37" fill="#111" text-anchor="end" >−90</text><text x="559" y="1616.5" font-size="37" fill="#111" text-anchor="end" >−110</text><text x="704.2" y="1712.3" font-size="38.3" fill="#111" text-anchor="middle" >Frequency (Hz)</text><text transform="translate(457,1485.0) rotate(-90)" font-size="38.3" fill="#111" text-anchor="middle">Spectrum (dBm)</text><g clip-path="url(#cs32)"><use href="#mB" x="1559.5" y="1561.3"/><use href="#mB" x="1560.3" y="1568.7"/><use href="#mB" x="1560.8" y="1576.1"/><use href="#mB" x="1561.4" y="1563.4"/><use href="#mB" x="1562.2" y="1578"/><use href="#mB" x="1562.9" y="1557.4"/><use href="#mB" x="1563.5" y="1569.4"/><use href="#mB" x="1564" y="1570.3"/><use href="#mB" x="1564.7" y="1568.2"/><use href="#mB" x="1565.1" y="1561.6"/><use href="#mB" x="1565.6" y="1560.9"/><use href="#mB" x="1566.3" y="1558"/><use href="#mB" x="1566.9" y="1560.9"/><use href="#mB" x="1567.7" y="1560.1"/><use href="#mB" x="1568" y="1552.9"/><use href="#mB" x="1568.7" y="1550.7"/><use href="#mB" x="1569.2" y="1556.9"/><use href="#mB" x="1569.7" y="1555.1"/><use href="#mB" x="1570.2" y="1553.3"/><use href="#mB" x="1570.9" y="1558.4"/><use href="#mB" x="1571.7" y="1559.7"/><use href="#mB" x="1572.5" y="1564.5"/><use href="#mB" x="1572.6" y="1559.6"/><use href="#mB" x="1573.4" y="1543.9"/><use href="#mB" x="1574.2" y="1560.4"/><use href="#mB" x="1574.9" y="1563.3"/><use href="#mB" x="1575.1" y="1556"/><use href="#mB" x="1575.6" y="1554.7"/><use href="#mB" x="1576.2" y="1555.1"/><use href="#mB" x="1576.9" y="1561"/><use href="#mB" x="1577.6" y="1551.5"/><use href="#mB" x="1578.3" y="1557.4"/><use href="#mB" x="1578.6" y="1557"/><use href="#mB" x="1579.7" y="1555"/><use href="#mB" x="1580.1" y="1560.9"/><use href="#mB" x="1580.7" y="1557.2"/><use href="#mB" x="1581.5" y="1551.3"/><use href="#mB" x="1581.8" y="1562.1"/><use href="#mB" x="1582.3" y="1558.2"/><use href="#mB" x="1583.2" y="1553.2"/><use href="#mB" x="1583.8" y="1553.9"/><use href="#mB" x="1584.3" y="1554.2"/><use href="#mB" x="1585" y="1561.2"/><use href="#mB" x="1585.2" y="1560.1"/><use href="#mB" x="1586.3" y="1551.3"/><use href="#mB" x="1586.5" y="1552.9"/><use href="#mB" x="1587.3" y="1561.2"/><use href="#mB" x="1587.7" y="1549.5"/><use href="#mB" x="1588.4" y="1548.7"/><use href="#mB" x="1589.3" y="1539.2"/><use href="#mB" x="1589.5" y="1548.1"/><use href="#mB" x="1590.5" y="1548.1"/><use href="#mB" x="1590.8" y="1554.6"/><use href="#mB" x="1591.6" y="1546.5"/><use href="#mB" x="1592" y="1550.2"/><use href="#mB" x="1592.5" y="1535.4"/><use href="#mB" x="1593.4" y="1553.7"/><use href="#mB" x="1593.7" y="1544.4"/><use href="#mB" x="1594.6" y="1553.8"/><use href="#mB" x="1594.9" y="1559"/><use href="#mB" x="1595.5" y="1549.2"/><use href="#mB" x="1596.3" y="1548.2"/><use href="#mB" x="1596.7" y="1538.7"/><use href="#mB" x="1597.5" y="1543.6"/><use href="#mB" x="1597.8" y="1546.7"/><use href="#mB" x="1598.4" y="1550.5"/><use href="#mB" x="1599" y="1552.6"/><use href="#mB" x="1600" y="1549.4"/><use href="#mB" x="1600.6" y="1547.5"/><use href="#mB" x="1601.1" y="1552.2"/><use href="#mB" x="1601.8" y="1552.1"/><use href="#mB" x="1601.9" y="1545.8"/><use href="#mB" x="1602.9" y="1553.1"/><use href="#mB" x="1603.1" y="1549.7"/><use href="#mB" x="1603.8" y="1551.6"/><use href="#mB" x="1604.3" y="1552.9"/><use href="#mB" x="1605" y="1537.6"/><use href="#mB" x="1605.5" y="1537.8"/><use href="#mB" x="1606.6" y="1544.7"/><use href="#mB" x="1606.8" y="1552.6"/><use href="#mB" x="1607.6" y="1542.7"/><use href="#mB" x="1608.2" y="1543.7"/><use href="#mB" x="1608.7" y="1542.4"/><use href="#mB" x="1609.4" y="1542.3"/><use href="#mB" x="1610" y="1547.6"/><use href="#mB" x="1610.8" y="1529.4"/><use href="#mB" x="1611.1" y="1541"/><use href="#mB" x="1611.6" y="1543.5"/><use href="#mB" x="1612.6" y="1539.6"/><use href="#mB" x="1613" y="1541.6"/><use href="#mB" x="1613.6" y="1542.5"/><use href="#mB" x="1614.3" y="1543.9"/><use href="#mB" x="1615" y="1536.7"/><use href="#mB" x="1615.4" y="1534.6"/><use href="#mB" x="1616" y="1532.1"/><use href="#mB" x="1616.8" y="1536.4"/><use href="#mB" x="1617.3" y="1536.7"/><use href="#mB" x="1617.5" y="1549.5"/><use href="#mB" x="1618.5" y="1552"/><use href="#mB" x="1618.8" y="1543.1"/><use href="#mB" x="1619.4" y="1533.7"/><use href="#mB" x="1620.3" y="1529.1"/><use href="#mB" x="1620.9" y="1539.6"/><use href="#mB" x="1621.6" y="1545.6"/><use href="#mB" x="1622" y="1542.6"/><use href="#mB" x="1622.4" y="1542"/><use href="#mB" x="1622.9" y="1547.4"/><use href="#mB" x="1623.5" y="1540.9"/><use href="#mB" x="1624.1" y="1533.7"/><use href="#mB" x="1624.8" y="1540.2"/><use href="#mB" x="1625.6" y="1537"/><use href="#mB" x="1626.2" y="1524.7"/><use href="#mB" x="1626.6" y="1533.5"/><use href="#mB" x="1627.3" y="1533.2"/><use href="#mB" x="1628" y="1541.1"/><use href="#mB" x="1628.4" y="1532.4"/><use href="#mB" x="1628.9" y="1546.7"/><use href="#mB" x="1629.5" y="1526.9"/><use href="#mB" x="1630" y="1534.4"/><use href="#mB" x="1630.7" y="1540"/><use href="#mB" x="1631.7" y="1537.1"/><use href="#mB" x="1632.1" y="1536.3"/><use href="#mB" x="1632.4" y="1550.1"/><use href="#mB" x="1633.2" y="1536.6"/><use href="#mB" x="1633.9" y="1534.6"/><use href="#mB" x="1634.4" y="1543.1"/><use href="#mB" x="1634.8" y="1533.8"/><use href="#mB" x="1635.5" y="1530.3"/><use href="#mB" x="1636.1" y="1546.6"/><use href="#mB" x="1636.8" y="1539.9"/><use href="#mB" x="1637.5" y="1531.5"/><use href="#mB" x="1637.9" y="1521.2"/><use href="#mB" x="1638.6" y="1535.7"/><use href="#mB" x="1639.2" y="1532.5"/><use href="#mB" x="1640.1" y="1536.3"/><use href="#mB" x="1640.3" y="1531.2"/><use href="#mB" x="1641.2" y="1529.2"/><use href="#mB" x="1641.7" y="1535.2"/><use href="#mB" x="1642.5" y="1526.6"/><use href="#mB" x="1643.1" y="1510.8"/><use href="#mB" x="1643.2" y="1520.8"/><use href="#mB" x="1643.8" y="1532.1"/><use href="#mB" x="1644.7" y="1529.1"/><use href="#mB" x="1645.1" y="1540.2"/><use href="#mB" x="1645.8" y="1533.3"/><use href="#mB" x="1646.4" y="1535"/><use href="#mB" x="1647.1" y="1538.7"/><use href="#mB" x="1647.6" y="1544.6"/><use href="#mB" x="1648" y="1522.5"/><use href="#mB" x="1649" y="1526.4"/><use href="#mB" x="1649.6" y="1536.3"/><use href="#mB" x="1649.9" y="1523.8"/><use href="#mB" x="1650.4" y="1524.2"/><use href="#mB" x="1651.1" y="1536.7"/><use href="#mB" x="1651.6" y="1519.9"/><use href="#mB" x="1652.3" y="1543"/><use href="#mB" x="1653.3" y="1521.8"/><use href="#mB" x="1653.7" y="1532.4"/><use href="#mB" x="1654.1" y="1523.9"/><use href="#mB" x="1655.1" y="1536.7"/><use href="#mB" x="1655.2" y="1523.1"/><use href="#mB" x="1655.8" y="1516.8"/><use href="#mB" x="1656.6" y="1517"/><use href="#mB" x="1657.1" y="1523.8"/><use href="#mB" x="1657.8" y="1523.1"/><use href="#mB" x="1658.2" y="1529.9"/><use href="#mB" x="1659.2" y="1528"/><use href="#mB" x="1659.8" y="1522.4"/><use href="#mB" x="1660.2" y="1530.6"/><use href="#mB" x="1660.8" y="1519.8"/><use href="#mB" x="1661.4" y="1524.1"/><use href="#mB" x="1662.2" y="1518.1"/><use href="#mB" x="1662.4" y="1514.8"/><use href="#mB" x="1663.2" y="1520.7"/><use href="#mB" x="1663.8" y="1524.9"/><use href="#mB" x="1664.5" y="1516.5"/><use href="#mB" x="1665.1" y="1521.8"/><use href="#mB" x="1665.8" y="1517.1"/><use href="#mB" x="1666" y="1515.3"/><use href="#mB" x="1666.6" y="1522.8"/><use href="#mB" x="1667.3" y="1510.6"/><use href="#mB" x="1667.8" y="1521.2"/><use href="#mB" x="1668.6" y="1513"/><use href="#mB" x="1669.5" y="1508.1"/><use href="#mB" x="1669.7" y="1509.3"/><use href="#mB" x="1670.2" y="1507.2"/><use href="#mB" x="1671.2" y="1496.7"/><use href="#mB" x="1671.4" y="1507"/><use href="#mB" x="1672" y="1504.2"/><use href="#mB" x="1672.5" y="1498.4"/><use href="#mB" x="1673.2" y="1514.9"/><use href="#mB" x="1674.2" y="1506.4"/><use href="#mB" x="1674.6" y="1497.6"/><use href="#mB" x="1675.2" y="1499.2"/><use href="#mB" x="1675.6" y="1505.4"/><use href="#mB" x="1676.3" y="1495.6"/><use href="#mB" x="1676.7" y="1495.1"/><use href="#mB" x="1677.5" y="1497.6"/><use href="#mB" x="1678" y="1490.5"/><use href="#mB" x="1678.9" y="1505.6"/><use href="#mB" x="1679.4" y="1492"/><use href="#mB" x="1680.2" y="1495.3"/><use href="#mB" x="1680.3" y="1497.2"/><use href="#mB" x="1681.3" y="1504.4"/><use href="#mB" x="1681.8" y="1476.8"/><use href="#mB" x="1682.2" y="1507.8"/><use href="#mB" x="1682.8" y="1488.7"/><use href="#mB" x="1683.6" y="1490.2"/><use href="#mB" x="1684" y="1475.7"/><use href="#mB" x="1684.7" y="1489.5"/><use href="#mB" x="1685.2" y="1485.2"/><use href="#mB" x="1686" y="1480.9"/><use href="#mB" x="1686.3" y="1476.8"/><use href="#mB" x="1687" y="1473.3"/><use href="#mB" x="1687.7" y="1474.3"/><use href="#mB" x="1688.2" y="1489.6"/><use href="#mB" x="1689" y="1478.6"/><use href="#mB" x="1689.4" y="1470.1"/><use href="#mB" x="1690.3" y="1465.5"/><use href="#mB" x="1690.6" y="1463.1"/><use href="#mB" x="1691.4" y="1470.5"/><use href="#mB" x="1691.7" y="1467.6"/><use href="#mB" x="1692.6" y="1462.4"/><use href="#mB" x="1692.9" y="1454.8"/><use href="#mB" x="1694" y="1448.7"/><use href="#mB" x="1694.4" y="1450.9"/><use href="#mB" x="1695.1" y="1440.6"/><use href="#mB" x="1695.3" y="1444"/><use href="#mB" x="1695.9" y="1437.8"/><use href="#mB" x="1696.6" y="1444.6"/><use href="#mB" x="1697.1" y="1441.4"/><use href="#mB" x="1697.9" y="1426.8"/><use href="#mB" x="1698.5" y="1429"/><use href="#mB" x="1699" y="1417.3"/><use href="#mB" x="1699.6" y="1417.8"/><use href="#mB" x="1700.2" y="1422.8"/><use href="#mB" x="1700.7" y="1416.7"/><use href="#mB" x="1701.7" y="1408.6"/><use href="#mB" x="1702.1" y="1408"/><use href="#mB" x="1702.8" y="1406.7"/><use href="#mB" x="1703" y="1397.3"/><use href="#mB" x="1703.8" y="1394"/><use href="#mB" x="1704.6" y="1405.1"/><use href="#mB" x="1704.8" y="1406.3"/><use href="#mB" x="1705.4" y="1411.2"/><use href="#mB" x="1706.1" y="1408.3"/><use href="#mB" x="1707" y="1418.4"/><use href="#mB" x="1707.6" y="1425.8"/><use href="#mB" x="1708" y="1426.2"/><use href="#mB" x="1708.8" y="1437.8"/><use href="#mB" x="1709.4" y="1433.6"/><use href="#mB" x="1710.1" y="1438.9"/><use href="#mB" x="1710.7" y="1437.6"/><use href="#mB" x="1711.1" y="1443.1"/><use href="#mB" x="1711.9" y="1441.5"/><use href="#mB" x="1712" y="1442.1"/><use href="#mB" x="1712.7" y="1457.7"/><use href="#mB" x="1713.3" y="1457.9"/><use href="#mB" x="1714" y="1458.9"/><use href="#mB" x="1714.5" y="1463"/><use href="#mB" x="1715" y="1468.1"/><use href="#mB" x="1715.7" y="1467"/><use href="#mB" x="1716.2" y="1469.2"/><use href="#mB" x="1716.9" y="1468.6"/><use href="#mB" x="1717.4" y="1476.4"/><use href="#mB" x="1718.2" y="1476.1"/><use href="#mB" x="1719.1" y="1471"/><use href="#mB" x="1719.2" y="1479.2"/><use href="#mB" x="1720" y="1486.9"/><use href="#mB" x="1720.9" y="1493.1"/><use href="#mB" x="1721.4" y="1486.5"/><use href="#mB" x="1722.1" y="1493.6"/><use href="#mB" x="1722.4" y="1483.3"/><use href="#mB" x="1722.8" y="1491"/><use href="#mB" x="1723.4" y="1501.1"/><use href="#mB" x="1724.5" y="1488.5"/><use href="#mB" x="1724.9" y="1498.8"/><use href="#mB" x="1725.4" y="1490.5"/><use href="#mB" x="1725.8" y="1491.2"/><use href="#mB" x="1726.4" y="1489.4"/><use href="#mB" x="1727.5" y="1504.2"/><use href="#mB" x="1728" y="1498.8"/><use href="#mB" x="1728.4" y="1496.5"/><use href="#mB" x="1728.9" y="1478"/><use href="#mB" x="1729.8" y="1492.8"/><use href="#mB" x="1730.4" y="1497.1"/><use href="#mB" x="1730.6" y="1492"/><use href="#mB" x="1731.3" y="1502.9"/><use href="#mB" x="1731.8" y="1503.4"/><use href="#mB" x="1732.6" y="1510.4"/><use href="#mB" x="1733.1" y="1505"/><use href="#mB" x="1733.8" y="1523.1"/><use href="#mB" x="1734.2" y="1519.9"/><use href="#mB" x="1735.3" y="1501.6"/><use href="#mB" x="1735.4" y="1500.6"/><use href="#mB" x="1736.5" y="1508.2"/><use href="#mB" x="1737" y="1512.6"/><use href="#mB" x="1737.6" y="1500.4"/><use href="#mB" x="1738.2" y="1505.9"/><use href="#mB" x="1738.8" y="1518.6"/><use href="#mB" x="1739" y="1509.8"/><use href="#mB" x="1739.7" y="1507.6"/><use href="#mB" x="1740.3" y="1514.7"/><use href="#mB" x="1741.1" y="1524.8"/><use href="#mB" x="1741.5" y="1512.6"/><use href="#mB" x="1742.2" y="1509.9"/><use href="#mB" x="1742.6" y="1509.1"/><use href="#mB" x="1743.1" y="1517.8"/><use href="#mB" x="1744.1" y="1511.7"/><use href="#mB" x="1744.6" y="1516.2"/><use href="#mB" x="1745.4" y="1511.1"/><use href="#mB" x="1745.9" y="1525.8"/><use href="#mB" x="1746.5" y="1523.2"/><use href="#mB" x="1747.1" y="1515.1"/><use href="#mB" x="1747.5" y="1511.1"/><use href="#mB" x="1748.3" y="1518.4"/><use href="#mB" x="1748.9" y="1513.8"/><use href="#mB" x="1749.3" y="1517.8"/><use href="#mB" x="1749.9" y="1524.8"/><use href="#mB" x="1750.6" y="1510.9"/><use href="#mB" x="1751.2" y="1526.7"/><use href="#mB" x="1751.8" y="1530.5"/><use href="#mB" x="1752.5" y="1523.5"/><use href="#mB" x="1753.2" y="1519.7"/><use href="#mB" x="1753.7" y="1524"/><use href="#mB" x="1754.4" y="1530.7"/><use href="#mB" x="1754.6" y="1536.6"/><use href="#mB" x="1755.5" y="1524.6"/><use href="#mB" x="1756" y="1526.4"/><use href="#mB" x="1756.4" y="1532.1"/><use href="#mB" x="1757" y="1528.8"/><use href="#mB" x="1757.5" y="1518.6"/><use href="#mB" x="1758.6" y="1522.2"/><use href="#mB" x="1759" y="1545.1"/><use href="#mB" x="1759.6" y="1537.3"/><use href="#mB" x="1760" y="1524.1"/><use href="#mB" x="1760.8" y="1534.8"/><use href="#mB" x="1761.5" y="1545.7"/><use href="#mB" x="1761.9" y="1538.4"/><use href="#mB" x="1762.6" y="1525.5"/><use href="#mB" x="1763.3" y="1538.8"/><use href="#mB" x="1763.9" y="1530.2"/><use href="#mB" x="1764.5" y="1544"/><use href="#mB" x="1765.1" y="1532.5"/><use href="#mB" x="1765.8" y="1540.8"/><use href="#mB" x="1766.3" y="1537"/><use href="#mB" x="1766.8" y="1540.7"/><use href="#mB" x="1767.3" y="1543.7"/><use href="#mB" x="1768.2" y="1559.2"/><use href="#mB" x="1768.8" y="1536.2"/><use href="#mB" x="1768.9" y="1537.5"/><use href="#mB" x="1769.8" y="1541.7"/><use href="#mB" x="1770.3" y="1538.2"/><use href="#mB" x="1771" y="1549.3"/><use href="#mB" x="1771.2" y="1541.3"/><use href="#mB" x="1772.1" y="1554.5"/><use href="#mB" x="1772.7" y="1554.4"/><use href="#mB" x="1773.3" y="1542.9"/><use href="#mB" x="1773.7" y="1555.4"/><use href="#mB" x="1774.5" y="1536.3"/><use href="#mB" x="1774.9" y="1541.6"/><use href="#mB" x="1775.9" y="1539.4"/><use href="#mB" x="1776.3" y="1542.8"/><use href="#mB" x="1777" y="1536.8"/><use href="#mB" x="1777.4" y="1532.8"/><use href="#mB" x="1778.4" y="1548.3"/><use href="#mB" x="1778.5" y="1545.4"/><use href="#mB" x="1779.1" y="1538.9"/><use href="#mB" x="1779.7" y="1551.8"/><use href="#mB" x="1780.7" y="1539.9"/><use href="#mB" x="1781" y="1549.6"/><use href="#mB" x="1781.6" y="1546.5"/><use href="#mB" x="1782.4" y="1539.3"/><use href="#mB" x="1782.9" y="1538.5"/><use href="#mB" x="1783.6" y="1548.9"/><use href="#mB" x="1784.3" y="1533.3"/><use href="#mB" x="1784.4" y="1545.1"/><use href="#mB" x="1785.3" y="1547.5"/><use href="#mB" x="1786.1" y="1539.8"/><use href="#mB" x="1786.3" y="1543.3"/><use href="#mB" x="1787.3" y="1530.4"/><use href="#mB" x="1787.7" y="1546.9"/><use href="#mB" x="1788.1" y="1555.9"/><use href="#mB" x="1788.8" y="1556.7"/><use href="#mB" x="1789.6" y="1545.7"/><use href="#mB" x="1790.3" y="1539.7"/><use href="#mB" x="1790.5" y="1537.3"/><use href="#mB" x="1791.1" y="1536.7"/><use href="#mB" x="1791.7" y="1532.7"/><use href="#mB" x="1792.5" y="1540.2"/><use href="#mB" x="1793" y="1543.9"/><use href="#mB" x="1793.6" y="1519.9"/><use href="#mB" x="1794.3" y="1523.8"/><use href="#mB" x="1795.1" y="1544.4"/><use href="#mB" x="1795.7" y="1538"/><use href="#mB" x="1795.9" y="1540.3"/><use href="#mB" x="1796.5" y="1527.2"/><use href="#mB" x="1797.2" y="1533.3"/><use href="#mB" x="1798" y="1558.1"/><use href="#mB" x="1798.2" y="1543.7"/><use href="#mB" x="1799" y="1548.7"/><use href="#mB" x="1799.9" y="1542.9"/><use href="#mB" x="1800.5" y="1547.2"/><use href="#mB" x="1801.1" y="1541.5"/><use href="#mB" x="1801.4" y="1548.6"/><use href="#mB" x="1802.1" y="1538.8"/><use href="#mB" x="1802.6" y="1550"/><use href="#mB" x="1803.2" y="1539.8"/><use href="#mB" x="1804" y="1556.6"/><use href="#mB" x="1804.4" y="1545.7"/><use href="#mB" x="1805.2" y="1543.6"/><use href="#mB" x="1805.5" y="1544.5"/><use href="#mB" x="1806" y="1548.3"/><use href="#mB" x="1807" y="1553.3"/><use href="#mB" x="1807.5" y="1548.5"/><use href="#mB" x="1808" y="1552.6"/><use href="#mB" x="1808.4" y="1539"/><use href="#mB" x="1809.5" y="1543"/><use href="#mB" x="1809.6" y="1540.5"/><use href="#mB" x="1810.2" y="1541"/><use href="#mB" x="1810.8" y="1555.2"/><use href="#mB" x="1811.6" y="1550.2"/><use href="#mB" x="1812" y="1548.7"/><use href="#mB" x="1813" y="1553.1"/><use href="#mB" x="1813.2" y="1552.9"/><use href="#mB" x="1813.9" y="1554.7"/><use href="#mB" x="1814.7" y="1549.8"/><use href="#mB" x="1815.2" y="1533.8"/><use href="#mB" x="1815.8" y="1542.6"/><use href="#mB" x="1816.6" y="1544.3"/><use href="#mB" x="1817" y="1544.3"/><use href="#mB" x="1817.8" y="1553.5"/><use href="#mB" x="1818.1" y="1545.9"/><use href="#mB" x="1819.1" y="1549.8"/><use href="#mB" x="1819.6" y="1546.7"/><use href="#mB" x="1819.8" y="1552.9"/><use href="#mB" x="1820.7" y="1537.8"/><use href="#mB" x="1821.4" y="1560.3"/><use href="#mB" x="1821.7" y="1551.1"/><use href="#mB" x="1822.3" y="1553.1"/><use href="#mB" x="1822.9" y="1553.4"/><use href="#mB" x="1823.6" y="1542.8"/><use href="#mB" x="1824.2" y="1543.2"/><use href="#mB" x="1824.6" y="1548.3"/><use href="#mB" x="1825.6" y="1559.9"/><use href="#mB" x="1825.7" y="1547.2"/><use href="#mB" x="1826.4" y="1553.1"/><use href="#mB" x="1826.9" y="1564.8"/><use href="#mB" x="1827.7" y="1548.2"/><use href="#mB" x="1828.1" y="1552"/><use href="#mB" x="1829.2" y="1550.3"/><use href="#mB" x="1829.7" y="1546"/><use href="#mB" x="1830.3" y="1541.8"/><use href="#mB" x="1830.9" y="1558.2"/><use href="#mB" x="1831.4" y="1548.6"/><use href="#mB" x="1831.8" y="1547.6"/><use href="#mB" x="1832.5" y="1548.9"/><use href="#mB" x="1833.2" y="1551.3"/><use href="#mB" x="1833.9" y="1541.8"/><use href="#mB" x="1834.6" y="1556.7"/><use href="#mB" x="1835" y="1553.3"/><use href="#mB" x="1835.6" y="1540.2"/><use href="#mB" x="1836" y="1552.1"/><use href="#mB" x="1836.9" y="1547"/><use href="#mB" x="1837.4" y="1540.5"/><use href="#mB" x="1837.8" y="1557.6"/><use href="#mB" x="1838.3" y="1563.8"/><use href="#mB" x="1839.4" y="1572.3"/><use href="#mB" x="1839.5" y="1554.9"/><use href="#mB" x="1840.3" y="1554.6"/><use href="#mB" x="1840.9" y="1558.3"/><use href="#mB" x="1841.5" y="1550.7"/><use href="#mB" x="1841.9" y="1545.7"/><use href="#mB" x="1842.7" y="1552.5"/><use href="#mB" x="1843.6" y="1559.1"/><use href="#mB" x="1843.8" y="1566.2"/><use href="#mB" x="1844.8" y="1556.6"/><use href="#mB" x="1845.1" y="1554.8"/><use href="#mB" x="1845.8" y="1548.6"/><use href="#mB" x="1846.5" y="1564.6"/><use href="#mR" x="1559.7" y="1587.1"/><use href="#mR" x="1560.1" y="1573.7"/><use href="#mR" x="1560.9" y="1578.7"/><use href="#mR" x="1561.7" y="1566.2"/><use href="#mR" x="1562.2" y="1573.6"/><use href="#mR" x="1562.6" y="1583.7"/><use href="#mR" x="1563.5" y="1573"/><use href="#mR" x="1563.7" y="1580.1"/><use href="#mR" x="1564.6" y="1580.9"/><use href="#mR" x="1564.8" y="1569"/><use href="#mR" x="1565.7" y="1562"/><use href="#mR" x="1566.4" y="1562.7"/><use href="#mR" x="1567" y="1573.9"/><use href="#mR" x="1567.4" y="1565.9"/><use href="#mR" x="1568.3" y="1571.8"/><use href="#mR" x="1568.4" y="1577.3"/><use href="#mR" x="1569.1" y="1567.2"/><use href="#mR" x="1570" y="1569.3"/><use href="#mR" x="1570.3" y="1573.7"/><use href="#mR" x="1570.9" y="1565.4"/><use href="#mR" x="1571.8" y="1570.9"/><use href="#mR" x="1572.5" y="1563.1"/><use href="#mR" x="1572.8" y="1567.8"/><use href="#mR" x="1573.5" y="1573.5"/><use href="#mR" x="1574.2" y="1573.9"/><use href="#mR" x="1574.4" y="1570.6"/><use href="#mR" x="1575.2" y="1582.3"/><use href="#mR" x="1575.8" y="1569.9"/><use href="#mR" x="1576.2" y="1583.1"/><use href="#mR" x="1576.8" y="1577.8"/><use href="#mR" x="1577.4" y="1571.9"/><use href="#mR" x="1578" y="1574.8"/><use href="#mR" x="1579" y="1572.9"/><use href="#mR" x="1579.4" y="1593"/><use href="#mR" x="1580" y="1578.4"/><use href="#mR" x="1580.7" y="1565.2"/><use href="#mR" x="1581.4" y="1567.9"/><use href="#mR" x="1581.6" y="1577.5"/><use href="#mR" x="1582.2" y="1564.2"/><use href="#mR" x="1583" y="1564.5"/><use href="#mR" x="1583.4" y="1564.7"/><use href="#mR" x="1584" y="1582.5"/><use href="#mR" x="1584.8" y="1573.4"/><use href="#mR" x="1585.2" y="1570.9"/><use href="#mR" x="1586.2" y="1573.7"/><use href="#mR" x="1586.3" y="1568.7"/><use href="#mR" x="1587.2" y="1561"/><use href="#mR" x="1587.5" y="1572.2"/><use href="#mR" x="1588.6" y="1567.3"/><use href="#mR" x="1589" y="1578"/><use href="#mR" x="1589.5" y="1567.9"/><use href="#mR" x="1590.4" y="1572.9"/><use href="#mR" x="1590.7" y="1557.5"/><use href="#mR" x="1591.5" y="1574.2"/><use href="#mR" x="1592" y="1575.3"/><use href="#mR" x="1592.6" y="1567.2"/><use href="#mR" x="1593.5" y="1561.3"/><use href="#mR" x="1594" y="1569.3"/><use href="#mR" x="1594.4" y="1556.1"/><use href="#mR" x="1595" y="1558.9"/><use href="#mR" x="1595.5" y="1585.3"/><use href="#mR" x="1596.3" y="1558.2"/><use href="#mR" x="1597" y="1577.2"/><use href="#mR" x="1597.4" y="1567.4"/><use href="#mR" x="1598.2" y="1567.7"/><use href="#mR" x="1598.8" y="1560.7"/><use href="#mR" x="1599.3" y="1563.7"/><use href="#mR" x="1599.8" y="1565.8"/><use href="#mR" x="1600.4" y="1563.9"/><use href="#mR" x="1601" y="1564.1"/><use href="#mR" x="1601.3" y="1564.3"/><use href="#mR" x="1602.5" y="1572.1"/><use href="#mR" x="1602.6" y="1554.7"/><use href="#mR" x="1603.5" y="1575.2"/><use href="#mR" x="1604.1" y="1568.7"/><use href="#mR" x="1604.3" y="1586.9"/><use href="#mR" x="1605.4" y="1575.1"/><use href="#mR" x="1605.7" y="1568.1"/><use href="#mR" x="1606.2" y="1563.1"/><use href="#mR" x="1607.1" y="1570"/><use href="#mR" x="1607.4" y="1574.3"/><use href="#mR" x="1608.2" y="1546"/><use href="#mR" x="1608.8" y="1562.3"/><use href="#mR" x="1609.1" y="1566"/><use href="#mR" x="1609.8" y="1569.8"/><use href="#mR" x="1610.8" y="1562.6"/><use href="#mR" x="1611.1" y="1557.7"/><use href="#mR" x="1611.6" y="1563"/><use href="#mR" x="1612.3" y="1560.3"/><use href="#mR" x="1613.1" y="1572.2"/><use href="#mR" x="1613.3" y="1560"/><use href="#mR" x="1614" y="1557.3"/><use href="#mR" x="1614.6" y="1567.6"/><use href="#mR" x="1615.5" y="1560.2"/><use href="#mR" x="1616.1" y="1567.3"/><use href="#mR" x="1616.7" y="1573.6"/><use href="#mR" x="1617.4" y="1561.6"/><use href="#mR" x="1617.8" y="1575.5"/><use href="#mR" x="1618.2" y="1554.7"/><use href="#mR" x="1618.8" y="1556.1"/><use href="#mR" x="1619.3" y="1555"/><use href="#mR" x="1619.9" y="1563.8"/><use href="#mR" x="1620.8" y="1564.8"/><use href="#mR" x="1621.3" y="1557.7"/><use href="#mR" x="1622" y="1550.8"/><use href="#mR" x="1622.5" y="1550.9"/><use href="#mR" x="1623" y="1551.3"/><use href="#mR" x="1623.6" y="1560.1"/><use href="#mR" x="1624.4" y="1557.3"/><use href="#mR" x="1625.1" y="1559.6"/><use href="#mR" x="1625.3" y="1555.9"/><use href="#mR" x="1626" y="1555.6"/><use href="#mR" x="1626.5" y="1549.4"/><use href="#mR" x="1627.1" y="1557"/><use href="#mR" x="1627.8" y="1552.9"/><use href="#mR" x="1628.5" y="1548.9"/><use href="#mR" x="1628.9" y="1554"/><use href="#mR" x="1629.5" y="1564.2"/><use href="#mR" x="1630.1" y="1562.3"/><use href="#mR" x="1630.9" y="1552.4"/><use href="#mR" x="1631.6" y="1558.5"/><use href="#mR" x="1632.2" y="1554.8"/><use href="#mR" x="1632.9" y="1548.9"/><use href="#mR" x="1633.1" y="1551.2"/><use href="#mR" x="1633.8" y="1555.9"/><use href="#mR" x="1634.2" y="1553.1"/><use href="#mR" x="1635.2" y="1538.7"/><use href="#mR" x="1635.6" y="1562.5"/><use href="#mR" x="1636.4" y="1563.7"/><use href="#mR" x="1636.9" y="1548.6"/><use href="#mR" x="1637.5" y="1566.2"/><use href="#mR" x="1638.2" y="1558.4"/><use href="#mR" x="1638.7" y="1551.6"/><use href="#mR" x="1639.2" y="1555.8"/><use href="#mR" x="1639.6" y="1562.1"/><use href="#mR" x="1640.4" y="1545.2"/><use href="#mR" x="1640.8" y="1551.5"/><use href="#mR" x="1641.8" y="1554.1"/><use href="#mR" x="1642.3" y="1547.3"/><use href="#mR" x="1642.9" y="1558"/><use href="#mR" x="1643.3" y="1544"/><use href="#mR" x="1644.1" y="1555.4"/><use href="#mR" x="1644.9" y="1558.3"/><use href="#mR" x="1645" y="1549.2"/><use href="#mR" x="1646.1" y="1547.7"/><use href="#mR" x="1646.2" y="1542.9"/><use href="#mR" x="1647" y="1551.3"/><use href="#mR" x="1647.6" y="1544.1"/><use href="#mR" x="1648" y="1541"/><use href="#mR" x="1648.7" y="1543.8"/><use href="#mR" x="1649.4" y="1536.7"/><use href="#mR" x="1649.8" y="1538.9"/><use href="#mR" x="1650.4" y="1530.9"/><use href="#mR" x="1651.4" y="1535.5"/><use href="#mR" x="1651.9" y="1526.2"/><use href="#mR" x="1652.4" y="1533.2"/><use href="#mR" x="1653.2" y="1538.6"/><use href="#mR" x="1653.4" y="1534.3"/><use href="#mR" x="1654" y="1543.8"/><use href="#mR" x="1654.7" y="1535.5"/><use href="#mR" x="1655.4" y="1537.9"/><use href="#mR" x="1655.8" y="1547.4"/><use href="#mR" x="1656.5" y="1539.9"/><use href="#mR" x="1657.4" y="1547.8"/><use href="#mR" x="1657.7" y="1536.9"/><use href="#mR" x="1658.7" y="1529.4"/><use href="#mR" x="1659.1" y="1532.9"/><use href="#mR" x="1659.5" y="1526.9"/><use href="#mR" x="1660" y="1535.2"/><use href="#mR" x="1660.7" y="1535.3"/><use href="#mR" x="1661.3" y="1540.2"/><use href="#mR" x="1661.7" y="1528.6"/><use href="#mR" x="1662.4" y="1527.6"/><use href="#mR" x="1663.3" y="1531.9"/><use href="#mR" x="1663.8" y="1529.6"/><use href="#mR" x="1664.5" y="1530"/><use href="#mR" x="1664.9" y="1518.8"/><use href="#mR" x="1665.5" y="1527.4"/><use href="#mR" x="1666" y="1521.9"/><use href="#mR" x="1667.1" y="1524.5"/><use href="#mR" x="1667.5" y="1524.9"/><use href="#mR" x="1668" y="1532"/><use href="#mR" x="1668.6" y="1543.3"/><use href="#mR" x="1669.3" y="1538.5"/><use href="#mR" x="1669.7" y="1521.7"/><use href="#mR" x="1670.5" y="1521.8"/><use href="#mR" x="1670.8" y="1524.7"/><use href="#mR" x="1671.5" y="1524.1"/><use href="#mR" x="1672.4" y="1516.4"/><use href="#mR" x="1672.7" y="1523.5"/><use href="#mR" x="1673.2" y="1526.8"/><use href="#mR" x="1673.8" y="1516.3"/><use href="#mR" x="1674.7" y="1527.2"/><use href="#mR" x="1675" y="1511.3"/><use href="#mR" x="1675.6" y="1512.9"/><use href="#mR" x="1676.4" y="1515.5"/><use href="#mR" x="1677.1" y="1513.5"/><use href="#mR" x="1677.4" y="1508.9"/><use href="#mR" x="1677.9" y="1514.6"/><use href="#mR" x="1678.7" y="1500.9"/><use href="#mR" x="1679.4" y="1516.3"/><use href="#mR" x="1680" y="1508"/><use href="#mR" x="1680.8" y="1499.1"/><use href="#mR" x="1681.2" y="1505.2"/><use href="#mR" x="1681.5" y="1497"/><use href="#mR" x="1682.1" y="1487.3"/><use href="#mR" x="1683.1" y="1505.4"/><use href="#mR" x="1683.4" y="1505.6"/><use href="#mR" x="1683.9" y="1499.1"/><use href="#mR" x="1685" y="1495.2"/><use href="#mR" x="1685.2" y="1488.2"/><use href="#mR" x="1685.8" y="1499.2"/><use href="#mR" x="1686.5" y="1495.9"/><use href="#mR" x="1687.4" y="1493.1"/><use href="#mR" x="1687.5" y="1491.8"/><use href="#mR" x="1688.4" y="1481.2"/><use href="#mR" x="1688.9" y="1492.6"/><use href="#mR" x="1689.5" y="1482.7"/><use href="#mR" x="1690.1" y="1484"/><use href="#mR" x="1690.9" y="1481.7"/><use href="#mR" x="1691.1" y="1479.8"/><use href="#mR" x="1692.1" y="1479.5"/><use href="#mR" x="1692.4" y="1467.4"/><use href="#mR" x="1692.9" y="1475.2"/><use href="#mR" x="1693.8" y="1472.8"/><use href="#mR" x="1694.3" y="1462.5"/><use href="#mR" x="1695.2" y="1460"/><use href="#mR" x="1695.4" y="1460.8"/><use href="#mR" x="1696.2" y="1464.4"/><use href="#mR" x="1696.6" y="1455.9"/><use href="#mR" x="1697.5" y="1451.7"/><use href="#mR" x="1697.9" y="1452.5"/><use href="#mR" x="1698.3" y="1446"/><use href="#mR" x="1698.9" y="1443.3"/><use href="#mR" x="1699.8" y="1435.9"/><use href="#mR" x="1700.3" y="1440.5"/><use href="#mR" x="1701" y="1434.6"/><use href="#mR" x="1701.6" y="1427"/><use href="#mR" x="1701.9" y="1419.5"/><use href="#mR" x="1702.8" y="1414.2"/><use href="#mR" x="1703.3" y="1410.7"/><use href="#mR" x="1703.9" y="1409.5"/><use href="#mR" x="1704.5" y="1412.2"/><use href="#mR" x="1705" y="1416.6"/><use href="#mR" x="1705.7" y="1420.8"/><use href="#mR" x="1706.4" y="1431.2"/><use href="#mR" x="1707.1" y="1430.5"/><use href="#mR" x="1707.6" y="1431.2"/><use href="#mR" x="1708.1" y="1441.6"/><use href="#mR" x="1708.5" y="1440.2"/><use href="#mR" x="1709.5" y="1437.1"/><use href="#mR" x="1709.6" y="1437.5"/><use href="#mR" x="1710.5" y="1442.9"/><use href="#mR" x="1711.2" y="1451.3"/><use href="#mR" x="1711.9" y="1456.2"/><use href="#mR" x="1712.5" y="1468.7"/><use href="#mR" x="1712.7" y="1465"/><use href="#mR" x="1713.4" y="1474.6"/><use href="#mR" x="1714.3" y="1481.1"/><use href="#mR" x="1714.7" y="1470.3"/><use href="#mR" x="1715.4" y="1492.3"/><use href="#mR" x="1716" y="1489.6"/><use href="#mR" x="1716.2" y="1480.9"/><use href="#mR" x="1717.1" y="1494"/><use href="#mR" x="1717.6" y="1494.9"/><use href="#mR" x="1718" y="1485.9"/><use href="#mR" x="1718.8" y="1482.6"/><use href="#mR" x="1719.5" y="1490.1"/><use href="#mR" x="1719.8" y="1497.1"/><use href="#mR" x="1720.9" y="1496.1"/><use href="#mR" x="1721.5" y="1496.5"/><use href="#mR" x="1721.6" y="1495.7"/><use href="#mR" x="1722.4" y="1507.4"/><use href="#mR" x="1722.9" y="1513.8"/><use href="#mR" x="1723.5" y="1502.3"/><use href="#mR" x="1724.5" y="1514.8"/><use href="#mR" x="1724.9" y="1508.9"/><use href="#mR" x="1725.7" y="1499.7"/><use href="#mR" x="1726" y="1514.9"/><use href="#mR" x="1726.6" y="1502.5"/><use href="#mR" x="1727.2" y="1514.1"/><use href="#mR" x="1727.8" y="1513.4"/><use href="#mR" x="1728.3" y="1516.3"/><use href="#mR" x="1729.2" y="1508.6"/><use href="#mR" x="1729.8" y="1520.6"/><use href="#mR" x="1730.1" y="1520.3"/><use href="#mR" x="1730.6" y="1517.2"/><use href="#mR" x="1731.2" y="1520.7"/><use href="#mR" x="1732.1" y="1512.9"/><use href="#mR" x="1732.8" y="1517.1"/><use href="#mR" x="1733.5" y="1521.7"/><use href="#mR" x="1733.8" y="1524.7"/><use href="#mR" x="1734.5" y="1532.4"/><use href="#mR" x="1734.9" y="1509.9"/><use href="#mR" x="1735.5" y="1525.4"/><use href="#mR" x="1736.4" y="1527"/><use href="#mR" x="1736.6" y="1541.4"/><use href="#mR" x="1737.5" y="1529.1"/><use href="#mR" x="1738.2" y="1515.2"/><use href="#mR" x="1738.7" y="1537"/><use href="#mR" x="1739.1" y="1518.2"/><use href="#mR" x="1740" y="1525.2"/><use href="#mR" x="1740.1" y="1527.9"/><use href="#mR" x="1741" y="1524.2"/><use href="#mR" x="1741.7" y="1524.8"/><use href="#mR" x="1742.4" y="1516.2"/><use href="#mR" x="1743" y="1538"/><use href="#mR" x="1743.1" y="1535.9"/><use href="#mR" x="1743.7" y="1534.9"/><use href="#mR" x="1744.5" y="1539.6"/><use href="#mR" x="1744.9" y="1527.7"/><use href="#mR" x="1745.9" y="1533.9"/><use href="#mR" x="1746.2" y="1532.2"/><use href="#mR" x="1746.9" y="1533.1"/><use href="#mR" x="1747.4" y="1539.4"/><use href="#mR" x="1748.4" y="1548.2"/><use href="#mR" x="1748.7" y="1547.5"/><use href="#mR" x="1749.6" y="1544"/><use href="#mR" x="1749.8" y="1537.7"/><use href="#mR" x="1750.7" y="1542.2"/><use href="#mR" x="1750.9" y="1539.2"/><use href="#mR" x="1751.7" y="1545.3"/><use href="#mR" x="1752.3" y="1527.7"/><use href="#mR" x="1753" y="1542"/><use href="#mR" x="1753.6" y="1527.3"/><use href="#mR" x="1754.1" y="1543.4"/><use href="#mR" x="1754.9" y="1538.9"/><use href="#mR" x="1755.3" y="1531.9"/><use href="#mR" x="1755.7" y="1552.7"/><use href="#mR" x="1756.5" y="1537.3"/><use href="#mR" x="1757.2" y="1535.1"/><use href="#mR" x="1757.8" y="1552.9"/><use href="#mR" x="1758.5" y="1534.7"/><use href="#mR" x="1758.8" y="1543.7"/><use href="#mR" x="1759.4" y="1540.2"/><use href="#mR" x="1760.4" y="1542.6"/><use href="#mR" x="1761" y="1549.4"/><use href="#mR" x="1761.4" y="1552.4"/><use href="#mR" x="1762" y="1544.2"/><use href="#mR" x="1762.6" y="1559.3"/><use href="#mR" x="1763.1" y="1551.6"/><use href="#mR" x="1763.6" y="1546.9"/><use href="#mR" x="1764.5" y="1548.3"/><use href="#mR" x="1765.1" y="1554.3"/><use href="#mR" x="1765.4" y="1543.8"/><use href="#mR" x="1766.1" y="1550.1"/><use href="#mR" x="1766.6" y="1558.5"/><use href="#mR" x="1767.2" y="1562.1"/><use href="#mR" x="1767.9" y="1572.2"/><use href="#mR" x="1768.4" y="1561.7"/><use href="#mR" x="1769.2" y="1551.2"/><use href="#mR" x="1769.8" y="1563.3"/><use href="#mR" x="1770.6" y="1556.8"/><use href="#mR" x="1770.9" y="1557.7"/><use href="#mR" x="1771.5" y="1563.9"/><use href="#mR" x="1772.2" y="1553.4"/><use href="#mR" x="1772.7" y="1556.4"/><use href="#mR" x="1773.3" y="1545.9"/><use href="#mR" x="1773.9" y="1564.8"/><use href="#mR" x="1774.7" y="1567.1"/><use href="#mR" x="1775.2" y="1561.8"/><use href="#mR" x="1775.8" y="1546.3"/><use href="#mR" x="1776.4" y="1567.4"/><use href="#mR" x="1777" y="1551.7"/><use href="#mR" x="1777.3" y="1554.8"/><use href="#mR" x="1778.4" y="1557.8"/><use href="#mR" x="1778.6" y="1558.9"/><use href="#mR" x="1779.2" y="1551.2"/><use href="#mR" x="1780.1" y="1566"/><use href="#mR" x="1780.4" y="1559.8"/><use href="#mR" x="1781" y="1556.5"/><use href="#mR" x="1781.8" y="1554.7"/><use href="#mR" x="1782.2" y="1557.7"/><use href="#mR" x="1782.8" y="1551.6"/><use href="#mR" x="1783.2" y="1548.2"/><use href="#mR" x="1784.1" y="1558.4"/><use href="#mR" x="1784.5" y="1559.6"/><use href="#mR" x="1785.1" y="1562.1"/><use href="#mR" x="1786" y="1557.9"/><use href="#mR" x="1786.4" y="1556.5"/><use href="#mR" x="1786.9" y="1561"/><use href="#mR" x="1787.8" y="1565.3"/><use href="#mR" x="1788.3" y="1550.4"/><use href="#mR" x="1788.8" y="1564.5"/><use href="#mR" x="1789.7" y="1565"/><use href="#mR" x="1790.1" y="1558"/><use href="#mR" x="1790.9" y="1569.8"/><use href="#mR" x="1791.2" y="1550.4"/><use href="#mR" x="1792.1" y="1558.5"/><use href="#mR" x="1792.4" y="1561.7"/><use href="#mR" x="1793.1" y="1562.6"/><use href="#mR" x="1793.5" y="1554"/><use href="#mR" x="1794.1" y="1559.8"/><use href="#mR" x="1795" y="1558.1"/><use href="#mR" x="1795.7" y="1553.4"/><use href="#mR" x="1796.1" y="1561.9"/><use href="#mR" x="1796.4" y="1565.8"/><use href="#mR" x="1797.3" y="1562.5"/><use href="#mR" x="1797.8" y="1577.7"/><use href="#mR" x="1798.3" y="1573.7"/><use href="#mR" x="1799.1" y="1560.2"/><use href="#mR" x="1799.7" y="1563.6"/><use href="#mR" x="1800.3" y="1567.4"/><use href="#mR" x="1801" y="1561.6"/><use href="#mR" x="1801.5" y="1573.6"/><use href="#mR" x="1802.3" y="1555.6"/><use href="#mR" x="1802.9" y="1559.1"/><use href="#mR" x="1803.1" y="1570.8"/><use href="#mR" x="1803.7" y="1556.8"/><use href="#mR" x="1804.5" y="1567.6"/><use href="#mR" x="1804.8" y="1576.7"/><use href="#mR" x="1805.7" y="1575"/><use href="#mR" x="1806.2" y="1570.7"/><use href="#mR" x="1807.1" y="1564.5"/><use href="#mR" x="1807.4" y="1569.4"/><use href="#mR" x="1808.1" y="1566.4"/><use href="#mR" x="1808.8" y="1571.4"/><use href="#mR" x="1809.3" y="1575.1"/><use href="#mR" x="1809.6" y="1560"/><use href="#mR" x="1810.3" y="1564.3"/><use href="#mR" x="1810.8" y="1580.6"/><use href="#mR" x="1811.4" y="1571.1"/><use href="#mR" x="1812.2" y="1580.8"/><use href="#mR" x="1813" y="1573.5"/><use href="#mR" x="1813.7" y="1579.1"/><use href="#mR" x="1814.3" y="1568.4"/><use href="#mR" x="1814.6" y="1576.3"/><use href="#mR" x="1815.5" y="1580.5"/><use href="#mR" x="1815.6" y="1577.8"/><use href="#mR" x="1816.7" y="1573.5"/><use href="#mR" x="1817" y="1578.6"/><use href="#mR" x="1817.5" y="1577.1"/><use href="#mR" x="1818.3" y="1566.5"/><use href="#mR" x="1819" y="1569.2"/><use href="#mR" x="1819.3" y="1583.8"/><use href="#mR" x="1820.2" y="1576.6"/><use href="#mR" x="1820.4" y="1576.9"/><use href="#mR" x="1821.4" y="1584.5"/><use href="#mR" x="1821.9" y="1567.5"/><use href="#mR" x="1822.6" y="1584.3"/><use href="#mR" x="1822.9" y="1578.4"/><use href="#mR" x="1823.3" y="1578.1"/><use href="#mR" x="1824.3" y="1563.3"/><use href="#mR" x="1824.9" y="1561.2"/><use href="#mR" x="1825.4" y="1573.7"/><use href="#mR" x="1825.8" y="1578.4"/><use href="#mR" x="1826.4" y="1571.5"/><use href="#mR" x="1826.9" y="1563.3"/><use href="#mR" x="1828" y="1582.8"/><use href="#mR" x="1828.4" y="1568.3"/><use href="#mR" x="1829.1" y="1574.6"/><use href="#mR" x="1829.3" y="1588.2"/><use href="#mR" x="1830.1" y="1566.9"/><use href="#mR" x="1830.7" y="1567.6"/><use href="#mR" x="1831.5" y="1570.7"/><use href="#mR" x="1831.7" y="1574.2"/><use href="#mR" x="1832.7" y="1576.4"/><use href="#mR" x="1833.2" y="1580.4"/><use href="#mR" x="1834" y="1591.1"/><use href="#mR" x="1834.6" y="1579.4"/><use href="#mR" x="1835.2" y="1586.8"/><use href="#mR" x="1835.8" y="1580.3"/><use href="#mR" x="1836.2" y="1583.6"/><use href="#mR" x="1837" y="1577.6"/><use href="#mR" x="1837.3" y="1585.2"/><use href="#mR" x="1838.2" y="1573.9"/><use href="#mR" x="1838.8" y="1582"/><use href="#mR" x="1838.9" y="1581.3"/><use href="#mR" x="1839.5" y="1580.2"/><use href="#mR" x="1840.5" y="1580.2"/><use href="#mR" x="1841.2" y="1583.6"/><use href="#mR" x="1841.6" y="1577"/><use href="#mR" x="1842.1" y="1573.1"/><use href="#mR" x="1842.7" y="1590.6"/><use href="#mR" x="1843.4" y="1577.9"/><use href="#mR" x="1844.2" y="1582"/><use href="#mR" x="1844.6" y="1580.4"/><use href="#mR" x="1844.9" y="1586.7"/><use href="#mR" x="1845.7" y="1589.7"/><use href="#mR" x="1846.5" y="1585.5"/></g><rect x="1562.5" y="1345" width="281.0" height="280" fill="none" stroke="#727272" stroke-width="3"/><path d="M1590.6,1625v-13M1590.6,1345v13" stroke="#727272" stroke-width="3"/><path d="M1703,1625v-13M1703,1345v13" stroke="#727272" stroke-width="3"/><path d="M1815.4,1625v-13M1815.4,1345v13" stroke="#727272" stroke-width="3"/><path d="M1562.5,1431.2h13M1843.5,1431.2h-13" stroke="#727272" stroke-width="3"/><path d="M1562.5,1517.3h13M1843.5,1517.3h-13" stroke="#727272" stroke-width="3"/><path d="M1562.5,1603.5h13M1843.5,1603.5h-13" stroke="#727272" stroke-width="3"/><text x="1590.6" y="1661" font-size="37" fill="#111" text-anchor="middle" >−400</text><text x="1703" y="1661" font-size="37" fill="#111" text-anchor="middle" >0</text><text x="1815.4" y="1661" font-size="37" fill="#111" text-anchor="middle" >400</text><text x="1558.5" y="1358" font-size="37" fill="#111" text-anchor="end" >−50</text><text x="1558.5" y="1444.2" font-size="37" fill="#111" text-anchor="end" >−70</text><text x="1558.5" y="1530.3" font-size="37" fill="#111" text-anchor="end" >−90</text><text x="1558.5" y="1616.5" font-size="37" fill="#111" text-anchor="end" >−110</text><text x="1703.5" y="1712.3" font-size="38.3" fill="#111" text-anchor="middle" >Frequency (Hz)</text><text transform="translate(1455.7,1485.0) rotate(-90)" font-size="38.3" fill="#111" text-anchor="middle">Spectrum (dBm)</text><text x="15" y="54" font-size="60" font-weight="bold" fill="#000">a</text><text x="1007" y="55" font-size="60" font-weight="bold" fill="#000">b</text><text x="16" y="458" font-size="60" font-weight="bold" fill="#000">c</text><text x="15" y="724" font-size="60" font-weight="bold" fill="#000">d</text><text x="1008" y="724" font-size="60" font-weight="bold" fill="#000">g</text><text x="15" y="1324" font-size="60" font-weight="bold" fill="#000">e</text><text x="441" y="1324" font-size="60" font-weight="bold" fill="#000">f</text><text x="1008" y="1325" font-size="60" font-weight="bold" fill="#000">h</text><text x="1440" y="1325" font-size="60" font-weight="bold" fill="#000">i</text>
</svg>
</body></html>
